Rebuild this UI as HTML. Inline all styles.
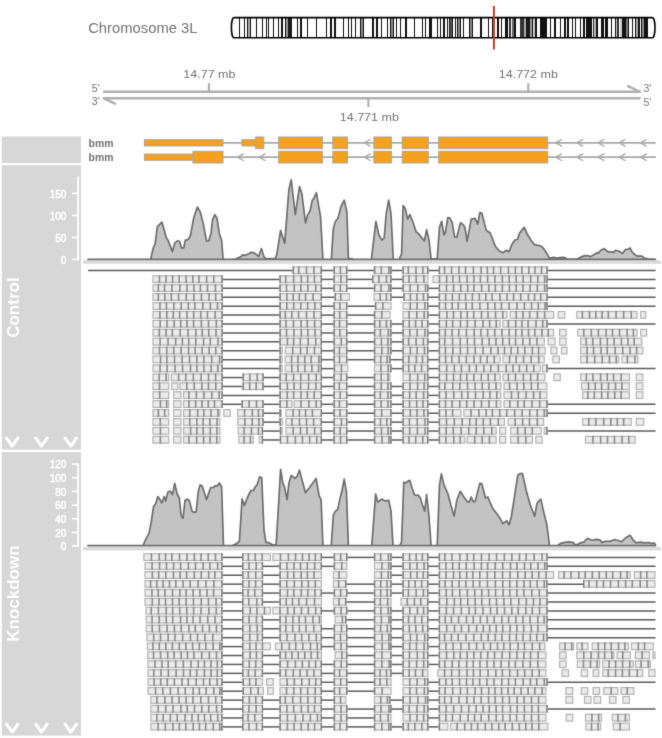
<!DOCTYPE html>
<html><head><meta charset="utf-8"><title>Gviz tracks</title>
<style>html,body{margin:0;padding:0;background:#fff;} svg{display:block;}</style></head>
<body><svg width="662" height="738" viewBox="0 0 662 738">
<defs><filter id="soft" filterUnits="userSpaceOnUse" x="0" y="0" width="662" height="738" color-interpolation-filters="sRGB"><feConvolveMatrix order="3" kernelMatrix="0.01134 0.08382 0.01134 0.08382 0.61935 0.08382 0.01134 0.08382 0.01134" edgeMode="duplicate"/></filter></defs>
<g filter="url(#soft)">
<rect width="662" height="738" fill="#fff"/>
<text x="88.2" y="33.2" font-family="Liberation Sans, Arial, sans-serif" font-size="14.8" fill="#747474">Chromosome 3L</text>
<rect x="231.4" y="17.6" width="423.6" height="20.2" rx="2.6" ry="10" fill="#fff"/>
<rect x="239" y="17.6" width="1" height="20.2" fill="#111"/>
<rect x="244" y="17.6" width="1" height="20.2" fill="#111"/>
<rect x="247" y="17.6" width="1" height="20.2" fill="#111"/>
<rect x="248" y="17.6" width="2" height="20.2" fill="#aaa"/>
<rect x="250" y="17.6" width="1" height="20.2" fill="#111"/>
<rect x="256" y="17.6" width="1" height="20.2" fill="#111"/>
<rect x="262" y="17.6" width="1" height="20.2" fill="#111"/>
<rect x="266" y="17.6" width="1" height="20.2" fill="#111"/>
<rect x="268" y="17.6" width="1" height="20.2" fill="#111"/>
<rect x="273" y="17.6" width="1" height="20.2" fill="#111"/>
<rect x="278" y="17.6" width="1" height="20.2" fill="#111"/>
<rect x="281" y="17.6" width="2" height="20.2" fill="#111"/>
<rect x="285" y="17.6" width="1" height="20.2" fill="#111"/>
<rect x="286" y="17.6" width="2" height="20.2" fill="#999"/>
<rect x="288" y="17.6" width="4" height="20.2" fill="#1a1a1a"/>
<rect x="297" y="17.6" width="1" height="20.2" fill="#111"/>
<rect x="300" y="17.6" width="2" height="20.2" fill="#111"/>
<rect x="307" y="17.6" width="1" height="20.2" fill="#111"/>
<rect x="316" y="17.6" width="1" height="20.2" fill="#111"/>
<rect x="326" y="17.6" width="1" height="20.2" fill="#111"/>
<rect x="330" y="17.6" width="2" height="20.2" fill="#111"/>
<rect x="334" y="17.6" width="2" height="20.2" fill="#111"/>
<rect x="343" y="17.6" width="1" height="20.2" fill="#111"/>
<rect x="348" y="17.6" width="1" height="20.2" fill="#111"/>
<rect x="351" y="17.6" width="1" height="20.2" fill="#111"/>
<rect x="355" y="17.6" width="1" height="20.2" fill="#111"/>
<rect x="360" y="17.6" width="1" height="20.2" fill="#111"/>
<rect x="361" y="17.6" width="2" height="20.2" fill="#888"/>
<rect x="363" y="17.6" width="1" height="20.2" fill="#111"/>
<rect x="372" y="17.6" width="2" height="20.2" fill="#111"/>
<rect x="376" y="17.6" width="2" height="20.2" fill="#111"/>
<rect x="381" y="17.6" width="1" height="20.2" fill="#111"/>
<rect x="387" y="17.6" width="1" height="20.2" fill="#111"/>
<rect x="390" y="17.6" width="1" height="20.2" fill="#111"/>
<rect x="391" y="17.6" width="2" height="20.2" fill="#888"/>
<rect x="393" y="17.6" width="1" height="20.2" fill="#111"/>
<rect x="396" y="17.6" width="1" height="20.2" fill="#111"/>
<rect x="400" y="17.6" width="1" height="20.2" fill="#111"/>
<rect x="405" y="17.6" width="2" height="20.2" fill="#111"/>
<rect x="414" y="17.6" width="1" height="20.2" fill="#111"/>
<rect x="422" y="17.6" width="1" height="20.2" fill="#111"/>
<rect x="425" y="17.6" width="1" height="20.2" fill="#111"/>
<rect x="429" y="17.6" width="3" height="20.2" fill="#111"/>
<rect x="437" y="17.6" width="1" height="20.2" fill="#111"/>
<rect x="440" y="17.6" width="1" height="20.2" fill="#111"/>
<rect x="443" y="17.6" width="2" height="20.2" fill="#111"/>
<rect x="447" y="17.6" width="1" height="20.2" fill="#111"/>
<rect x="449" y="17.6" width="1" height="20.2" fill="#111"/>
<rect x="450" y="17.6" width="2" height="20.2" fill="#555"/>
<rect x="452" y="17.6" width="1" height="20.2" fill="#111"/>
<rect x="455" y="17.6" width="1" height="20.2" fill="#111"/>
<rect x="457" y="17.6" width="1" height="20.2" fill="#111"/>
<rect x="458" y="17.6" width="2" height="20.2" fill="#888"/>
<rect x="460" y="17.6" width="1" height="20.2" fill="#111"/>
<rect x="463" y="17.6" width="1" height="20.2" fill="#111"/>
<rect x="469" y="17.6" width="1" height="20.2" fill="#111"/>
<rect x="470" y="17.6" width="2" height="20.2" fill="#888"/>
<rect x="472" y="17.6" width="1" height="20.2" fill="#111"/>
<rect x="480" y="17.6" width="2" height="20.2" fill="#111"/>
<rect x="488" y="17.6" width="1" height="20.2" fill="#111"/>
<rect x="492" y="17.6" width="1" height="20.2" fill="#111"/>
<rect x="497" y="17.6" width="2" height="20.2" fill="#111"/>
<rect x="501" y="17.6" width="1" height="20.2" fill="#111"/>
<rect x="505" y="17.6" width="3" height="20.2" fill="#111"/>
<rect x="509" y="17.6" width="2" height="20.2" fill="#333"/>
<rect x="512" y="17.6" width="3" height="20.2" fill="#666"/>
<rect x="514" y="17.6" width="2" height="20.2" fill="#111"/>
<rect x="520" y="17.6" width="4" height="20.2" fill="#333"/>
<rect x="524" y="17.6" width="2" height="20.2" fill="#aaa"/>
<rect x="526" y="17.6" width="4" height="20.2" fill="#1a1a1a"/>
<rect x="530" y="17.6" width="2" height="20.2" fill="#999"/>
<rect x="532" y="17.6" width="1" height="20.2" fill="#111"/>
<rect x="533" y="17.6" width="2" height="20.2" fill="#ccc"/>
<rect x="535" y="17.6" width="2" height="20.2" fill="#111"/>
<rect x="540" y="17.6" width="7" height="20.2" fill="#111"/>
<rect x="550" y="17.6" width="1" height="20.2" fill="#111"/>
<rect x="554" y="17.6" width="2" height="20.2" fill="#111"/>
<rect x="560" y="17.6" width="1" height="20.2" fill="#111"/>
<rect x="564" y="17.6" width="2" height="20.2" fill="#111"/>
<rect x="567" y="17.6" width="2" height="20.2" fill="#111"/>
<rect x="572" y="17.6" width="1" height="20.2" fill="#111"/>
<rect x="575" y="17.6" width="1" height="20.2" fill="#111"/>
<rect x="580" y="17.6" width="1" height="20.2" fill="#111"/>
<rect x="583" y="17.6" width="2" height="20.2" fill="#111"/>
<rect x="586" y="17.6" width="6" height="20.2" fill="#111"/>
<rect x="593" y="17.6" width="1" height="20.2" fill="#333"/>
<rect x="594" y="17.6" width="2" height="20.2" fill="#bbb"/>
<rect x="596" y="17.6" width="2" height="20.2" fill="#111"/>
<rect x="601" y="17.6" width="3" height="20.2" fill="#111"/>
<rect x="605" y="17.6" width="3" height="20.2" fill="#111"/>
<rect x="611" y="17.6" width="1" height="20.2" fill="#111"/>
<rect x="615" y="17.6" width="1" height="20.2" fill="#111"/>
<rect x="616" y="17.6" width="1" height="20.2" fill="#ccc"/>
<rect x="617" y="17.6" width="2" height="20.2" fill="#333"/>
<rect x="620" y="17.6" width="2" height="20.2" fill="#ccc"/>
<rect x="622" y="17.6" width="4" height="20.2" fill="#111"/>
<rect x="626" y="17.6" width="2" height="20.2" fill="#777"/>
<rect x="628" y="17.6" width="1" height="20.2" fill="#111"/>
<rect x="632" y="17.6" width="1" height="20.2" fill="#111"/>
<rect x="635" y="17.6" width="1" height="20.2" fill="#111"/>
<rect x="636" y="17.6" width="2" height="20.2" fill="#aaa"/>
<rect x="638" y="17.6" width="2" height="20.2" fill="#111"/>
<rect x="641" y="17.6" width="1" height="20.2" fill="#111"/>
<rect x="642" y="17.6" width="2" height="20.2" fill="#888"/>
<rect x="644" y="17.6" width="4" height="20.2" fill="#111"/>
<rect x="231.4" y="17.6" width="423.6" height="20.2" rx="2.6" ry="10" fill="none" stroke="#000" stroke-width="1.6"/>
<path d="M239.8 17.6 Q236.5 27.7 239.8 37.8" fill="none" stroke="#000" stroke-width="0"/>
<rect x="492.9" y="5.9" width="2" height="43.7" fill="#bb4236"/>
<line x1="103.1" y1="91.7" x2="640.6" y2="91.7" stroke="#b0b0b0" stroke-width="2.6"/>
<line x1="103.1" y1="98.3" x2="640.6" y2="98.3" stroke="#b0b0b0" stroke-width="2.6"/>
<line x1="104" y1="98.3" x2="115" y2="103.6" stroke="#b0b0b0" stroke-width="2.6" stroke-linecap="round"/>
<line x1="628" y1="86.2" x2="639.6" y2="91.7" stroke="#b0b0b0" stroke-width="2.6" stroke-linecap="round"/>
<line x1="208.9" y1="83.2" x2="208.9" y2="91" stroke="#b0b0b0" stroke-width="2.2"/>
<line x1="528.3" y1="83.2" x2="528.3" y2="91" stroke="#b0b0b0" stroke-width="2.2"/>
<line x1="368.4" y1="99" x2="368.4" y2="107" stroke="#b0b0b0" stroke-width="2.2"/>
<text transform="translate(209.4 77.9) scale(1.08 1)" font-size="11.6" text-anchor="middle" font-family="Liberation Sans, Arial, sans-serif" fill="#747474">14.77 mb</text>
<text transform="translate(528.3 77.9) scale(1.08 1)" font-size="11.6" text-anchor="middle" font-family="Liberation Sans, Arial, sans-serif" fill="#747474">14.772 mb</text>
<text transform="translate(369.3 121.2) scale(1.08 1)" font-size="11.6" text-anchor="middle" font-family="Liberation Sans, Arial, sans-serif" fill="#747474">14.771 mb</text>
<text x="91.8" y="91.5" font-size="10.5" font-family="Liberation Sans, Arial, sans-serif" fill="#747474">5'</text>
<text x="91.8" y="105.4" font-size="10.5" font-family="Liberation Sans, Arial, sans-serif" fill="#747474">3'</text>
<text x="643.5" y="91.5" font-size="10.5" font-family="Liberation Sans, Arial, sans-serif" fill="#747474">3'</text>
<text x="643.5" y="105.9" font-size="10.5" font-family="Liberation Sans, Arial, sans-serif" fill="#747474">5'</text>
<rect x="1.8" y="136.5" width="79.2" height="26.5" fill="#d7d7d7"/>
<rect x="1.8" y="165.2" width="79.2" height="284.5" fill="#d7d7d7"/>
<rect x="1.8" y="452" width="79.2" height="283.6" fill="#d7d7d7"/>
<text transform="translate(19.2 307.6) rotate(-90)" text-anchor="middle" font-size="17" font-weight="bold" font-family="Liberation Sans, Arial, sans-serif" fill="#fff">Control</text>
<text transform="translate(19.3 593.6) rotate(-90)" text-anchor="middle" font-size="17" font-weight="bold" font-family="Liberation Sans, Arial, sans-serif" fill="#fff">Knockdown</text>
<line x1="78.1" y1="176.4" x2="78.1" y2="260.2" stroke="#fff" stroke-width="1.8"/>
<line x1="72" y1="259.4" x2="78.5" y2="259.4" stroke="#fff" stroke-width="1.7"/>
<text x="66.4" y="263.5" font-size="10" text-anchor="end" stroke="#fff" stroke-width="0.5" font-family="Liberation Sans, Arial, sans-serif" fill="#fff">0</text>
<line x1="72" y1="237.4" x2="78.5" y2="237.4" stroke="#fff" stroke-width="1.7"/>
<text x="66.4" y="241.5" font-size="10" text-anchor="end" stroke="#fff" stroke-width="0.5" font-family="Liberation Sans, Arial, sans-serif" fill="#fff">50</text>
<line x1="72" y1="215.4" x2="78.5" y2="215.4" stroke="#fff" stroke-width="1.7"/>
<text x="66.4" y="219.5" font-size="10" text-anchor="end" stroke="#fff" stroke-width="0.5" font-family="Liberation Sans, Arial, sans-serif" fill="#fff">100</text>
<line x1="72" y1="193.4" x2="78.5" y2="193.4" stroke="#fff" stroke-width="1.7"/>
<text x="66.4" y="197.5" font-size="10" text-anchor="end" stroke="#fff" stroke-width="0.5" font-family="Liberation Sans, Arial, sans-serif" fill="#fff">150</text>
<line x1="78.1" y1="463.4" x2="78.1" y2="546.8" stroke="#fff" stroke-width="1.8"/>
<line x1="72" y1="546.1" x2="78.5" y2="546.1" stroke="#fff" stroke-width="1.7"/>
<text x="66.4" y="550.2" font-size="10" text-anchor="end" stroke="#fff" stroke-width="0.5" font-family="Liberation Sans, Arial, sans-serif" fill="#fff">0</text>
<line x1="72" y1="532.43" x2="78.5" y2="532.43" stroke="#fff" stroke-width="1.7"/>
<text x="66.4" y="536.53" font-size="10" text-anchor="end" stroke="#fff" stroke-width="0.5" font-family="Liberation Sans, Arial, sans-serif" fill="#fff">20</text>
<line x1="72" y1="518.76" x2="78.5" y2="518.76" stroke="#fff" stroke-width="1.7"/>
<text x="66.4" y="522.86" font-size="10" text-anchor="end" stroke="#fff" stroke-width="0.5" font-family="Liberation Sans, Arial, sans-serif" fill="#fff">40</text>
<line x1="72" y1="505.09" x2="78.5" y2="505.09" stroke="#fff" stroke-width="1.7"/>
<text x="66.4" y="509.19" font-size="10" text-anchor="end" stroke="#fff" stroke-width="0.5" font-family="Liberation Sans, Arial, sans-serif" fill="#fff">60</text>
<line x1="72" y1="491.42" x2="78.5" y2="491.42" stroke="#fff" stroke-width="1.7"/>
<text x="66.4" y="495.52" font-size="10" text-anchor="end" stroke="#fff" stroke-width="0.5" font-family="Liberation Sans, Arial, sans-serif" fill="#fff">80</text>
<line x1="72" y1="477.75" x2="78.5" y2="477.75" stroke="#fff" stroke-width="1.7"/>
<text x="66.4" y="481.85" font-size="10" text-anchor="end" stroke="#fff" stroke-width="0.5" font-family="Liberation Sans, Arial, sans-serif" fill="#fff">100</text>
<line x1="72" y1="464.08" x2="78.5" y2="464.08" stroke="#fff" stroke-width="1.7"/>
<text x="66.4" y="468.18" font-size="10" text-anchor="end" stroke="#fff" stroke-width="0.5" font-family="Liberation Sans, Arial, sans-serif" fill="#fff">120</text>
<polyline points="5.8,437.2 12.2,446.1 18.6,437.2" fill="none" stroke="#fff" stroke-width="3" stroke-linejoin="round"/>
<polyline points="35.1,437.2 41.5,446.1 47.9,437.2" fill="none" stroke="#fff" stroke-width="3" stroke-linejoin="round"/>
<polyline points="64.4,437.2 70.8,446.1 77.2,437.2" fill="none" stroke="#fff" stroke-width="3" stroke-linejoin="round"/>
<polyline points="5.8,723.2 12.2,732.1 18.6,723.2" fill="none" stroke="#fff" stroke-width="3" stroke-linejoin="round"/>
<polyline points="35.1,723.2 41.5,732.1 47.9,723.2" fill="none" stroke="#fff" stroke-width="3" stroke-linejoin="round"/>
<polyline points="64.4,723.2 70.8,732.1 77.2,723.2" fill="none" stroke="#fff" stroke-width="3" stroke-linejoin="round"/>
<rect x="83" y="260.3" width="578" height="3.5" fill="#dadada"/>
<rect x="83" y="546.8" width="578" height="3.6" fill="#dadada"/>
<text x="88.6" y="146.5" font-size="10.4" font-family="Liberation Sans, Arial, sans-serif" font-weight="bold" fill="#737373">bmm</text>
<text x="88.6" y="160.8" font-size="10.4" font-family="Liberation Sans, Arial, sans-serif" font-weight="bold" fill="#737373">bmm</text>
<line x1="144" y1="142.85" x2="655.7" y2="142.85" stroke="#a8a8a8" stroke-width="1.6"/>
<polyline points="370.6,139.25 364.3,142.85 370.6,146.45" fill="none" stroke="#a8a8a8" stroke-width="1.4"/>
<polyline points="562,139.25 555.7,142.85 562,146.45" fill="none" stroke="#a8a8a8" stroke-width="1.4"/>
<polyline points="583.2,139.25 576.9,142.85 583.2,146.45" fill="none" stroke="#a8a8a8" stroke-width="1.4"/>
<polyline points="604.4,139.25 598.1,142.85 604.4,146.45" fill="none" stroke="#a8a8a8" stroke-width="1.4"/>
<polyline points="625.5,139.25 619.2,142.85 625.5,146.45" fill="none" stroke="#a8a8a8" stroke-width="1.4"/>
<polyline points="646.7,139.25 640.4,142.85 646.7,146.45" fill="none" stroke="#a8a8a8" stroke-width="1.4"/>
<rect x="144.4" y="139.75" width="78.6" height="6.2" fill="#f6a11d" stroke="#a5a5a5" stroke-width="1"/>
<rect x="241.9" y="139.75" width="13.9" height="6.2" fill="#f6a11d" stroke="#a5a5a5" stroke-width="1"/>
<rect x="255.6" y="137" width="8.2" height="11.7" fill="#f6a11d" stroke="#a5a5a5" stroke-width="1"/>
<rect x="278.7" y="137" width="43.7" height="11.7" fill="#f6a11d" stroke="#a5a5a5" stroke-width="1"/>
<rect x="332.8" y="137" width="14.6" height="11.7" fill="#f6a11d" stroke="#a5a5a5" stroke-width="1"/>
<rect x="373.9" y="137" width="17.5" height="11.7" fill="#f6a11d" stroke="#a5a5a5" stroke-width="1"/>
<rect x="402.2" y="137" width="26.1" height="11.7" fill="#f6a11d" stroke="#a5a5a5" stroke-width="1"/>
<rect x="438.7" y="137" width="109" height="11.7" fill="#f6a11d" stroke="#a5a5a5" stroke-width="1"/>
<line x1="144" y1="157.15" x2="655.7" y2="157.15" stroke="#a8a8a8" stroke-width="1.6"/>
<polyline points="243.8,153.55 237.5,157.15 243.8,160.75" fill="none" stroke="#a8a8a8" stroke-width="1.4"/>
<polyline points="265.5,153.55 259.2,157.15 265.5,160.75" fill="none" stroke="#a8a8a8" stroke-width="1.4"/>
<polyline points="370.6,153.55 364.3,157.15 370.6,160.75" fill="none" stroke="#a8a8a8" stroke-width="1.4"/>
<polyline points="562,153.55 555.7,157.15 562,160.75" fill="none" stroke="#a8a8a8" stroke-width="1.4"/>
<polyline points="583.2,153.55 576.9,157.15 583.2,160.75" fill="none" stroke="#a8a8a8" stroke-width="1.4"/>
<polyline points="604.4,153.55 598.1,157.15 604.4,160.75" fill="none" stroke="#a8a8a8" stroke-width="1.4"/>
<polyline points="625.5,153.55 619.2,157.15 625.5,160.75" fill="none" stroke="#a8a8a8" stroke-width="1.4"/>
<polyline points="646.7,153.55 640.4,157.15 646.7,160.75" fill="none" stroke="#a8a8a8" stroke-width="1.4"/>
<rect x="144.4" y="154.05" width="48.6" height="6.2" fill="#f6a11d" stroke="#a5a5a5" stroke-width="1"/>
<rect x="193" y="151.3" width="30" height="11.7" fill="#f6a11d" stroke="#a5a5a5" stroke-width="1"/>
<rect x="278.7" y="151.3" width="43.7" height="11.7" fill="#f6a11d" stroke="#a5a5a5" stroke-width="1"/>
<rect x="332.8" y="151.3" width="14.6" height="11.7" fill="#f6a11d" stroke="#a5a5a5" stroke-width="1"/>
<rect x="373.9" y="151.3" width="17.5" height="11.7" fill="#f6a11d" stroke="#a5a5a5" stroke-width="1"/>
<rect x="402.2" y="151.3" width="26.1" height="11.7" fill="#f6a11d" stroke="#a5a5a5" stroke-width="1"/>
<rect x="438.7" y="151.3" width="109" height="11.7" fill="#f6a11d" stroke="#a5a5a5" stroke-width="1"/>
<polygon points="88,259.4 150.6,259.4 153.3,247.8 155.1,244 157.4,226.6 161.9,222.1 166.4,238 168,240.2 172.5,251.6 174.7,243.3 177,241 179.3,241 181.5,247.8 183.8,247.8 185.3,240.2 188.3,239.5 190.6,235 193.6,218.3 197.4,207 200.4,212.3 203.4,224.4 206.5,241 208.7,241 211,233.4 212.5,219.8 214.8,214.6 217,218.3 219.3,233.4 221.6,240.2 223.1,259.4 232,259.4 236,258.8 240.6,256.9 242.8,254.9 245.1,255.3 248.9,253.8 251.1,252.3 254.2,252.8 256.4,254.6 258.7,256.4 261.4,248.5 264,256.9 266.3,258.8 275.3,258.4 276.8,254.6 280.6,230.4 284.7,243.3 288.9,189.6 291.2,179.8 295.3,214.6 299.5,186.6 301.8,193.4 305.5,222.9 307.8,214.6 310.1,210.8 312.3,200.2 313.8,198.7 316.4,192.7 320.6,216.8 322.9,259.4 331.3,259.4 333.3,228.9 335.1,222.1 336.6,219.8 338.1,218 341.1,206.3 344.2,200.2 346.9,212.3 348.4,258.4 354.7,259.4 371.4,259.4 375.9,221.4 378.9,235 381.9,240.2 384.2,238 386.2,213.8 388.7,200.2 391,213.8 393.3,259.4 399.3,259.4 401.6,253.8 403.1,205.5 405.3,208.5 407.6,219.1 409.9,214.6 412.9,222.1 416.2,231.9 418.3,233.4 424.4,241 426.6,229.7 428.9,239.5 431.1,258.8 437.2,258.8 439.5,227.4 441.7,221.4 444,235 445.5,231.9 447.8,217.6 450,218 452.3,222.9 454.6,237.2 456.8,237.2 460.6,222.6 463.6,225.1 465.1,228.2 467.1,241.3 471.2,219.1 475,218.3 477.7,224.1 479.8,212.6 481.8,213 486.3,230.4 490.1,232.7 495.3,246.3 499.1,250.8 502.9,252.8 506,250.4 509.1,251.6 512.1,244 515.1,239.8 517.4,239.5 519.6,233.1 524.2,227.4 527.2,234.2 531,240.2 534.7,244.8 539.3,245.5 542.3,247 546.1,252.3 549.5,258.4 553.6,257.3 556.6,258.1 560.4,257.6 564.3,257.4 568,259.2 577.1,259.2 580.9,257.1 584.7,255.6 588.4,255.9 590.7,256.6 593.7,254.7 596.7,252.9 598.3,253.2 600.5,250.6 604.3,248.6 607.3,251.4 609.6,252.1 611.8,251.8 613.4,252.6 615.6,250.3 619.4,251.4 622.4,253.6 625.4,249.5 628.5,249.1 630,248 632.2,252.1 636,255.6 639,256.2 642.1,256.2 644.3,258.2 648.1,258.9 655.5,259.4 655.5,259.4 88,259.4" fill="#c3c3c3" stroke="#6e6e6e" stroke-width="1.7" stroke-linejoin="round"/>
<polygon points="88,545.6 143,545.6 146,538.8 149.1,533.2 151.3,521.5 153.6,506.4 155.9,503.3 157.8,496.5 159.6,498.8 161.9,503 164.2,496.5 165.7,501.1 167.9,492 170.2,491 172.5,494.6 174.7,483.4 177,493.5 179.3,498 181.1,515.4 183,518.4 185,500.3 187.6,499.1 189.5,501.1 192.1,511.2 194.1,512.4 196.2,511.6 198.2,492 200.1,484.9 202.2,486 206.5,499.6 210.7,487.5 213.3,487.5 215.5,485.7 217.3,486 219.3,483 221.6,486.7 223.5,545.6 232.3,545.6 236.8,543.4 239.4,541.1 242.1,498.8 244.4,505.6 246.6,499.6 248.9,494.3 251.1,490.5 253.4,490.5 254.9,487.5 257.2,484.5 259.5,476.9 261.7,477.7 264,530.5 266,542.3 268.5,542.6 273,544.9 276.1,544.9 278.3,509.4 280.6,469.4 282.9,483.7 284.4,486.7 287.1,499.6 288.9,483 291.2,475.4 295,478.4 297.2,476.1 299.5,470.1 301.8,479.2 305.5,492.8 310.1,486.7 316.1,478.4 319.1,495.8 321.1,499.6 322.9,545.6 331.3,545.6 333.3,515.4 335.1,511.6 337.8,509.1 339.6,500.3 341.9,491.3 344.2,479.2 346.4,491.3 348.4,545.6 371.8,545.6 375.6,494 377.7,502.1 380.1,500.3 382.2,499.1 384.7,501.1 388.7,500.3 391,510.9 393,545.6 399.8,545.6 401.6,541.9 403.8,482.2 405.8,483 407.6,481.4 409.9,480.4 412.1,488.2 414.4,494.6 416.7,495.5 418.2,495 420.3,498 422.4,504.8 424.7,511.2 426.6,494.6 428.9,515.4 431.1,545.6 437.2,545.6 439.5,485.2 441.4,473.9 444,485.2 447.8,493.5 450.8,504.8 454.1,516.2 456.8,500.3 460.3,491.3 463.6,496.5 467.4,501.8 469.2,501.8 471.2,497 473.4,501.8 475.3,501.1 479.8,483.4 481.8,483.7 485.5,498 487.8,497 492.8,508.6 497.6,514.7 500,518.4 503,523.7 506.8,520.7 509.1,524.8 511.3,516.9 514.4,497.3 517.8,474.9 519.6,473.9 522.4,473.4 526.4,491.3 530.2,504.8 534.7,516.2 537,503.3 540.8,499.1 543.8,512.4 546.8,524.5 549.5,545.6 557.4,545.6 560.4,543.4 565,542.3 568.7,541.9 573.3,542.6 575.3,545.1 577.9,544.4 580.1,542.9 583.9,542.1 587.4,538.3 590.7,539.8 593.7,540.2 596,539.4 599.8,539.8 602,542.6 605.1,541.4 610.3,541.4 614.9,539.5 618.6,540.8 621.7,541.7 625.4,538 630,535.3 633,539.8 636,542.9 640.5,542.1 644.3,542.9 648.9,542.6 651.1,543.6 653.4,542.9 654.9,543.6 655.5,545.6 655.5,545.6 88,545.6" fill="#c3c3c3" stroke="#6e6e6e" stroke-width="1.7" stroke-linejoin="round"/>
<line x1="88" y1="270.5" x2="292.6" y2="270.5" stroke="#5c5c5c" stroke-width="1.5"/>
<line x1="322" y1="270.5" x2="333.4" y2="270.5" stroke="#5c5c5c" stroke-width="1.5"/>
<line x1="347.4" y1="270.5" x2="373.9" y2="270.5" stroke="#5c5c5c" stroke-width="1.5"/>
<line x1="391.6" y1="270.5" x2="402.4" y2="270.5" stroke="#5c5c5c" stroke-width="1.5"/>
<line x1="428.5" y1="270.5" x2="438.7" y2="270.5" stroke="#5c5c5c" stroke-width="1.5"/>
<line x1="547.7" y1="270.5" x2="655.5" y2="270.5" stroke="#5c5c5c" stroke-width="1.5"/>
<rect x="293.2" y="266.9" width="28.2" height="6.7" fill="#ebebeb" stroke="#b3b3b3" stroke-width="1.2"/>
<rect x="297.97" y="266.3" width="1.6" height="7.9" fill="#8a8a8a"/>
<rect x="305.65" y="266.3" width="1.6" height="7.9" fill="#8a8a8a"/>
<rect x="313.17" y="266.3" width="1.6" height="7.9" fill="#8a8a8a"/>
<rect x="334" y="266.9" width="12.8" height="6.7" fill="#ebebeb" stroke="#b3b3b3" stroke-width="1.2"/>
<rect x="339.64" y="266.3" width="1.6" height="7.9" fill="#8a8a8a"/>
<rect x="374.5" y="266.9" width="16.5" height="6.7" fill="#ebebeb" stroke="#b3b3b3" stroke-width="1.2"/>
<rect x="380.51" y="266.3" width="1.6" height="7.9" fill="#8a8a8a"/>
<rect x="388.08" y="266.3" width="1.6" height="7.9" fill="#8a8a8a"/>
<rect x="403" y="266.9" width="24.9" height="6.7" fill="#ebebeb" stroke="#b3b3b3" stroke-width="1.2"/>
<rect x="407.52" y="266.3" width="1.6" height="7.9" fill="#8a8a8a"/>
<rect x="415.17" y="266.3" width="1.6" height="7.9" fill="#8a8a8a"/>
<rect x="422.1" y="266.3" width="1.6" height="7.9" fill="#8a8a8a"/>
<rect x="439.3" y="266.9" width="107.8" height="6.7" fill="#ebebeb" stroke="#b3b3b3" stroke-width="1.2"/>
<rect x="443.76" y="266.3" width="1.6" height="7.9" fill="#8a8a8a"/>
<rect x="450.71" y="266.3" width="1.6" height="7.9" fill="#8a8a8a"/>
<rect x="458.16" y="266.3" width="1.6" height="7.9" fill="#8a8a8a"/>
<rect x="464.72" y="266.3" width="1.6" height="7.9" fill="#8a8a8a"/>
<rect x="472.57" y="266.3" width="1.6" height="7.9" fill="#8a8a8a"/>
<rect x="480.34" y="266.3" width="1.6" height="7.9" fill="#8a8a8a"/>
<rect x="486.55" y="266.3" width="1.6" height="7.9" fill="#8a8a8a"/>
<rect x="492.74" y="266.3" width="1.6" height="7.9" fill="#8a8a8a"/>
<rect x="499.87" y="266.3" width="1.6" height="7.9" fill="#8a8a8a"/>
<rect x="507.71" y="266.3" width="1.6" height="7.9" fill="#8a8a8a"/>
<rect x="514.54" y="266.3" width="1.6" height="7.9" fill="#8a8a8a"/>
<rect x="521.08" y="266.3" width="1.6" height="7.9" fill="#8a8a8a"/>
<rect x="527.99" y="266.3" width="1.6" height="7.9" fill="#8a8a8a"/>
<rect x="534.2" y="266.3" width="1.6" height="7.9" fill="#8a8a8a"/>
<rect x="540.74" y="266.3" width="1.6" height="7.9" fill="#8a8a8a"/>
<rect x="292.6" y="266.3" width="1.4" height="7.9" fill="#7c7c7c"/>
<rect x="320.6" y="266.3" width="1.4" height="7.9" fill="#7c7c7c"/>
<rect x="333.4" y="266.3" width="1.4" height="7.9" fill="#7c7c7c"/>
<rect x="346" y="266.3" width="1.4" height="7.9" fill="#7c7c7c"/>
<rect x="373.9" y="266.3" width="1.4" height="7.9" fill="#7c7c7c"/>
<rect x="390.2" y="266.3" width="1.4" height="7.9" fill="#7c7c7c"/>
<rect x="402.4" y="266.3" width="1.4" height="7.9" fill="#7c7c7c"/>
<rect x="427.1" y="266.3" width="1.4" height="7.9" fill="#7c7c7c"/>
<rect x="438.7" y="266.3" width="1.4" height="7.9" fill="#7c7c7c"/>
<rect x="546.3" y="266.3" width="1.4" height="7.9" fill="#7c7c7c"/>
<line x1="222.8" y1="279.42" x2="279.4" y2="279.42" stroke="#5c5c5c" stroke-width="1.5"/>
<line x1="322" y1="279.42" x2="333.4" y2="279.42" stroke="#5c5c5c" stroke-width="1.5"/>
<line x1="347.4" y1="279.42" x2="372" y2="279.42" stroke="#5c5c5c" stroke-width="1.5"/>
<line x1="391.6" y1="279.42" x2="402.4" y2="279.42" stroke="#5c5c5c" stroke-width="1.5"/>
<line x1="547.7" y1="279.42" x2="655.5" y2="279.42" stroke="#5c5c5c" stroke-width="1.5"/>
<rect x="153" y="275.82" width="69.2" height="6.7" fill="#ebebeb" stroke="#b3b3b3" stroke-width="1.2"/>
<rect x="158.64" y="275.22" width="1.6" height="7.9" fill="#8a8a8a"/>
<rect x="165.21" y="275.22" width="1.6" height="7.9" fill="#8a8a8a"/>
<rect x="171.78" y="275.22" width="1.6" height="7.9" fill="#8a8a8a"/>
<rect x="178.32" y="275.22" width="1.6" height="7.9" fill="#8a8a8a"/>
<rect x="185.3" y="275.22" width="1.6" height="7.9" fill="#8a8a8a"/>
<rect x="191.97" y="275.22" width="1.6" height="7.9" fill="#8a8a8a"/>
<rect x="198.16" y="275.22" width="1.6" height="7.9" fill="#8a8a8a"/>
<rect x="205.81" y="275.22" width="1.6" height="7.9" fill="#8a8a8a"/>
<rect x="212.97" y="275.22" width="1.6" height="7.9" fill="#8a8a8a"/>
<rect x="280" y="275.82" width="41.4" height="6.7" fill="#ebebeb" stroke="#b3b3b3" stroke-width="1.2"/>
<rect x="284.9" y="275.22" width="1.6" height="7.9" fill="#8a8a8a"/>
<rect x="292.83" y="275.22" width="1.6" height="7.9" fill="#8a8a8a"/>
<rect x="300.53" y="275.22" width="1.6" height="7.9" fill="#8a8a8a"/>
<rect x="306.9" y="275.22" width="1.6" height="7.9" fill="#8a8a8a"/>
<rect x="313.65" y="275.22" width="1.6" height="7.9" fill="#8a8a8a"/>
<rect x="334" y="275.82" width="12.8" height="6.7" fill="#ebebeb" stroke="#b3b3b3" stroke-width="1.2"/>
<rect x="340.16" y="275.22" width="1.6" height="7.9" fill="#8a8a8a"/>
<rect x="372.6" y="275.82" width="18.4" height="6.7" fill="#ebebeb" stroke="#b3b3b3" stroke-width="1.2"/>
<rect x="378.06" y="275.22" width="1.6" height="7.9" fill="#8a8a8a"/>
<rect x="385.71" y="275.22" width="1.6" height="7.9" fill="#8a8a8a"/>
<rect x="403" y="275.82" width="24.9" height="6.7" fill="#ebebeb" stroke="#b3b3b3" stroke-width="1.2"/>
<rect x="408.18" y="275.22" width="1.6" height="7.9" fill="#8a8a8a"/>
<rect x="415.39" y="275.22" width="1.6" height="7.9" fill="#8a8a8a"/>
<rect x="423.12" y="275.22" width="1.6" height="7.9" fill="#8a8a8a"/>
<rect x="433" y="275.82" width="114.1" height="6.7" fill="#ebebeb" stroke="#b3b3b3" stroke-width="1.2"/>
<rect x="438.66" y="275.22" width="1.6" height="7.9" fill="#8a8a8a"/>
<rect x="445.87" y="275.22" width="1.6" height="7.9" fill="#8a8a8a"/>
<rect x="452.09" y="275.22" width="1.6" height="7.9" fill="#8a8a8a"/>
<rect x="458.67" y="275.22" width="1.6" height="7.9" fill="#8a8a8a"/>
<rect x="466.26" y="275.22" width="1.6" height="7.9" fill="#8a8a8a"/>
<rect x="473.15" y="275.22" width="1.6" height="7.9" fill="#8a8a8a"/>
<rect x="479.61" y="275.22" width="1.6" height="7.9" fill="#8a8a8a"/>
<rect x="486.75" y="275.22" width="1.6" height="7.9" fill="#8a8a8a"/>
<rect x="494.17" y="275.22" width="1.6" height="7.9" fill="#8a8a8a"/>
<rect x="501.53" y="275.22" width="1.6" height="7.9" fill="#8a8a8a"/>
<rect x="508.36" y="275.22" width="1.6" height="7.9" fill="#8a8a8a"/>
<rect x="515.3" y="275.22" width="1.6" height="7.9" fill="#8a8a8a"/>
<rect x="522.36" y="275.22" width="1.6" height="7.9" fill="#8a8a8a"/>
<rect x="529.91" y="275.22" width="1.6" height="7.9" fill="#8a8a8a"/>
<rect x="537" y="275.22" width="1.6" height="7.9" fill="#8a8a8a"/>
<rect x="543.86" y="275.22" width="1.6" height="7.9" fill="#8a8a8a"/>
<rect x="221.4" y="275.22" width="1.4" height="7.9" fill="#7c7c7c"/>
<rect x="279.4" y="275.22" width="1.4" height="7.9" fill="#7c7c7c"/>
<rect x="320.6" y="275.22" width="1.4" height="7.9" fill="#7c7c7c"/>
<rect x="333.4" y="275.22" width="1.4" height="7.9" fill="#7c7c7c"/>
<rect x="346" y="275.22" width="1.4" height="7.9" fill="#7c7c7c"/>
<rect x="372" y="275.22" width="1.4" height="7.9" fill="#7c7c7c"/>
<rect x="390.2" y="275.22" width="1.4" height="7.9" fill="#7c7c7c"/>
<rect x="402.4" y="275.22" width="1.4" height="7.9" fill="#7c7c7c"/>
<rect x="546.3" y="275.22" width="1.4" height="7.9" fill="#7c7c7c"/>
<line x1="222.8" y1="288.34" x2="279.4" y2="288.34" stroke="#5c5c5c" stroke-width="1.5"/>
<line x1="322" y1="288.34" x2="333.4" y2="288.34" stroke="#5c5c5c" stroke-width="1.5"/>
<line x1="347.4" y1="288.34" x2="373.9" y2="288.34" stroke="#5c5c5c" stroke-width="1.5"/>
<line x1="391.6" y1="288.34" x2="402.4" y2="288.34" stroke="#5c5c5c" stroke-width="1.5"/>
<line x1="428.5" y1="288.34" x2="438.7" y2="288.34" stroke="#5c5c5c" stroke-width="1.5"/>
<line x1="547.7" y1="288.34" x2="655.5" y2="288.34" stroke="#5c5c5c" stroke-width="1.5"/>
<rect x="153" y="284.74" width="69.2" height="6.7" fill="#ebebeb" stroke="#b3b3b3" stroke-width="1.2"/>
<rect x="157.52" y="284.14" width="1.6" height="7.9" fill="#8a8a8a"/>
<rect x="163.75" y="284.14" width="1.6" height="7.9" fill="#8a8a8a"/>
<rect x="171.17" y="284.14" width="1.6" height="7.9" fill="#8a8a8a"/>
<rect x="179.09" y="284.14" width="1.6" height="7.9" fill="#8a8a8a"/>
<rect x="186.3" y="284.14" width="1.6" height="7.9" fill="#8a8a8a"/>
<rect x="193.16" y="284.14" width="1.6" height="7.9" fill="#8a8a8a"/>
<rect x="199.62" y="284.14" width="1.6" height="7.9" fill="#8a8a8a"/>
<rect x="206.67" y="284.14" width="1.6" height="7.9" fill="#8a8a8a"/>
<rect x="214.59" y="284.14" width="1.6" height="7.9" fill="#8a8a8a"/>
<rect x="280" y="284.74" width="41.4" height="6.7" fill="#ebebeb" stroke="#b3b3b3" stroke-width="1.2"/>
<rect x="285.75" y="284.14" width="1.6" height="7.9" fill="#8a8a8a"/>
<rect x="293.44" y="284.14" width="1.6" height="7.9" fill="#8a8a8a"/>
<rect x="300.01" y="284.14" width="1.6" height="7.9" fill="#8a8a8a"/>
<rect x="307.09" y="284.14" width="1.6" height="7.9" fill="#8a8a8a"/>
<rect x="314.95" y="284.14" width="1.6" height="7.9" fill="#8a8a8a"/>
<rect x="334" y="284.74" width="12.8" height="6.7" fill="#ebebeb" stroke="#b3b3b3" stroke-width="1.2"/>
<rect x="339.55" y="284.14" width="1.6" height="7.9" fill="#8a8a8a"/>
<rect x="374.5" y="284.74" width="16.5" height="6.7" fill="#ebebeb" stroke="#b3b3b3" stroke-width="1.2"/>
<rect x="380.27" y="284.14" width="1.6" height="7.9" fill="#8a8a8a"/>
<rect x="388.14" y="284.14" width="1.6" height="7.9" fill="#8a8a8a"/>
<rect x="403" y="284.74" width="24.9" height="6.7" fill="#ebebeb" stroke="#b3b3b3" stroke-width="1.2"/>
<rect x="409.33" y="284.14" width="1.6" height="7.9" fill="#8a8a8a"/>
<rect x="416.96" y="284.14" width="1.6" height="7.9" fill="#8a8a8a"/>
<rect x="424.7" y="284.14" width="1.6" height="7.9" fill="#8a8a8a"/>
<rect x="439.3" y="284.74" width="107.8" height="6.7" fill="#ebebeb" stroke="#b3b3b3" stroke-width="1.2"/>
<rect x="445.69" y="284.14" width="1.6" height="7.9" fill="#8a8a8a"/>
<rect x="452.78" y="284.14" width="1.6" height="7.9" fill="#8a8a8a"/>
<rect x="459.94" y="284.14" width="1.6" height="7.9" fill="#8a8a8a"/>
<rect x="466.85" y="284.14" width="1.6" height="7.9" fill="#8a8a8a"/>
<rect x="473.1" y="284.14" width="1.6" height="7.9" fill="#8a8a8a"/>
<rect x="480.82" y="284.14" width="1.6" height="7.9" fill="#8a8a8a"/>
<rect x="488" y="284.14" width="1.6" height="7.9" fill="#8a8a8a"/>
<rect x="494.51" y="284.14" width="1.6" height="7.9" fill="#8a8a8a"/>
<rect x="501.56" y="284.14" width="1.6" height="7.9" fill="#8a8a8a"/>
<rect x="508.59" y="284.14" width="1.6" height="7.9" fill="#8a8a8a"/>
<rect x="515.38" y="284.14" width="1.6" height="7.9" fill="#8a8a8a"/>
<rect x="522.15" y="284.14" width="1.6" height="7.9" fill="#8a8a8a"/>
<rect x="529.27" y="284.14" width="1.6" height="7.9" fill="#8a8a8a"/>
<rect x="536.54" y="284.14" width="1.6" height="7.9" fill="#8a8a8a"/>
<rect x="543.8" y="284.14" width="1.6" height="7.9" fill="#8a8a8a"/>
<rect x="221.4" y="284.14" width="1.4" height="7.9" fill="#7c7c7c"/>
<rect x="279.4" y="284.14" width="1.4" height="7.9" fill="#7c7c7c"/>
<rect x="320.6" y="284.14" width="1.4" height="7.9" fill="#7c7c7c"/>
<rect x="333.4" y="284.14" width="1.4" height="7.9" fill="#7c7c7c"/>
<rect x="346" y="284.14" width="1.4" height="7.9" fill="#7c7c7c"/>
<rect x="373.9" y="284.14" width="1.4" height="7.9" fill="#7c7c7c"/>
<rect x="390.2" y="284.14" width="1.4" height="7.9" fill="#7c7c7c"/>
<rect x="402.4" y="284.14" width="1.4" height="7.9" fill="#7c7c7c"/>
<rect x="427.1" y="284.14" width="1.4" height="7.9" fill="#7c7c7c"/>
<rect x="438.7" y="284.14" width="1.4" height="7.9" fill="#7c7c7c"/>
<rect x="546.3" y="284.14" width="1.4" height="7.9" fill="#7c7c7c"/>
<line x1="222.8" y1="297.26" x2="279.4" y2="297.26" stroke="#5c5c5c" stroke-width="1.5"/>
<line x1="322" y1="297.26" x2="334.6" y2="297.26" stroke="#5c5c5c" stroke-width="1.5"/>
<line x1="391.6" y1="297.26" x2="403.3" y2="297.26" stroke="#5c5c5c" stroke-width="1.5"/>
<line x1="428.5" y1="297.26" x2="438.7" y2="297.26" stroke="#5c5c5c" stroke-width="1.5"/>
<line x1="547.7" y1="297.26" x2="655.5" y2="297.26" stroke="#5c5c5c" stroke-width="1.5"/>
<rect x="153" y="293.66" width="69.2" height="6.7" fill="#ebebeb" stroke="#b3b3b3" stroke-width="1.2"/>
<rect x="157.52" y="293.06" width="1.6" height="7.9" fill="#8a8a8a"/>
<rect x="164.08" y="293.06" width="1.6" height="7.9" fill="#8a8a8a"/>
<rect x="170.55" y="293.06" width="1.6" height="7.9" fill="#8a8a8a"/>
<rect x="177.75" y="293.06" width="1.6" height="7.9" fill="#8a8a8a"/>
<rect x="185.45" y="293.06" width="1.6" height="7.9" fill="#8a8a8a"/>
<rect x="193.04" y="293.06" width="1.6" height="7.9" fill="#8a8a8a"/>
<rect x="200.62" y="293.06" width="1.6" height="7.9" fill="#8a8a8a"/>
<rect x="208.24" y="293.06" width="1.6" height="7.9" fill="#8a8a8a"/>
<rect x="214.85" y="293.06" width="1.6" height="7.9" fill="#8a8a8a"/>
<rect x="280" y="293.66" width="41.4" height="6.7" fill="#ebebeb" stroke="#b3b3b3" stroke-width="1.2"/>
<rect x="286.07" y="293.06" width="1.6" height="7.9" fill="#8a8a8a"/>
<rect x="292.37" y="293.06" width="1.6" height="7.9" fill="#8a8a8a"/>
<rect x="298.55" y="293.06" width="1.6" height="7.9" fill="#8a8a8a"/>
<rect x="304.72" y="293.06" width="1.6" height="7.9" fill="#8a8a8a"/>
<rect x="312.23" y="293.06" width="1.6" height="7.9" fill="#8a8a8a"/>
<rect x="335.2" y="293.66" width="14.2" height="6.7" fill="#ebebeb" stroke="#b3b3b3" stroke-width="1.2"/>
<rect x="339.91" y="293.06" width="1.6" height="7.9" fill="#8a8a8a"/>
<rect x="374.1" y="293.66" width="16.9" height="6.7" fill="#ebebeb" stroke="#b3b3b3" stroke-width="1.2"/>
<rect x="379.38" y="293.06" width="1.6" height="7.9" fill="#8a8a8a"/>
<rect x="385.65" y="293.06" width="1.6" height="7.9" fill="#8a8a8a"/>
<rect x="403.9" y="293.66" width="24" height="6.7" fill="#ebebeb" stroke="#b3b3b3" stroke-width="1.2"/>
<rect x="409.62" y="293.06" width="1.6" height="7.9" fill="#8a8a8a"/>
<rect x="416.07" y="293.06" width="1.6" height="7.9" fill="#8a8a8a"/>
<rect x="422.71" y="293.06" width="1.6" height="7.9" fill="#8a8a8a"/>
<rect x="439.3" y="293.66" width="107.8" height="6.7" fill="#ebebeb" stroke="#b3b3b3" stroke-width="1.2"/>
<rect x="444.84" y="293.06" width="1.6" height="7.9" fill="#8a8a8a"/>
<rect x="451.57" y="293.06" width="1.6" height="7.9" fill="#8a8a8a"/>
<rect x="458.57" y="293.06" width="1.6" height="7.9" fill="#8a8a8a"/>
<rect x="464.77" y="293.06" width="1.6" height="7.9" fill="#8a8a8a"/>
<rect x="471.61" y="293.06" width="1.6" height="7.9" fill="#8a8a8a"/>
<rect x="478.52" y="293.06" width="1.6" height="7.9" fill="#8a8a8a"/>
<rect x="485.01" y="293.06" width="1.6" height="7.9" fill="#8a8a8a"/>
<rect x="491.35" y="293.06" width="1.6" height="7.9" fill="#8a8a8a"/>
<rect x="499.12" y="293.06" width="1.6" height="7.9" fill="#8a8a8a"/>
<rect x="506.19" y="293.06" width="1.6" height="7.9" fill="#8a8a8a"/>
<rect x="512.72" y="293.06" width="1.6" height="7.9" fill="#8a8a8a"/>
<rect x="519.96" y="293.06" width="1.6" height="7.9" fill="#8a8a8a"/>
<rect x="527.58" y="293.06" width="1.6" height="7.9" fill="#8a8a8a"/>
<rect x="533.77" y="293.06" width="1.6" height="7.9" fill="#8a8a8a"/>
<rect x="539.95" y="293.06" width="1.6" height="7.9" fill="#8a8a8a"/>
<rect x="221.4" y="293.06" width="1.4" height="7.9" fill="#7c7c7c"/>
<rect x="279.4" y="293.06" width="1.4" height="7.9" fill="#7c7c7c"/>
<rect x="320.6" y="293.06" width="1.4" height="7.9" fill="#7c7c7c"/>
<rect x="334.6" y="293.06" width="1.4" height="7.9" fill="#7c7c7c"/>
<rect x="390.2" y="293.06" width="1.4" height="7.9" fill="#7c7c7c"/>
<rect x="403.3" y="293.06" width="1.4" height="7.9" fill="#7c7c7c"/>
<rect x="427.1" y="293.06" width="1.4" height="7.9" fill="#7c7c7c"/>
<rect x="438.7" y="293.06" width="1.4" height="7.9" fill="#7c7c7c"/>
<rect x="546.3" y="293.06" width="1.4" height="7.9" fill="#7c7c7c"/>
<line x1="222.8" y1="306.18" x2="279.4" y2="306.18" stroke="#5c5c5c" stroke-width="1.5"/>
<line x1="322" y1="306.18" x2="333.4" y2="306.18" stroke="#5c5c5c" stroke-width="1.5"/>
<line x1="347.4" y1="306.18" x2="374.9" y2="306.18" stroke="#5c5c5c" stroke-width="1.5"/>
<line x1="428.5" y1="306.18" x2="438.7" y2="306.18" stroke="#5c5c5c" stroke-width="1.5"/>
<line x1="547.7" y1="306.18" x2="655.5" y2="306.18" stroke="#5c5c5c" stroke-width="1.5"/>
<rect x="153" y="302.58" width="69.2" height="6.7" fill="#ebebeb" stroke="#b3b3b3" stroke-width="1.2"/>
<rect x="159.18" y="301.98" width="1.6" height="7.9" fill="#8a8a8a"/>
<rect x="165.61" y="301.98" width="1.6" height="7.9" fill="#8a8a8a"/>
<rect x="173.03" y="301.98" width="1.6" height="7.9" fill="#8a8a8a"/>
<rect x="180.4" y="301.98" width="1.6" height="7.9" fill="#8a8a8a"/>
<rect x="187.53" y="301.98" width="1.6" height="7.9" fill="#8a8a8a"/>
<rect x="194.08" y="301.98" width="1.6" height="7.9" fill="#8a8a8a"/>
<rect x="201.99" y="301.98" width="1.6" height="7.9" fill="#8a8a8a"/>
<rect x="209.57" y="301.98" width="1.6" height="7.9" fill="#8a8a8a"/>
<rect x="216.65" y="301.98" width="1.6" height="7.9" fill="#8a8a8a"/>
<rect x="280" y="302.58" width="41.4" height="6.7" fill="#ebebeb" stroke="#b3b3b3" stroke-width="1.2"/>
<rect x="286.01" y="301.98" width="1.6" height="7.9" fill="#8a8a8a"/>
<rect x="292.87" y="301.98" width="1.6" height="7.9" fill="#8a8a8a"/>
<rect x="300.05" y="301.98" width="1.6" height="7.9" fill="#8a8a8a"/>
<rect x="306.78" y="301.98" width="1.6" height="7.9" fill="#8a8a8a"/>
<rect x="314.07" y="301.98" width="1.6" height="7.9" fill="#8a8a8a"/>
<rect x="334" y="302.58" width="12.8" height="6.7" fill="#ebebeb" stroke="#b3b3b3" stroke-width="1.2"/>
<rect x="339.17" y="301.98" width="1.6" height="7.9" fill="#8a8a8a"/>
<rect x="375.5" y="302.58" width="15.5" height="6.7" fill="#ebebeb" stroke="#b3b3b3" stroke-width="1.2"/>
<rect x="382.05" y="301.98" width="1.6" height="7.9" fill="#8a8a8a"/>
<rect x="403" y="302.58" width="24.9" height="6.7" fill="#ebebeb" stroke="#b3b3b3" stroke-width="1.2"/>
<rect x="409.51" y="301.98" width="1.6" height="7.9" fill="#8a8a8a"/>
<rect x="416.22" y="301.98" width="1.6" height="7.9" fill="#8a8a8a"/>
<rect x="424.06" y="301.98" width="1.6" height="7.9" fill="#8a8a8a"/>
<rect x="439.3" y="302.58" width="107.8" height="6.7" fill="#ebebeb" stroke="#b3b3b3" stroke-width="1.2"/>
<rect x="444.75" y="301.98" width="1.6" height="7.9" fill="#8a8a8a"/>
<rect x="451.35" y="301.98" width="1.6" height="7.9" fill="#8a8a8a"/>
<rect x="457.52" y="301.98" width="1.6" height="7.9" fill="#8a8a8a"/>
<rect x="465.25" y="301.98" width="1.6" height="7.9" fill="#8a8a8a"/>
<rect x="471.47" y="301.98" width="1.6" height="7.9" fill="#8a8a8a"/>
<rect x="479.09" y="301.98" width="1.6" height="7.9" fill="#8a8a8a"/>
<rect x="486.98" y="301.98" width="1.6" height="7.9" fill="#8a8a8a"/>
<rect x="494.15" y="301.98" width="1.6" height="7.9" fill="#8a8a8a"/>
<rect x="500.61" y="301.98" width="1.6" height="7.9" fill="#8a8a8a"/>
<rect x="508.32" y="301.98" width="1.6" height="7.9" fill="#8a8a8a"/>
<rect x="516.23" y="301.98" width="1.6" height="7.9" fill="#8a8a8a"/>
<rect x="523.64" y="301.98" width="1.6" height="7.9" fill="#8a8a8a"/>
<rect x="530.71" y="301.98" width="1.6" height="7.9" fill="#8a8a8a"/>
<rect x="537.54" y="301.98" width="1.6" height="7.9" fill="#8a8a8a"/>
<rect x="544.31" y="301.98" width="1.6" height="7.9" fill="#8a8a8a"/>
<rect x="221.4" y="301.98" width="1.4" height="7.9" fill="#7c7c7c"/>
<rect x="279.4" y="301.98" width="1.4" height="7.9" fill="#7c7c7c"/>
<rect x="320.6" y="301.98" width="1.4" height="7.9" fill="#7c7c7c"/>
<rect x="333.4" y="301.98" width="1.4" height="7.9" fill="#7c7c7c"/>
<rect x="346" y="301.98" width="1.4" height="7.9" fill="#7c7c7c"/>
<rect x="374.9" y="301.98" width="1.4" height="7.9" fill="#7c7c7c"/>
<rect x="427.1" y="301.98" width="1.4" height="7.9" fill="#7c7c7c"/>
<rect x="438.7" y="301.98" width="1.4" height="7.9" fill="#7c7c7c"/>
<rect x="546.3" y="301.98" width="1.4" height="7.9" fill="#7c7c7c"/>
<line x1="222.8" y1="315.1" x2="279.4" y2="315.1" stroke="#5c5c5c" stroke-width="1.5"/>
<line x1="322" y1="315.1" x2="333.4" y2="315.1" stroke="#5c5c5c" stroke-width="1.5"/>
<line x1="347.4" y1="315.1" x2="373.9" y2="315.1" stroke="#5c5c5c" stroke-width="1.5"/>
<line x1="428.5" y1="315.1" x2="438.7" y2="315.1" stroke="#5c5c5c" stroke-width="1.5"/>
<rect x="153" y="311.5" width="69.2" height="6.7" fill="#ebebeb" stroke="#b3b3b3" stroke-width="1.2"/>
<rect x="159.07" y="310.9" width="1.6" height="7.9" fill="#8a8a8a"/>
<rect x="166" y="310.9" width="1.6" height="7.9" fill="#8a8a8a"/>
<rect x="172.5" y="310.9" width="1.6" height="7.9" fill="#8a8a8a"/>
<rect x="178.83" y="310.9" width="1.6" height="7.9" fill="#8a8a8a"/>
<rect x="186.18" y="310.9" width="1.6" height="7.9" fill="#8a8a8a"/>
<rect x="192.87" y="310.9" width="1.6" height="7.9" fill="#8a8a8a"/>
<rect x="199.92" y="310.9" width="1.6" height="7.9" fill="#8a8a8a"/>
<rect x="206.65" y="310.9" width="1.6" height="7.9" fill="#8a8a8a"/>
<rect x="214.37" y="310.9" width="1.6" height="7.9" fill="#8a8a8a"/>
<rect x="280" y="311.5" width="41.4" height="6.7" fill="#ebebeb" stroke="#b3b3b3" stroke-width="1.2"/>
<rect x="284.49" y="310.9" width="1.6" height="7.9" fill="#8a8a8a"/>
<rect x="291" y="310.9" width="1.6" height="7.9" fill="#8a8a8a"/>
<rect x="297.74" y="310.9" width="1.6" height="7.9" fill="#8a8a8a"/>
<rect x="305.67" y="310.9" width="1.6" height="7.9" fill="#8a8a8a"/>
<rect x="313.23" y="310.9" width="1.6" height="7.9" fill="#8a8a8a"/>
<rect x="334" y="311.5" width="12.8" height="6.7" fill="#ebebeb" stroke="#b3b3b3" stroke-width="1.2"/>
<rect x="338.96" y="310.9" width="1.6" height="7.9" fill="#8a8a8a"/>
<rect x="374.5" y="311.5" width="15.5" height="6.7" fill="#ebebeb" stroke="#b3b3b3" stroke-width="1.2"/>
<rect x="380.96" y="310.9" width="1.6" height="7.9" fill="#8a8a8a"/>
<rect x="403" y="311.5" width="24.9" height="6.7" fill="#ebebeb" stroke="#b3b3b3" stroke-width="1.2"/>
<rect x="408.28" y="310.9" width="1.6" height="7.9" fill="#8a8a8a"/>
<rect x="416.01" y="310.9" width="1.6" height="7.9" fill="#8a8a8a"/>
<rect x="423.4" y="310.9" width="1.6" height="7.9" fill="#8a8a8a"/>
<rect x="439.3" y="311.5" width="67.7" height="6.7" fill="#ebebeb" stroke="#b3b3b3" stroke-width="1.2"/>
<rect x="446.12" y="310.9" width="1.6" height="7.9" fill="#8a8a8a"/>
<rect x="452.69" y="310.9" width="1.6" height="7.9" fill="#8a8a8a"/>
<rect x="460.14" y="310.9" width="1.6" height="7.9" fill="#8a8a8a"/>
<rect x="466.45" y="310.9" width="1.6" height="7.9" fill="#8a8a8a"/>
<rect x="472.9" y="310.9" width="1.6" height="7.9" fill="#8a8a8a"/>
<rect x="480.69" y="310.9" width="1.6" height="7.9" fill="#8a8a8a"/>
<rect x="487.22" y="310.9" width="1.6" height="7.9" fill="#8a8a8a"/>
<rect x="494.74" y="310.9" width="1.6" height="7.9" fill="#8a8a8a"/>
<rect x="501.97" y="310.9" width="1.6" height="7.9" fill="#8a8a8a"/>
<rect x="510.1" y="311.5" width="43.5" height="6.7" fill="#ebebeb" stroke="#b3b3b3" stroke-width="1.2"/>
<rect x="515.43" y="310.9" width="1.6" height="7.9" fill="#8a8a8a"/>
<rect x="522.2" y="310.9" width="1.6" height="7.9" fill="#8a8a8a"/>
<rect x="528.87" y="310.9" width="1.6" height="7.9" fill="#8a8a8a"/>
<rect x="536.58" y="310.9" width="1.6" height="7.9" fill="#8a8a8a"/>
<rect x="543.82" y="310.9" width="1.6" height="7.9" fill="#8a8a8a"/>
<rect x="558.2" y="311.5" width="6.5" height="6.7" fill="#ebebeb" stroke="#b3b3b3" stroke-width="1.2"/>
<rect x="576.8" y="311.5" width="60.2" height="6.7" fill="#ebebeb" stroke="#b3b3b3" stroke-width="1.2"/>
<rect x="581.57" y="310.9" width="1.6" height="7.9" fill="#8a8a8a"/>
<rect x="588.72" y="310.9" width="1.6" height="7.9" fill="#8a8a8a"/>
<rect x="595.05" y="310.9" width="1.6" height="7.9" fill="#8a8a8a"/>
<rect x="601.28" y="310.9" width="1.6" height="7.9" fill="#8a8a8a"/>
<rect x="607.56" y="310.9" width="1.6" height="7.9" fill="#8a8a8a"/>
<rect x="615.27" y="310.9" width="1.6" height="7.9" fill="#8a8a8a"/>
<rect x="622.83" y="310.9" width="1.6" height="7.9" fill="#8a8a8a"/>
<rect x="630.48" y="310.9" width="1.6" height="7.9" fill="#8a8a8a"/>
<rect x="640.7" y="311.5" width="5" height="6.7" fill="#ebebeb" stroke="#b3b3b3" stroke-width="1.2"/>
<rect x="221.4" y="310.9" width="1.4" height="7.9" fill="#7c7c7c"/>
<rect x="279.4" y="310.9" width="1.4" height="7.9" fill="#7c7c7c"/>
<rect x="320.6" y="310.9" width="1.4" height="7.9" fill="#7c7c7c"/>
<rect x="333.4" y="310.9" width="1.4" height="7.9" fill="#7c7c7c"/>
<rect x="346" y="310.9" width="1.4" height="7.9" fill="#7c7c7c"/>
<rect x="373.9" y="310.9" width="1.4" height="7.9" fill="#7c7c7c"/>
<rect x="427.1" y="310.9" width="1.4" height="7.9" fill="#7c7c7c"/>
<rect x="438.7" y="310.9" width="1.4" height="7.9" fill="#7c7c7c"/>
<line x1="222.8" y1="324.02" x2="279.4" y2="324.02" stroke="#5c5c5c" stroke-width="1.5"/>
<line x1="322" y1="324.02" x2="333.4" y2="324.02" stroke="#5c5c5c" stroke-width="1.5"/>
<line x1="347.4" y1="324.02" x2="373.9" y2="324.02" stroke="#5c5c5c" stroke-width="1.5"/>
<line x1="391.6" y1="324.02" x2="402.4" y2="324.02" stroke="#5c5c5c" stroke-width="1.5"/>
<line x1="428.5" y1="324.02" x2="438.7" y2="324.02" stroke="#5c5c5c" stroke-width="1.5"/>
<line x1="547.7" y1="324.02" x2="655.5" y2="324.02" stroke="#5c5c5c" stroke-width="1.5"/>
<rect x="153" y="320.42" width="69.2" height="6.7" fill="#ebebeb" stroke="#b3b3b3" stroke-width="1.2"/>
<rect x="159.33" y="319.82" width="1.6" height="7.9" fill="#8a8a8a"/>
<rect x="166.16" y="319.82" width="1.6" height="7.9" fill="#8a8a8a"/>
<rect x="173.33" y="319.82" width="1.6" height="7.9" fill="#8a8a8a"/>
<rect x="179.89" y="319.82" width="1.6" height="7.9" fill="#8a8a8a"/>
<rect x="186.18" y="319.82" width="1.6" height="7.9" fill="#8a8a8a"/>
<rect x="192.81" y="319.82" width="1.6" height="7.9" fill="#8a8a8a"/>
<rect x="200.57" y="319.82" width="1.6" height="7.9" fill="#8a8a8a"/>
<rect x="207.73" y="319.82" width="1.6" height="7.9" fill="#8a8a8a"/>
<rect x="215.55" y="319.82" width="1.6" height="7.9" fill="#8a8a8a"/>
<rect x="280" y="320.42" width="41.4" height="6.7" fill="#ebebeb" stroke="#b3b3b3" stroke-width="1.2"/>
<rect x="285.12" y="319.82" width="1.6" height="7.9" fill="#8a8a8a"/>
<rect x="292.68" y="319.82" width="1.6" height="7.9" fill="#8a8a8a"/>
<rect x="300.32" y="319.82" width="1.6" height="7.9" fill="#8a8a8a"/>
<rect x="306.49" y="319.82" width="1.6" height="7.9" fill="#8a8a8a"/>
<rect x="313.85" y="319.82" width="1.6" height="7.9" fill="#8a8a8a"/>
<rect x="334" y="320.42" width="12.8" height="6.7" fill="#ebebeb" stroke="#b3b3b3" stroke-width="1.2"/>
<rect x="338.73" y="319.82" width="1.6" height="7.9" fill="#8a8a8a"/>
<rect x="374.5" y="320.42" width="16.5" height="6.7" fill="#ebebeb" stroke="#b3b3b3" stroke-width="1.2"/>
<rect x="379.05" y="319.82" width="1.6" height="7.9" fill="#8a8a8a"/>
<rect x="385.63" y="319.82" width="1.6" height="7.9" fill="#8a8a8a"/>
<rect x="403" y="320.42" width="24.9" height="6.7" fill="#ebebeb" stroke="#b3b3b3" stroke-width="1.2"/>
<rect x="408.46" y="319.82" width="1.6" height="7.9" fill="#8a8a8a"/>
<rect x="414.82" y="319.82" width="1.6" height="7.9" fill="#8a8a8a"/>
<rect x="421.27" y="319.82" width="1.6" height="7.9" fill="#8a8a8a"/>
<rect x="439.3" y="320.42" width="60.8" height="6.7" fill="#ebebeb" stroke="#b3b3b3" stroke-width="1.2"/>
<rect x="445.54" y="319.82" width="1.6" height="7.9" fill="#8a8a8a"/>
<rect x="451.87" y="319.82" width="1.6" height="7.9" fill="#8a8a8a"/>
<rect x="459.66" y="319.82" width="1.6" height="7.9" fill="#8a8a8a"/>
<rect x="466.49" y="319.82" width="1.6" height="7.9" fill="#8a8a8a"/>
<rect x="474.39" y="319.82" width="1.6" height="7.9" fill="#8a8a8a"/>
<rect x="482.17" y="319.82" width="1.6" height="7.9" fill="#8a8a8a"/>
<rect x="488.85" y="319.82" width="1.6" height="7.9" fill="#8a8a8a"/>
<rect x="495.46" y="319.82" width="1.6" height="7.9" fill="#8a8a8a"/>
<rect x="502.9" y="320.42" width="44.2" height="6.7" fill="#ebebeb" stroke="#b3b3b3" stroke-width="1.2"/>
<rect x="507.59" y="319.82" width="1.6" height="7.9" fill="#8a8a8a"/>
<rect x="514.91" y="319.82" width="1.6" height="7.9" fill="#8a8a8a"/>
<rect x="521.14" y="319.82" width="1.6" height="7.9" fill="#8a8a8a"/>
<rect x="527.3" y="319.82" width="1.6" height="7.9" fill="#8a8a8a"/>
<rect x="535.22" y="319.82" width="1.6" height="7.9" fill="#8a8a8a"/>
<rect x="541.9" y="319.82" width="1.6" height="7.9" fill="#8a8a8a"/>
<rect x="221.4" y="319.82" width="1.4" height="7.9" fill="#7c7c7c"/>
<rect x="279.4" y="319.82" width="1.4" height="7.9" fill="#7c7c7c"/>
<rect x="320.6" y="319.82" width="1.4" height="7.9" fill="#7c7c7c"/>
<rect x="333.4" y="319.82" width="1.4" height="7.9" fill="#7c7c7c"/>
<rect x="346" y="319.82" width="1.4" height="7.9" fill="#7c7c7c"/>
<rect x="373.9" y="319.82" width="1.4" height="7.9" fill="#7c7c7c"/>
<rect x="390.2" y="319.82" width="1.4" height="7.9" fill="#7c7c7c"/>
<rect x="402.4" y="319.82" width="1.4" height="7.9" fill="#7c7c7c"/>
<rect x="427.1" y="319.82" width="1.4" height="7.9" fill="#7c7c7c"/>
<rect x="438.7" y="319.82" width="1.4" height="7.9" fill="#7c7c7c"/>
<rect x="546.3" y="319.82" width="1.4" height="7.9" fill="#7c7c7c"/>
<line x1="222.8" y1="332.94" x2="279.4" y2="332.94" stroke="#5c5c5c" stroke-width="1.5"/>
<line x1="322" y1="332.94" x2="333.4" y2="332.94" stroke="#5c5c5c" stroke-width="1.5"/>
<line x1="347.4" y1="332.94" x2="373.9" y2="332.94" stroke="#5c5c5c" stroke-width="1.5"/>
<line x1="391.6" y1="332.94" x2="402.4" y2="332.94" stroke="#5c5c5c" stroke-width="1.5"/>
<line x1="428.5" y1="332.94" x2="438.7" y2="332.94" stroke="#5c5c5c" stroke-width="1.5"/>
<rect x="153" y="329.34" width="69.2" height="6.7" fill="#ebebeb" stroke="#b3b3b3" stroke-width="1.2"/>
<rect x="158.53" y="328.74" width="1.6" height="7.9" fill="#8a8a8a"/>
<rect x="165.24" y="328.74" width="1.6" height="7.9" fill="#8a8a8a"/>
<rect x="171.51" y="328.74" width="1.6" height="7.9" fill="#8a8a8a"/>
<rect x="179.3" y="328.74" width="1.6" height="7.9" fill="#8a8a8a"/>
<rect x="187.2" y="328.74" width="1.6" height="7.9" fill="#8a8a8a"/>
<rect x="195.09" y="328.74" width="1.6" height="7.9" fill="#8a8a8a"/>
<rect x="201.44" y="328.74" width="1.6" height="7.9" fill="#8a8a8a"/>
<rect x="207.98" y="328.74" width="1.6" height="7.9" fill="#8a8a8a"/>
<rect x="215.24" y="328.74" width="1.6" height="7.9" fill="#8a8a8a"/>
<rect x="280" y="329.34" width="41.4" height="6.7" fill="#ebebeb" stroke="#b3b3b3" stroke-width="1.2"/>
<rect x="285.75" y="328.74" width="1.6" height="7.9" fill="#8a8a8a"/>
<rect x="293.14" y="328.74" width="1.6" height="7.9" fill="#8a8a8a"/>
<rect x="300.48" y="328.74" width="1.6" height="7.9" fill="#8a8a8a"/>
<rect x="307.1" y="328.74" width="1.6" height="7.9" fill="#8a8a8a"/>
<rect x="314.22" y="328.74" width="1.6" height="7.9" fill="#8a8a8a"/>
<rect x="334" y="329.34" width="12.8" height="6.7" fill="#ebebeb" stroke="#b3b3b3" stroke-width="1.2"/>
<rect x="339.04" y="328.74" width="1.6" height="7.9" fill="#8a8a8a"/>
<rect x="374.5" y="329.34" width="16.5" height="6.7" fill="#ebebeb" stroke="#b3b3b3" stroke-width="1.2"/>
<rect x="379.62" y="328.74" width="1.6" height="7.9" fill="#8a8a8a"/>
<rect x="387.54" y="328.74" width="1.6" height="7.9" fill="#8a8a8a"/>
<rect x="403" y="329.34" width="24.9" height="6.7" fill="#ebebeb" stroke="#b3b3b3" stroke-width="1.2"/>
<rect x="409.01" y="328.74" width="1.6" height="7.9" fill="#8a8a8a"/>
<rect x="416.32" y="328.74" width="1.6" height="7.9" fill="#8a8a8a"/>
<rect x="424.17" y="328.74" width="1.6" height="7.9" fill="#8a8a8a"/>
<rect x="439.3" y="329.34" width="114.3" height="6.7" fill="#ebebeb" stroke="#b3b3b3" stroke-width="1.2"/>
<rect x="444.49" y="328.74" width="1.6" height="7.9" fill="#8a8a8a"/>
<rect x="451.23" y="328.74" width="1.6" height="7.9" fill="#8a8a8a"/>
<rect x="457.95" y="328.74" width="1.6" height="7.9" fill="#8a8a8a"/>
<rect x="465.62" y="328.74" width="1.6" height="7.9" fill="#8a8a8a"/>
<rect x="473.38" y="328.74" width="1.6" height="7.9" fill="#8a8a8a"/>
<rect x="480.07" y="328.74" width="1.6" height="7.9" fill="#8a8a8a"/>
<rect x="486.83" y="328.74" width="1.6" height="7.9" fill="#8a8a8a"/>
<rect x="493.96" y="328.74" width="1.6" height="7.9" fill="#8a8a8a"/>
<rect x="501.15" y="328.74" width="1.6" height="7.9" fill="#8a8a8a"/>
<rect x="508.37" y="328.74" width="1.6" height="7.9" fill="#8a8a8a"/>
<rect x="514.96" y="328.74" width="1.6" height="7.9" fill="#8a8a8a"/>
<rect x="521.15" y="328.74" width="1.6" height="7.9" fill="#8a8a8a"/>
<rect x="527.74" y="328.74" width="1.6" height="7.9" fill="#8a8a8a"/>
<rect x="534.02" y="328.74" width="1.6" height="7.9" fill="#8a8a8a"/>
<rect x="541.16" y="328.74" width="1.6" height="7.9" fill="#8a8a8a"/>
<rect x="547.44" y="328.74" width="1.6" height="7.9" fill="#8a8a8a"/>
<rect x="559.6" y="329.34" width="6.5" height="6.7" fill="#ebebeb" stroke="#b3b3b3" stroke-width="1.2"/>
<rect x="577.8" y="329.34" width="59.2" height="6.7" fill="#ebebeb" stroke="#b3b3b3" stroke-width="1.2"/>
<rect x="582.95" y="328.74" width="1.6" height="7.9" fill="#8a8a8a"/>
<rect x="590.52" y="328.74" width="1.6" height="7.9" fill="#8a8a8a"/>
<rect x="597.56" y="328.74" width="1.6" height="7.9" fill="#8a8a8a"/>
<rect x="605.26" y="328.74" width="1.6" height="7.9" fill="#8a8a8a"/>
<rect x="611.69" y="328.74" width="1.6" height="7.9" fill="#8a8a8a"/>
<rect x="618.74" y="328.74" width="1.6" height="7.9" fill="#8a8a8a"/>
<rect x="626.33" y="328.74" width="1.6" height="7.9" fill="#8a8a8a"/>
<rect x="632.61" y="328.74" width="1.6" height="7.9" fill="#8a8a8a"/>
<rect x="640.7" y="329.34" width="5.9" height="6.7" fill="#ebebeb" stroke="#b3b3b3" stroke-width="1.2"/>
<rect x="221.4" y="328.74" width="1.4" height="7.9" fill="#7c7c7c"/>
<rect x="279.4" y="328.74" width="1.4" height="7.9" fill="#7c7c7c"/>
<rect x="320.6" y="328.74" width="1.4" height="7.9" fill="#7c7c7c"/>
<rect x="333.4" y="328.74" width="1.4" height="7.9" fill="#7c7c7c"/>
<rect x="346" y="328.74" width="1.4" height="7.9" fill="#7c7c7c"/>
<rect x="373.9" y="328.74" width="1.4" height="7.9" fill="#7c7c7c"/>
<rect x="390.2" y="328.74" width="1.4" height="7.9" fill="#7c7c7c"/>
<rect x="402.4" y="328.74" width="1.4" height="7.9" fill="#7c7c7c"/>
<rect x="427.1" y="328.74" width="1.4" height="7.9" fill="#7c7c7c"/>
<rect x="438.7" y="328.74" width="1.4" height="7.9" fill="#7c7c7c"/>
<line x1="222.8" y1="341.86" x2="279.4" y2="341.86" stroke="#5c5c5c" stroke-width="1.5"/>
<line x1="322" y1="341.86" x2="333.4" y2="341.86" stroke="#5c5c5c" stroke-width="1.5"/>
<line x1="347.4" y1="341.86" x2="373.9" y2="341.86" stroke="#5c5c5c" stroke-width="1.5"/>
<line x1="391.6" y1="341.86" x2="402.4" y2="341.86" stroke="#5c5c5c" stroke-width="1.5"/>
<line x1="428.5" y1="341.86" x2="438.7" y2="341.86" stroke="#5c5c5c" stroke-width="1.5"/>
<rect x="153" y="338.26" width="69.2" height="6.7" fill="#ebebeb" stroke="#b3b3b3" stroke-width="1.2"/>
<rect x="159.31" y="337.66" width="1.6" height="7.9" fill="#8a8a8a"/>
<rect x="167.24" y="337.66" width="1.6" height="7.9" fill="#8a8a8a"/>
<rect x="174.86" y="337.66" width="1.6" height="7.9" fill="#8a8a8a"/>
<rect x="181.59" y="337.66" width="1.6" height="7.9" fill="#8a8a8a"/>
<rect x="187.93" y="337.66" width="1.6" height="7.9" fill="#8a8a8a"/>
<rect x="195.01" y="337.66" width="1.6" height="7.9" fill="#8a8a8a"/>
<rect x="202.81" y="337.66" width="1.6" height="7.9" fill="#8a8a8a"/>
<rect x="209.49" y="337.66" width="1.6" height="7.9" fill="#8a8a8a"/>
<rect x="217.25" y="337.66" width="1.6" height="7.9" fill="#8a8a8a"/>
<rect x="280" y="338.26" width="41.4" height="6.7" fill="#ebebeb" stroke="#b3b3b3" stroke-width="1.2"/>
<rect x="286.64" y="337.66" width="1.6" height="7.9" fill="#8a8a8a"/>
<rect x="292.84" y="337.66" width="1.6" height="7.9" fill="#8a8a8a"/>
<rect x="299.56" y="337.66" width="1.6" height="7.9" fill="#8a8a8a"/>
<rect x="307.34" y="337.66" width="1.6" height="7.9" fill="#8a8a8a"/>
<rect x="314.93" y="337.66" width="1.6" height="7.9" fill="#8a8a8a"/>
<rect x="334" y="338.26" width="12.8" height="6.7" fill="#ebebeb" stroke="#b3b3b3" stroke-width="1.2"/>
<rect x="340.47" y="337.66" width="1.6" height="7.9" fill="#8a8a8a"/>
<rect x="374.5" y="338.26" width="16.5" height="6.7" fill="#ebebeb" stroke="#b3b3b3" stroke-width="1.2"/>
<rect x="380.61" y="337.66" width="1.6" height="7.9" fill="#8a8a8a"/>
<rect x="387.08" y="337.66" width="1.6" height="7.9" fill="#8a8a8a"/>
<rect x="403" y="338.26" width="24.9" height="6.7" fill="#ebebeb" stroke="#b3b3b3" stroke-width="1.2"/>
<rect x="407.83" y="337.66" width="1.6" height="7.9" fill="#8a8a8a"/>
<rect x="415.27" y="337.66" width="1.6" height="7.9" fill="#8a8a8a"/>
<rect x="422.62" y="337.66" width="1.6" height="7.9" fill="#8a8a8a"/>
<rect x="439.3" y="338.26" width="104.9" height="6.7" fill="#ebebeb" stroke="#b3b3b3" stroke-width="1.2"/>
<rect x="443.9" y="337.66" width="1.6" height="7.9" fill="#8a8a8a"/>
<rect x="451.79" y="337.66" width="1.6" height="7.9" fill="#8a8a8a"/>
<rect x="459.39" y="337.66" width="1.6" height="7.9" fill="#8a8a8a"/>
<rect x="466.53" y="337.66" width="1.6" height="7.9" fill="#8a8a8a"/>
<rect x="473.66" y="337.66" width="1.6" height="7.9" fill="#8a8a8a"/>
<rect x="481.34" y="337.66" width="1.6" height="7.9" fill="#8a8a8a"/>
<rect x="488.3" y="337.66" width="1.6" height="7.9" fill="#8a8a8a"/>
<rect x="495.17" y="337.66" width="1.6" height="7.9" fill="#8a8a8a"/>
<rect x="501.93" y="337.66" width="1.6" height="7.9" fill="#8a8a8a"/>
<rect x="508.54" y="337.66" width="1.6" height="7.9" fill="#8a8a8a"/>
<rect x="514.74" y="337.66" width="1.6" height="7.9" fill="#8a8a8a"/>
<rect x="522.05" y="337.66" width="1.6" height="7.9" fill="#8a8a8a"/>
<rect x="528.95" y="337.66" width="1.6" height="7.9" fill="#8a8a8a"/>
<rect x="536.13" y="337.66" width="1.6" height="7.9" fill="#8a8a8a"/>
<rect x="548.1" y="338.26" width="7" height="6.7" fill="#ebebeb" stroke="#b3b3b3" stroke-width="1.2"/>
<rect x="559.6" y="338.26" width="6.5" height="6.7" fill="#ebebeb" stroke="#b3b3b3" stroke-width="1.2"/>
<rect x="580.6" y="338.26" width="61.2" height="6.7" fill="#ebebeb" stroke="#b3b3b3" stroke-width="1.2"/>
<rect x="585.35" y="337.66" width="1.6" height="7.9" fill="#8a8a8a"/>
<rect x="591.97" y="337.66" width="1.6" height="7.9" fill="#8a8a8a"/>
<rect x="599.61" y="337.66" width="1.6" height="7.9" fill="#8a8a8a"/>
<rect x="606.47" y="337.66" width="1.6" height="7.9" fill="#8a8a8a"/>
<rect x="613.35" y="337.66" width="1.6" height="7.9" fill="#8a8a8a"/>
<rect x="620.6" y="337.66" width="1.6" height="7.9" fill="#8a8a8a"/>
<rect x="627.17" y="337.66" width="1.6" height="7.9" fill="#8a8a8a"/>
<rect x="633.33" y="337.66" width="1.6" height="7.9" fill="#8a8a8a"/>
<rect x="221.4" y="337.66" width="1.4" height="7.9" fill="#7c7c7c"/>
<rect x="279.4" y="337.66" width="1.4" height="7.9" fill="#7c7c7c"/>
<rect x="320.6" y="337.66" width="1.4" height="7.9" fill="#7c7c7c"/>
<rect x="333.4" y="337.66" width="1.4" height="7.9" fill="#7c7c7c"/>
<rect x="346" y="337.66" width="1.4" height="7.9" fill="#7c7c7c"/>
<rect x="373.9" y="337.66" width="1.4" height="7.9" fill="#7c7c7c"/>
<rect x="390.2" y="337.66" width="1.4" height="7.9" fill="#7c7c7c"/>
<rect x="402.4" y="337.66" width="1.4" height="7.9" fill="#7c7c7c"/>
<rect x="427.1" y="337.66" width="1.4" height="7.9" fill="#7c7c7c"/>
<rect x="438.7" y="337.66" width="1.4" height="7.9" fill="#7c7c7c"/>
<line x1="222.8" y1="350.78" x2="279.4" y2="350.78" stroke="#5c5c5c" stroke-width="1.5"/>
<line x1="322" y1="350.78" x2="333.4" y2="350.78" stroke="#5c5c5c" stroke-width="1.5"/>
<line x1="347.4" y1="350.78" x2="373.9" y2="350.78" stroke="#5c5c5c" stroke-width="1.5"/>
<line x1="391.6" y1="350.78" x2="402.4" y2="350.78" stroke="#5c5c5c" stroke-width="1.5"/>
<line x1="428.5" y1="350.78" x2="438.7" y2="350.78" stroke="#5c5c5c" stroke-width="1.5"/>
<rect x="153" y="347.18" width="69.2" height="6.7" fill="#ebebeb" stroke="#b3b3b3" stroke-width="1.2"/>
<rect x="158.65" y="346.58" width="1.6" height="7.9" fill="#8a8a8a"/>
<rect x="165.97" y="346.58" width="1.6" height="7.9" fill="#8a8a8a"/>
<rect x="172.91" y="346.58" width="1.6" height="7.9" fill="#8a8a8a"/>
<rect x="180.29" y="346.58" width="1.6" height="7.9" fill="#8a8a8a"/>
<rect x="187.76" y="346.58" width="1.6" height="7.9" fill="#8a8a8a"/>
<rect x="194.34" y="346.58" width="1.6" height="7.9" fill="#8a8a8a"/>
<rect x="201.38" y="346.58" width="1.6" height="7.9" fill="#8a8a8a"/>
<rect x="208.39" y="346.58" width="1.6" height="7.9" fill="#8a8a8a"/>
<rect x="214.95" y="346.58" width="1.6" height="7.9" fill="#8a8a8a"/>
<rect x="280" y="347.18" width="2.2" height="6.7" fill="#ebebeb" stroke="#b3b3b3" stroke-width="1.2"/>
<rect x="285.3" y="347.18" width="36.1" height="6.7" fill="#ebebeb" stroke="#b3b3b3" stroke-width="1.2"/>
<rect x="291.93" y="346.58" width="1.6" height="7.9" fill="#8a8a8a"/>
<rect x="299.73" y="346.58" width="1.6" height="7.9" fill="#8a8a8a"/>
<rect x="306.37" y="346.58" width="1.6" height="7.9" fill="#8a8a8a"/>
<rect x="313.69" y="346.58" width="1.6" height="7.9" fill="#8a8a8a"/>
<rect x="334" y="347.18" width="12.8" height="6.7" fill="#ebebeb" stroke="#b3b3b3" stroke-width="1.2"/>
<rect x="338.62" y="346.58" width="1.6" height="7.9" fill="#8a8a8a"/>
<rect x="374.5" y="347.18" width="16.5" height="6.7" fill="#ebebeb" stroke="#b3b3b3" stroke-width="1.2"/>
<rect x="381.06" y="346.58" width="1.6" height="7.9" fill="#8a8a8a"/>
<rect x="387.49" y="346.58" width="1.6" height="7.9" fill="#8a8a8a"/>
<rect x="403" y="347.18" width="24.9" height="6.7" fill="#ebebeb" stroke="#b3b3b3" stroke-width="1.2"/>
<rect x="409.57" y="346.58" width="1.6" height="7.9" fill="#8a8a8a"/>
<rect x="416.28" y="346.58" width="1.6" height="7.9" fill="#8a8a8a"/>
<rect x="423.68" y="346.58" width="1.6" height="7.9" fill="#8a8a8a"/>
<rect x="439.3" y="347.18" width="105.9" height="6.7" fill="#ebebeb" stroke="#b3b3b3" stroke-width="1.2"/>
<rect x="444.64" y="346.58" width="1.6" height="7.9" fill="#8a8a8a"/>
<rect x="452.05" y="346.58" width="1.6" height="7.9" fill="#8a8a8a"/>
<rect x="459.53" y="346.58" width="1.6" height="7.9" fill="#8a8a8a"/>
<rect x="466.75" y="346.58" width="1.6" height="7.9" fill="#8a8a8a"/>
<rect x="474.44" y="346.58" width="1.6" height="7.9" fill="#8a8a8a"/>
<rect x="482.21" y="346.58" width="1.6" height="7.9" fill="#8a8a8a"/>
<rect x="490.08" y="346.58" width="1.6" height="7.9" fill="#8a8a8a"/>
<rect x="497.26" y="346.58" width="1.6" height="7.9" fill="#8a8a8a"/>
<rect x="503.73" y="346.58" width="1.6" height="7.9" fill="#8a8a8a"/>
<rect x="510.33" y="346.58" width="1.6" height="7.9" fill="#8a8a8a"/>
<rect x="516.87" y="346.58" width="1.6" height="7.9" fill="#8a8a8a"/>
<rect x="524.05" y="346.58" width="1.6" height="7.9" fill="#8a8a8a"/>
<rect x="531.56" y="346.58" width="1.6" height="7.9" fill="#8a8a8a"/>
<rect x="537.8" y="346.58" width="1.6" height="7.9" fill="#8a8a8a"/>
<rect x="550.9" y="347.18" width="6.1" height="6.7" fill="#ebebeb" stroke="#b3b3b3" stroke-width="1.2"/>
<rect x="561.5" y="347.18" width="5.5" height="6.7" fill="#ebebeb" stroke="#b3b3b3" stroke-width="1.2"/>
<rect x="580.6" y="347.18" width="62.2" height="6.7" fill="#ebebeb" stroke="#b3b3b3" stroke-width="1.2"/>
<rect x="586.29" y="346.58" width="1.6" height="7.9" fill="#8a8a8a"/>
<rect x="592.73" y="346.58" width="1.6" height="7.9" fill="#8a8a8a"/>
<rect x="600.2" y="346.58" width="1.6" height="7.9" fill="#8a8a8a"/>
<rect x="606.42" y="346.58" width="1.6" height="7.9" fill="#8a8a8a"/>
<rect x="614.34" y="346.58" width="1.6" height="7.9" fill="#8a8a8a"/>
<rect x="621.94" y="346.58" width="1.6" height="7.9" fill="#8a8a8a"/>
<rect x="629.22" y="346.58" width="1.6" height="7.9" fill="#8a8a8a"/>
<rect x="635.85" y="346.58" width="1.6" height="7.9" fill="#8a8a8a"/>
<rect x="221.4" y="346.58" width="1.4" height="7.9" fill="#7c7c7c"/>
<rect x="279.4" y="346.58" width="1.4" height="7.9" fill="#7c7c7c"/>
<rect x="320.6" y="346.58" width="1.4" height="7.9" fill="#7c7c7c"/>
<rect x="333.4" y="346.58" width="1.4" height="7.9" fill="#7c7c7c"/>
<rect x="346" y="346.58" width="1.4" height="7.9" fill="#7c7c7c"/>
<rect x="373.9" y="346.58" width="1.4" height="7.9" fill="#7c7c7c"/>
<rect x="390.2" y="346.58" width="1.4" height="7.9" fill="#7c7c7c"/>
<rect x="402.4" y="346.58" width="1.4" height="7.9" fill="#7c7c7c"/>
<rect x="427.1" y="346.58" width="1.4" height="7.9" fill="#7c7c7c"/>
<rect x="438.7" y="346.58" width="1.4" height="7.9" fill="#7c7c7c"/>
<line x1="222.8" y1="359.7" x2="279.4" y2="359.7" stroke="#5c5c5c" stroke-width="1.5"/>
<line x1="322" y1="359.7" x2="333.4" y2="359.7" stroke="#5c5c5c" stroke-width="1.5"/>
<line x1="347.4" y1="359.7" x2="373.9" y2="359.7" stroke="#5c5c5c" stroke-width="1.5"/>
<line x1="390.6" y1="359.7" x2="402.4" y2="359.7" stroke="#5c5c5c" stroke-width="1.5"/>
<line x1="428.5" y1="359.7" x2="438.7" y2="359.7" stroke="#5c5c5c" stroke-width="1.5"/>
<rect x="153" y="356.1" width="69.2" height="6.7" fill="#ebebeb" stroke="#b3b3b3" stroke-width="1.2"/>
<rect x="159.75" y="355.5" width="1.6" height="7.9" fill="#8a8a8a"/>
<rect x="166.15" y="355.5" width="1.6" height="7.9" fill="#8a8a8a"/>
<rect x="173.7" y="355.5" width="1.6" height="7.9" fill="#8a8a8a"/>
<rect x="181.36" y="355.5" width="1.6" height="7.9" fill="#8a8a8a"/>
<rect x="188.7" y="355.5" width="1.6" height="7.9" fill="#8a8a8a"/>
<rect x="196.11" y="355.5" width="1.6" height="7.9" fill="#8a8a8a"/>
<rect x="203.06" y="355.5" width="1.6" height="7.9" fill="#8a8a8a"/>
<rect x="210.88" y="355.5" width="1.6" height="7.9" fill="#8a8a8a"/>
<rect x="218.78" y="355.5" width="1.6" height="7.9" fill="#8a8a8a"/>
<rect x="280" y="356.1" width="2.2" height="6.7" fill="#ebebeb" stroke="#b3b3b3" stroke-width="1.2"/>
<rect x="285.3" y="356.1" width="36.1" height="6.7" fill="#ebebeb" stroke="#b3b3b3" stroke-width="1.2"/>
<rect x="290.79" y="355.5" width="1.6" height="7.9" fill="#8a8a8a"/>
<rect x="297.24" y="355.5" width="1.6" height="7.9" fill="#8a8a8a"/>
<rect x="303.97" y="355.5" width="1.6" height="7.9" fill="#8a8a8a"/>
<rect x="310.35" y="355.5" width="1.6" height="7.9" fill="#8a8a8a"/>
<rect x="318.13" y="355.5" width="1.6" height="7.9" fill="#8a8a8a"/>
<rect x="334" y="356.1" width="12.8" height="6.7" fill="#ebebeb" stroke="#b3b3b3" stroke-width="1.2"/>
<rect x="338.74" y="355.5" width="1.6" height="7.9" fill="#8a8a8a"/>
<rect x="374.5" y="356.1" width="15.5" height="6.7" fill="#ebebeb" stroke="#b3b3b3" stroke-width="1.2"/>
<rect x="379.93" y="355.5" width="1.6" height="7.9" fill="#8a8a8a"/>
<rect x="386.29" y="355.5" width="1.6" height="7.9" fill="#8a8a8a"/>
<rect x="403" y="356.1" width="24.9" height="6.7" fill="#ebebeb" stroke="#b3b3b3" stroke-width="1.2"/>
<rect x="408.05" y="355.5" width="1.6" height="7.9" fill="#8a8a8a"/>
<rect x="415.54" y="355.5" width="1.6" height="7.9" fill="#8a8a8a"/>
<rect x="421.7" y="355.5" width="1.6" height="7.9" fill="#8a8a8a"/>
<rect x="439.3" y="356.1" width="60.8" height="6.7" fill="#ebebeb" stroke="#b3b3b3" stroke-width="1.2"/>
<rect x="444.8" y="355.5" width="1.6" height="7.9" fill="#8a8a8a"/>
<rect x="450.99" y="355.5" width="1.6" height="7.9" fill="#8a8a8a"/>
<rect x="458.27" y="355.5" width="1.6" height="7.9" fill="#8a8a8a"/>
<rect x="465.51" y="355.5" width="1.6" height="7.9" fill="#8a8a8a"/>
<rect x="473.16" y="355.5" width="1.6" height="7.9" fill="#8a8a8a"/>
<rect x="479.69" y="355.5" width="1.6" height="7.9" fill="#8a8a8a"/>
<rect x="486.35" y="355.5" width="1.6" height="7.9" fill="#8a8a8a"/>
<rect x="493.47" y="355.5" width="1.6" height="7.9" fill="#8a8a8a"/>
<rect x="502.9" y="356.1" width="41.3" height="6.7" fill="#ebebeb" stroke="#b3b3b3" stroke-width="1.2"/>
<rect x="508.76" y="355.5" width="1.6" height="7.9" fill="#8a8a8a"/>
<rect x="515.36" y="355.5" width="1.6" height="7.9" fill="#8a8a8a"/>
<rect x="522.74" y="355.5" width="1.6" height="7.9" fill="#8a8a8a"/>
<rect x="530.31" y="355.5" width="1.6" height="7.9" fill="#8a8a8a"/>
<rect x="537.92" y="355.5" width="1.6" height="7.9" fill="#8a8a8a"/>
<rect x="552.9" y="356.1" width="6.5" height="6.7" fill="#ebebeb" stroke="#b3b3b3" stroke-width="1.2"/>
<rect x="580.6" y="356.1" width="38.2" height="6.7" fill="#ebebeb" stroke="#b3b3b3" stroke-width="1.2"/>
<rect x="586.23" y="355.5" width="1.6" height="7.9" fill="#8a8a8a"/>
<rect x="593.92" y="355.5" width="1.6" height="7.9" fill="#8a8a8a"/>
<rect x="601.45" y="355.5" width="1.6" height="7.9" fill="#8a8a8a"/>
<rect x="608.63" y="355.5" width="1.6" height="7.9" fill="#8a8a8a"/>
<rect x="615.47" y="355.5" width="1.6" height="7.9" fill="#8a8a8a"/>
<rect x="621.9" y="356.1" width="16.1" height="6.7" fill="#ebebeb" stroke="#b3b3b3" stroke-width="1.2"/>
<rect x="626.61" y="355.5" width="1.6" height="7.9" fill="#8a8a8a"/>
<rect x="634.21" y="355.5" width="1.6" height="7.9" fill="#8a8a8a"/>
<rect x="221.4" y="355.5" width="1.4" height="7.9" fill="#7c7c7c"/>
<rect x="279.4" y="355.5" width="1.4" height="7.9" fill="#7c7c7c"/>
<rect x="320.6" y="355.5" width="1.4" height="7.9" fill="#7c7c7c"/>
<rect x="333.4" y="355.5" width="1.4" height="7.9" fill="#7c7c7c"/>
<rect x="346" y="355.5" width="1.4" height="7.9" fill="#7c7c7c"/>
<rect x="373.9" y="355.5" width="1.4" height="7.9" fill="#7c7c7c"/>
<rect x="389.2" y="355.5" width="1.4" height="7.9" fill="#7c7c7c"/>
<rect x="402.4" y="355.5" width="1.4" height="7.9" fill="#7c7c7c"/>
<rect x="427.1" y="355.5" width="1.4" height="7.9" fill="#7c7c7c"/>
<rect x="438.7" y="355.5" width="1.4" height="7.9" fill="#7c7c7c"/>
<line x1="222.8" y1="368.62" x2="279.4" y2="368.62" stroke="#5c5c5c" stroke-width="1.5"/>
<line x1="322" y1="368.62" x2="333.7" y2="368.62" stroke="#5c5c5c" stroke-width="1.5"/>
<line x1="391.6" y1="368.62" x2="402.4" y2="368.62" stroke="#5c5c5c" stroke-width="1.5"/>
<line x1="428.5" y1="368.62" x2="438.7" y2="368.62" stroke="#5c5c5c" stroke-width="1.5"/>
<line x1="547.7" y1="368.62" x2="655.5" y2="368.62" stroke="#5c5c5c" stroke-width="1.5"/>
<rect x="153" y="365.02" width="69.2" height="6.7" fill="#ebebeb" stroke="#b3b3b3" stroke-width="1.2"/>
<rect x="159.24" y="364.42" width="1.6" height="7.9" fill="#8a8a8a"/>
<rect x="166.37" y="364.42" width="1.6" height="7.9" fill="#8a8a8a"/>
<rect x="174.26" y="364.42" width="1.6" height="7.9" fill="#8a8a8a"/>
<rect x="181.78" y="364.42" width="1.6" height="7.9" fill="#8a8a8a"/>
<rect x="189.68" y="364.42" width="1.6" height="7.9" fill="#8a8a8a"/>
<rect x="196.08" y="364.42" width="1.6" height="7.9" fill="#8a8a8a"/>
<rect x="203.13" y="364.42" width="1.6" height="7.9" fill="#8a8a8a"/>
<rect x="210.31" y="364.42" width="1.6" height="7.9" fill="#8a8a8a"/>
<rect x="217.02" y="364.42" width="1.6" height="7.9" fill="#8a8a8a"/>
<rect x="280" y="365.02" width="2.2" height="6.7" fill="#ebebeb" stroke="#b3b3b3" stroke-width="1.2"/>
<rect x="285.3" y="365.02" width="36.1" height="6.7" fill="#ebebeb" stroke="#b3b3b3" stroke-width="1.2"/>
<rect x="291.02" y="364.42" width="1.6" height="7.9" fill="#8a8a8a"/>
<rect x="297.17" y="364.42" width="1.6" height="7.9" fill="#8a8a8a"/>
<rect x="304.12" y="364.42" width="1.6" height="7.9" fill="#8a8a8a"/>
<rect x="311.08" y="364.42" width="1.6" height="7.9" fill="#8a8a8a"/>
<rect x="317.77" y="364.42" width="1.6" height="7.9" fill="#8a8a8a"/>
<rect x="334.3" y="365.02" width="13.5" height="6.7" fill="#ebebeb" stroke="#b3b3b3" stroke-width="1.2"/>
<rect x="340.63" y="364.42" width="1.6" height="7.9" fill="#8a8a8a"/>
<rect x="374.5" y="365.02" width="16.5" height="6.7" fill="#ebebeb" stroke="#b3b3b3" stroke-width="1.2"/>
<rect x="380.13" y="364.42" width="1.6" height="7.9" fill="#8a8a8a"/>
<rect x="387.45" y="364.42" width="1.6" height="7.9" fill="#8a8a8a"/>
<rect x="403" y="365.02" width="24.9" height="6.7" fill="#ebebeb" stroke="#b3b3b3" stroke-width="1.2"/>
<rect x="407.94" y="364.42" width="1.6" height="7.9" fill="#8a8a8a"/>
<rect x="414.1" y="364.42" width="1.6" height="7.9" fill="#8a8a8a"/>
<rect x="420.75" y="364.42" width="1.6" height="7.9" fill="#8a8a8a"/>
<rect x="439.3" y="365.02" width="101" height="6.7" fill="#ebebeb" stroke="#b3b3b3" stroke-width="1.2"/>
<rect x="445.87" y="364.42" width="1.6" height="7.9" fill="#8a8a8a"/>
<rect x="453.51" y="364.42" width="1.6" height="7.9" fill="#8a8a8a"/>
<rect x="460.58" y="364.42" width="1.6" height="7.9" fill="#8a8a8a"/>
<rect x="468.51" y="364.42" width="1.6" height="7.9" fill="#8a8a8a"/>
<rect x="475.49" y="364.42" width="1.6" height="7.9" fill="#8a8a8a"/>
<rect x="483.14" y="364.42" width="1.6" height="7.9" fill="#8a8a8a"/>
<rect x="490.02" y="364.42" width="1.6" height="7.9" fill="#8a8a8a"/>
<rect x="497.51" y="364.42" width="1.6" height="7.9" fill="#8a8a8a"/>
<rect x="505.44" y="364.42" width="1.6" height="7.9" fill="#8a8a8a"/>
<rect x="512.14" y="364.42" width="1.6" height="7.9" fill="#8a8a8a"/>
<rect x="518.6" y="364.42" width="1.6" height="7.9" fill="#8a8a8a"/>
<rect x="525.86" y="364.42" width="1.6" height="7.9" fill="#8a8a8a"/>
<rect x="532.97" y="364.42" width="1.6" height="7.9" fill="#8a8a8a"/>
<rect x="542.5" y="365.02" width="4.6" height="6.7" fill="#ebebeb" stroke="#b3b3b3" stroke-width="1.2"/>
<rect x="221.4" y="364.42" width="1.4" height="7.9" fill="#7c7c7c"/>
<rect x="279.4" y="364.42" width="1.4" height="7.9" fill="#7c7c7c"/>
<rect x="320.6" y="364.42" width="1.4" height="7.9" fill="#7c7c7c"/>
<rect x="333.7" y="364.42" width="1.4" height="7.9" fill="#7c7c7c"/>
<rect x="390.2" y="364.42" width="1.4" height="7.9" fill="#7c7c7c"/>
<rect x="402.4" y="364.42" width="1.4" height="7.9" fill="#7c7c7c"/>
<rect x="427.1" y="364.42" width="1.4" height="7.9" fill="#7c7c7c"/>
<rect x="438.7" y="364.42" width="1.4" height="7.9" fill="#7c7c7c"/>
<rect x="546.3" y="364.42" width="1.4" height="7.9" fill="#7c7c7c"/>
<line x1="222.8" y1="377.54" x2="242.5" y2="377.54" stroke="#5c5c5c" stroke-width="1.5"/>
<line x1="263.7" y1="377.54" x2="279.4" y2="377.54" stroke="#5c5c5c" stroke-width="1.5"/>
<line x1="322" y1="377.54" x2="333.4" y2="377.54" stroke="#5c5c5c" stroke-width="1.5"/>
<line x1="347.4" y1="377.54" x2="373.9" y2="377.54" stroke="#5c5c5c" stroke-width="1.5"/>
<line x1="428.5" y1="377.54" x2="438.7" y2="377.54" stroke="#5c5c5c" stroke-width="1.5"/>
<rect x="153" y="373.94" width="15.7" height="6.7" fill="#ebebeb" stroke="#b3b3b3" stroke-width="1.2"/>
<rect x="158.38" y="373.34" width="1.6" height="7.9" fill="#8a8a8a"/>
<rect x="165.3" y="373.34" width="1.6" height="7.9" fill="#8a8a8a"/>
<rect x="171.3" y="373.94" width="50.9" height="6.7" fill="#ebebeb" stroke="#b3b3b3" stroke-width="1.2"/>
<rect x="177.82" y="373.34" width="1.6" height="7.9" fill="#8a8a8a"/>
<rect x="185.02" y="373.34" width="1.6" height="7.9" fill="#8a8a8a"/>
<rect x="192.49" y="373.34" width="1.6" height="7.9" fill="#8a8a8a"/>
<rect x="200.26" y="373.34" width="1.6" height="7.9" fill="#8a8a8a"/>
<rect x="207.75" y="373.34" width="1.6" height="7.9" fill="#8a8a8a"/>
<rect x="214.79" y="373.34" width="1.6" height="7.9" fill="#8a8a8a"/>
<rect x="243.1" y="373.94" width="20" height="6.7" fill="#ebebeb" stroke="#b3b3b3" stroke-width="1.2"/>
<rect x="249.09" y="373.34" width="1.6" height="7.9" fill="#8a8a8a"/>
<rect x="256.4" y="373.34" width="1.6" height="7.9" fill="#8a8a8a"/>
<rect x="280" y="373.94" width="41.4" height="6.7" fill="#ebebeb" stroke="#b3b3b3" stroke-width="1.2"/>
<rect x="285.43" y="373.34" width="1.6" height="7.9" fill="#8a8a8a"/>
<rect x="292.71" y="373.34" width="1.6" height="7.9" fill="#8a8a8a"/>
<rect x="300" y="373.34" width="1.6" height="7.9" fill="#8a8a8a"/>
<rect x="307.84" y="373.34" width="1.6" height="7.9" fill="#8a8a8a"/>
<rect x="315.4" y="373.34" width="1.6" height="7.9" fill="#8a8a8a"/>
<rect x="334" y="373.94" width="12.8" height="6.7" fill="#ebebeb" stroke="#b3b3b3" stroke-width="1.2"/>
<rect x="340.29" y="373.34" width="1.6" height="7.9" fill="#8a8a8a"/>
<rect x="374.5" y="373.94" width="15.5" height="6.7" fill="#ebebeb" stroke="#b3b3b3" stroke-width="1.2"/>
<rect x="380.4" y="373.34" width="1.6" height="7.9" fill="#8a8a8a"/>
<rect x="387.18" y="373.34" width="1.6" height="7.9" fill="#8a8a8a"/>
<rect x="403" y="373.94" width="24.9" height="6.7" fill="#ebebeb" stroke="#b3b3b3" stroke-width="1.2"/>
<rect x="409.15" y="373.34" width="1.6" height="7.9" fill="#8a8a8a"/>
<rect x="416.87" y="373.34" width="1.6" height="7.9" fill="#8a8a8a"/>
<rect x="424" y="373.34" width="1.6" height="7.9" fill="#8a8a8a"/>
<rect x="439.3" y="373.94" width="60.8" height="6.7" fill="#ebebeb" stroke="#b3b3b3" stroke-width="1.2"/>
<rect x="445.75" y="373.34" width="1.6" height="7.9" fill="#8a8a8a"/>
<rect x="452.77" y="373.34" width="1.6" height="7.9" fill="#8a8a8a"/>
<rect x="459.76" y="373.34" width="1.6" height="7.9" fill="#8a8a8a"/>
<rect x="465.99" y="373.34" width="1.6" height="7.9" fill="#8a8a8a"/>
<rect x="473.06" y="373.34" width="1.6" height="7.9" fill="#8a8a8a"/>
<rect x="480.55" y="373.34" width="1.6" height="7.9" fill="#8a8a8a"/>
<rect x="487.46" y="373.34" width="1.6" height="7.9" fill="#8a8a8a"/>
<rect x="494.25" y="373.34" width="1.6" height="7.9" fill="#8a8a8a"/>
<rect x="503.1" y="373.94" width="41.8" height="6.7" fill="#ebebeb" stroke="#b3b3b3" stroke-width="1.2"/>
<rect x="507.6" y="373.34" width="1.6" height="7.9" fill="#8a8a8a"/>
<rect x="514.66" y="373.34" width="1.6" height="7.9" fill="#8a8a8a"/>
<rect x="522.51" y="373.34" width="1.6" height="7.9" fill="#8a8a8a"/>
<rect x="529.91" y="373.34" width="1.6" height="7.9" fill="#8a8a8a"/>
<rect x="536.78" y="373.34" width="1.6" height="7.9" fill="#8a8a8a"/>
<rect x="553.8" y="373.94" width="6.5" height="6.7" fill="#ebebeb" stroke="#b3b3b3" stroke-width="1.2"/>
<rect x="580.6" y="373.94" width="48.8" height="6.7" fill="#ebebeb" stroke="#b3b3b3" stroke-width="1.2"/>
<rect x="585.55" y="373.34" width="1.6" height="7.9" fill="#8a8a8a"/>
<rect x="592.08" y="373.34" width="1.6" height="7.9" fill="#8a8a8a"/>
<rect x="599.82" y="373.34" width="1.6" height="7.9" fill="#8a8a8a"/>
<rect x="606.45" y="373.34" width="1.6" height="7.9" fill="#8a8a8a"/>
<rect x="612.74" y="373.34" width="1.6" height="7.9" fill="#8a8a8a"/>
<rect x="620.38" y="373.34" width="1.6" height="7.9" fill="#8a8a8a"/>
<rect x="636.3" y="373.94" width="6.5" height="6.7" fill="#ebebeb" stroke="#b3b3b3" stroke-width="1.2"/>
<rect x="221.4" y="373.34" width="1.4" height="7.9" fill="#7c7c7c"/>
<rect x="242.5" y="373.34" width="1.4" height="7.9" fill="#7c7c7c"/>
<rect x="262.3" y="373.34" width="1.4" height="7.9" fill="#7c7c7c"/>
<rect x="279.4" y="373.34" width="1.4" height="7.9" fill="#7c7c7c"/>
<rect x="320.6" y="373.34" width="1.4" height="7.9" fill="#7c7c7c"/>
<rect x="333.4" y="373.34" width="1.4" height="7.9" fill="#7c7c7c"/>
<rect x="346" y="373.34" width="1.4" height="7.9" fill="#7c7c7c"/>
<rect x="373.9" y="373.34" width="1.4" height="7.9" fill="#7c7c7c"/>
<rect x="427.1" y="373.34" width="1.4" height="7.9" fill="#7c7c7c"/>
<rect x="438.7" y="373.34" width="1.4" height="7.9" fill="#7c7c7c"/>
<line x1="222.8" y1="386.46" x2="242.5" y2="386.46" stroke="#5c5c5c" stroke-width="1.5"/>
<line x1="263.7" y1="386.46" x2="279.4" y2="386.46" stroke="#5c5c5c" stroke-width="1.5"/>
<line x1="322" y1="386.46" x2="333.4" y2="386.46" stroke="#5c5c5c" stroke-width="1.5"/>
<line x1="347.4" y1="386.46" x2="373.9" y2="386.46" stroke="#5c5c5c" stroke-width="1.5"/>
<line x1="391.6" y1="386.46" x2="402.4" y2="386.46" stroke="#5c5c5c" stroke-width="1.5"/>
<line x1="428.5" y1="386.46" x2="438.7" y2="386.46" stroke="#5c5c5c" stroke-width="1.5"/>
<rect x="153" y="382.86" width="15.7" height="6.7" fill="#ebebeb" stroke="#b3b3b3" stroke-width="1.2"/>
<rect x="158.68" y="382.26" width="1.6" height="7.9" fill="#8a8a8a"/>
<rect x="171.6" y="382.86" width="6.3" height="6.7" fill="#ebebeb" stroke="#b3b3b3" stroke-width="1.2"/>
<rect x="180" y="382.86" width="42.2" height="6.7" fill="#ebebeb" stroke="#b3b3b3" stroke-width="1.2"/>
<rect x="186.02" y="382.26" width="1.6" height="7.9" fill="#8a8a8a"/>
<rect x="193.45" y="382.26" width="1.6" height="7.9" fill="#8a8a8a"/>
<rect x="201.07" y="382.26" width="1.6" height="7.9" fill="#8a8a8a"/>
<rect x="207.7" y="382.26" width="1.6" height="7.9" fill="#8a8a8a"/>
<rect x="214.95" y="382.26" width="1.6" height="7.9" fill="#8a8a8a"/>
<rect x="243.1" y="382.86" width="20" height="6.7" fill="#ebebeb" stroke="#b3b3b3" stroke-width="1.2"/>
<rect x="248.9" y="382.26" width="1.6" height="7.9" fill="#8a8a8a"/>
<rect x="255.36" y="382.26" width="1.6" height="7.9" fill="#8a8a8a"/>
<rect x="280" y="382.86" width="41.4" height="6.7" fill="#ebebeb" stroke="#b3b3b3" stroke-width="1.2"/>
<rect x="286.53" y="382.26" width="1.6" height="7.9" fill="#8a8a8a"/>
<rect x="293.27" y="382.26" width="1.6" height="7.9" fill="#8a8a8a"/>
<rect x="299.82" y="382.26" width="1.6" height="7.9" fill="#8a8a8a"/>
<rect x="307.71" y="382.26" width="1.6" height="7.9" fill="#8a8a8a"/>
<rect x="315.13" y="382.26" width="1.6" height="7.9" fill="#8a8a8a"/>
<rect x="334" y="382.86" width="12.8" height="6.7" fill="#ebebeb" stroke="#b3b3b3" stroke-width="1.2"/>
<rect x="338.52" y="382.26" width="1.6" height="7.9" fill="#8a8a8a"/>
<rect x="374.5" y="382.86" width="16.5" height="6.7" fill="#ebebeb" stroke="#b3b3b3" stroke-width="1.2"/>
<rect x="380.44" y="382.26" width="1.6" height="7.9" fill="#8a8a8a"/>
<rect x="387.16" y="382.26" width="1.6" height="7.9" fill="#8a8a8a"/>
<rect x="403" y="382.86" width="24.9" height="6.7" fill="#ebebeb" stroke="#b3b3b3" stroke-width="1.2"/>
<rect x="409.28" y="382.26" width="1.6" height="7.9" fill="#8a8a8a"/>
<rect x="416.84" y="382.26" width="1.6" height="7.9" fill="#8a8a8a"/>
<rect x="423.33" y="382.26" width="1.6" height="7.9" fill="#8a8a8a"/>
<rect x="439.3" y="382.86" width="61.6" height="6.7" fill="#ebebeb" stroke="#b3b3b3" stroke-width="1.2"/>
<rect x="444.15" y="382.26" width="1.6" height="7.9" fill="#8a8a8a"/>
<rect x="452.05" y="382.26" width="1.6" height="7.9" fill="#8a8a8a"/>
<rect x="459" y="382.26" width="1.6" height="7.9" fill="#8a8a8a"/>
<rect x="466.79" y="382.26" width="1.6" height="7.9" fill="#8a8a8a"/>
<rect x="474.25" y="382.26" width="1.6" height="7.9" fill="#8a8a8a"/>
<rect x="481.49" y="382.26" width="1.6" height="7.9" fill="#8a8a8a"/>
<rect x="488.11" y="382.26" width="1.6" height="7.9" fill="#8a8a8a"/>
<rect x="495.21" y="382.26" width="1.6" height="7.9" fill="#8a8a8a"/>
<rect x="504" y="382.86" width="42.9" height="6.7" fill="#ebebeb" stroke="#b3b3b3" stroke-width="1.2"/>
<rect x="508.78" y="382.26" width="1.6" height="7.9" fill="#8a8a8a"/>
<rect x="516.22" y="382.26" width="1.6" height="7.9" fill="#8a8a8a"/>
<rect x="523.02" y="382.26" width="1.6" height="7.9" fill="#8a8a8a"/>
<rect x="530.52" y="382.26" width="1.6" height="7.9" fill="#8a8a8a"/>
<rect x="537.11" y="382.26" width="1.6" height="7.9" fill="#8a8a8a"/>
<rect x="581.6" y="382.86" width="47.8" height="6.7" fill="#ebebeb" stroke="#b3b3b3" stroke-width="1.2"/>
<rect x="587.77" y="382.26" width="1.6" height="7.9" fill="#8a8a8a"/>
<rect x="594.47" y="382.26" width="1.6" height="7.9" fill="#8a8a8a"/>
<rect x="600.82" y="382.26" width="1.6" height="7.9" fill="#8a8a8a"/>
<rect x="607.68" y="382.26" width="1.6" height="7.9" fill="#8a8a8a"/>
<rect x="614.72" y="382.26" width="1.6" height="7.9" fill="#8a8a8a"/>
<rect x="621.05" y="382.26" width="1.6" height="7.9" fill="#8a8a8a"/>
<rect x="636.3" y="382.86" width="6.5" height="6.7" fill="#ebebeb" stroke="#b3b3b3" stroke-width="1.2"/>
<rect x="221.4" y="382.26" width="1.4" height="7.9" fill="#7c7c7c"/>
<rect x="242.5" y="382.26" width="1.4" height="7.9" fill="#7c7c7c"/>
<rect x="262.3" y="382.26" width="1.4" height="7.9" fill="#7c7c7c"/>
<rect x="279.4" y="382.26" width="1.4" height="7.9" fill="#7c7c7c"/>
<rect x="320.6" y="382.26" width="1.4" height="7.9" fill="#7c7c7c"/>
<rect x="333.4" y="382.26" width="1.4" height="7.9" fill="#7c7c7c"/>
<rect x="346" y="382.26" width="1.4" height="7.9" fill="#7c7c7c"/>
<rect x="373.9" y="382.26" width="1.4" height="7.9" fill="#7c7c7c"/>
<rect x="390.2" y="382.26" width="1.4" height="7.9" fill="#7c7c7c"/>
<rect x="402.4" y="382.26" width="1.4" height="7.9" fill="#7c7c7c"/>
<rect x="427.1" y="382.26" width="1.4" height="7.9" fill="#7c7c7c"/>
<rect x="438.7" y="382.26" width="1.4" height="7.9" fill="#7c7c7c"/>
<line x1="222.8" y1="395.38" x2="279.4" y2="395.38" stroke="#5c5c5c" stroke-width="1.5"/>
<line x1="322" y1="395.38" x2="333.4" y2="395.38" stroke="#5c5c5c" stroke-width="1.5"/>
<line x1="347.4" y1="395.38" x2="373.9" y2="395.38" stroke="#5c5c5c" stroke-width="1.5"/>
<line x1="391.6" y1="395.38" x2="402.4" y2="395.38" stroke="#5c5c5c" stroke-width="1.5"/>
<line x1="428.5" y1="395.38" x2="438.7" y2="395.38" stroke="#5c5c5c" stroke-width="1.5"/>
<rect x="153" y="391.78" width="15.7" height="6.7" fill="#ebebeb" stroke="#b3b3b3" stroke-width="1.2"/>
<rect x="158.88" y="391.18" width="1.6" height="7.9" fill="#8a8a8a"/>
<rect x="173.6" y="391.78" width="7.4" height="6.7" fill="#ebebeb" stroke="#b3b3b3" stroke-width="1.2"/>
<rect x="183.6" y="391.78" width="38.6" height="6.7" fill="#ebebeb" stroke="#b3b3b3" stroke-width="1.2"/>
<rect x="188.13" y="391.18" width="1.6" height="7.9" fill="#8a8a8a"/>
<rect x="195.55" y="391.18" width="1.6" height="7.9" fill="#8a8a8a"/>
<rect x="203.17" y="391.18" width="1.6" height="7.9" fill="#8a8a8a"/>
<rect x="211.05" y="391.18" width="1.6" height="7.9" fill="#8a8a8a"/>
<rect x="218.31" y="391.18" width="1.6" height="7.9" fill="#8a8a8a"/>
<rect x="280" y="391.78" width="41.4" height="6.7" fill="#ebebeb" stroke="#b3b3b3" stroke-width="1.2"/>
<rect x="286.46" y="391.18" width="1.6" height="7.9" fill="#8a8a8a"/>
<rect x="292.82" y="391.18" width="1.6" height="7.9" fill="#8a8a8a"/>
<rect x="300.22" y="391.18" width="1.6" height="7.9" fill="#8a8a8a"/>
<rect x="306.54" y="391.18" width="1.6" height="7.9" fill="#8a8a8a"/>
<rect x="313.41" y="391.18" width="1.6" height="7.9" fill="#8a8a8a"/>
<rect x="334" y="391.78" width="12.8" height="6.7" fill="#ebebeb" stroke="#b3b3b3" stroke-width="1.2"/>
<rect x="339.36" y="391.18" width="1.6" height="7.9" fill="#8a8a8a"/>
<rect x="374.5" y="391.78" width="16.5" height="6.7" fill="#ebebeb" stroke="#b3b3b3" stroke-width="1.2"/>
<rect x="379.51" y="391.18" width="1.6" height="7.9" fill="#8a8a8a"/>
<rect x="387.13" y="391.18" width="1.6" height="7.9" fill="#8a8a8a"/>
<rect x="403" y="391.78" width="24.9" height="6.7" fill="#ebebeb" stroke="#b3b3b3" stroke-width="1.2"/>
<rect x="408.84" y="391.18" width="1.6" height="7.9" fill="#8a8a8a"/>
<rect x="415.37" y="391.18" width="1.6" height="7.9" fill="#8a8a8a"/>
<rect x="422.81" y="391.18" width="1.6" height="7.9" fill="#8a8a8a"/>
<rect x="439.3" y="391.78" width="61.6" height="6.7" fill="#ebebeb" stroke="#b3b3b3" stroke-width="1.2"/>
<rect x="445.17" y="391.18" width="1.6" height="7.9" fill="#8a8a8a"/>
<rect x="452.96" y="391.18" width="1.6" height="7.9" fill="#8a8a8a"/>
<rect x="460.9" y="391.18" width="1.6" height="7.9" fill="#8a8a8a"/>
<rect x="467.13" y="391.18" width="1.6" height="7.9" fill="#8a8a8a"/>
<rect x="474.72" y="391.18" width="1.6" height="7.9" fill="#8a8a8a"/>
<rect x="482.41" y="391.18" width="1.6" height="7.9" fill="#8a8a8a"/>
<rect x="489.14" y="391.18" width="1.6" height="7.9" fill="#8a8a8a"/>
<rect x="495.98" y="391.18" width="1.6" height="7.9" fill="#8a8a8a"/>
<rect x="504" y="391.78" width="42.9" height="6.7" fill="#ebebeb" stroke="#b3b3b3" stroke-width="1.2"/>
<rect x="510.66" y="391.18" width="1.6" height="7.9" fill="#8a8a8a"/>
<rect x="517.53" y="391.18" width="1.6" height="7.9" fill="#8a8a8a"/>
<rect x="525.26" y="391.18" width="1.6" height="7.9" fill="#8a8a8a"/>
<rect x="532.77" y="391.18" width="1.6" height="7.9" fill="#8a8a8a"/>
<rect x="539.2" y="391.18" width="1.6" height="7.9" fill="#8a8a8a"/>
<rect x="582.6" y="391.78" width="46.8" height="6.7" fill="#ebebeb" stroke="#b3b3b3" stroke-width="1.2"/>
<rect x="587.09" y="391.18" width="1.6" height="7.9" fill="#8a8a8a"/>
<rect x="593.5" y="391.18" width="1.6" height="7.9" fill="#8a8a8a"/>
<rect x="600.84" y="391.18" width="1.6" height="7.9" fill="#8a8a8a"/>
<rect x="607.1" y="391.18" width="1.6" height="7.9" fill="#8a8a8a"/>
<rect x="613.93" y="391.18" width="1.6" height="7.9" fill="#8a8a8a"/>
<rect x="620.31" y="391.18" width="1.6" height="7.9" fill="#8a8a8a"/>
<rect x="636.3" y="391.78" width="6.5" height="6.7" fill="#ebebeb" stroke="#b3b3b3" stroke-width="1.2"/>
<rect x="221.4" y="391.18" width="1.4" height="7.9" fill="#7c7c7c"/>
<rect x="279.4" y="391.18" width="1.4" height="7.9" fill="#7c7c7c"/>
<rect x="320.6" y="391.18" width="1.4" height="7.9" fill="#7c7c7c"/>
<rect x="333.4" y="391.18" width="1.4" height="7.9" fill="#7c7c7c"/>
<rect x="346" y="391.18" width="1.4" height="7.9" fill="#7c7c7c"/>
<rect x="373.9" y="391.18" width="1.4" height="7.9" fill="#7c7c7c"/>
<rect x="390.2" y="391.18" width="1.4" height="7.9" fill="#7c7c7c"/>
<rect x="402.4" y="391.18" width="1.4" height="7.9" fill="#7c7c7c"/>
<rect x="427.1" y="391.18" width="1.4" height="7.9" fill="#7c7c7c"/>
<rect x="438.7" y="391.18" width="1.4" height="7.9" fill="#7c7c7c"/>
<line x1="222.8" y1="404.3" x2="241.5" y2="404.3" stroke="#5c5c5c" stroke-width="1.5"/>
<line x1="263.7" y1="404.3" x2="279.4" y2="404.3" stroke="#5c5c5c" stroke-width="1.5"/>
<line x1="322" y1="404.3" x2="333.4" y2="404.3" stroke="#5c5c5c" stroke-width="1.5"/>
<line x1="347.4" y1="404.3" x2="373.9" y2="404.3" stroke="#5c5c5c" stroke-width="1.5"/>
<line x1="391.6" y1="404.3" x2="402.4" y2="404.3" stroke="#5c5c5c" stroke-width="1.5"/>
<line x1="428.5" y1="404.3" x2="438.7" y2="404.3" stroke="#5c5c5c" stroke-width="1.5"/>
<line x1="547.7" y1="404.3" x2="655.5" y2="404.3" stroke="#5c5c5c" stroke-width="1.5"/>
<rect x="153" y="400.7" width="15.7" height="6.7" fill="#ebebeb" stroke="#b3b3b3" stroke-width="1.2"/>
<rect x="159.62" y="400.1" width="1.6" height="7.9" fill="#8a8a8a"/>
<rect x="165.84" y="400.1" width="1.6" height="7.9" fill="#8a8a8a"/>
<rect x="173.6" y="400.7" width="7.4" height="6.7" fill="#ebebeb" stroke="#b3b3b3" stroke-width="1.2"/>
<rect x="183.6" y="400.7" width="38.6" height="6.7" fill="#ebebeb" stroke="#b3b3b3" stroke-width="1.2"/>
<rect x="188.15" y="400.1" width="1.6" height="7.9" fill="#8a8a8a"/>
<rect x="194.8" y="400.1" width="1.6" height="7.9" fill="#8a8a8a"/>
<rect x="201.16" y="400.1" width="1.6" height="7.9" fill="#8a8a8a"/>
<rect x="207.47" y="400.1" width="1.6" height="7.9" fill="#8a8a8a"/>
<rect x="213.67" y="400.1" width="1.6" height="7.9" fill="#8a8a8a"/>
<rect x="242.1" y="400.7" width="21" height="6.7" fill="#ebebeb" stroke="#b3b3b3" stroke-width="1.2"/>
<rect x="248.34" y="400.1" width="1.6" height="7.9" fill="#8a8a8a"/>
<rect x="255.72" y="400.1" width="1.6" height="7.9" fill="#8a8a8a"/>
<rect x="280" y="400.7" width="12" height="6.7" fill="#ebebeb" stroke="#b3b3b3" stroke-width="1.2"/>
<rect x="286.04" y="400.1" width="1.6" height="7.9" fill="#8a8a8a"/>
<rect x="294.2" y="400.7" width="27.2" height="6.7" fill="#ebebeb" stroke="#b3b3b3" stroke-width="1.2"/>
<rect x="300.16" y="400.1" width="1.6" height="7.9" fill="#8a8a8a"/>
<rect x="308.06" y="400.1" width="1.6" height="7.9" fill="#8a8a8a"/>
<rect x="315.36" y="400.1" width="1.6" height="7.9" fill="#8a8a8a"/>
<rect x="334" y="400.7" width="12.8" height="6.7" fill="#ebebeb" stroke="#b3b3b3" stroke-width="1.2"/>
<rect x="338.59" y="400.1" width="1.6" height="7.9" fill="#8a8a8a"/>
<rect x="374.5" y="400.7" width="16.5" height="6.7" fill="#ebebeb" stroke="#b3b3b3" stroke-width="1.2"/>
<rect x="380.37" y="400.1" width="1.6" height="7.9" fill="#8a8a8a"/>
<rect x="387.15" y="400.1" width="1.6" height="7.9" fill="#8a8a8a"/>
<rect x="403" y="400.7" width="24.9" height="6.7" fill="#ebebeb" stroke="#b3b3b3" stroke-width="1.2"/>
<rect x="408.79" y="400.1" width="1.6" height="7.9" fill="#8a8a8a"/>
<rect x="415.88" y="400.1" width="1.6" height="7.9" fill="#8a8a8a"/>
<rect x="422.14" y="400.1" width="1.6" height="7.9" fill="#8a8a8a"/>
<rect x="439.3" y="400.7" width="61.6" height="6.7" fill="#ebebeb" stroke="#b3b3b3" stroke-width="1.2"/>
<rect x="444.74" y="400.1" width="1.6" height="7.9" fill="#8a8a8a"/>
<rect x="451.25" y="400.1" width="1.6" height="7.9" fill="#8a8a8a"/>
<rect x="458.98" y="400.1" width="1.6" height="7.9" fill="#8a8a8a"/>
<rect x="465.9" y="400.1" width="1.6" height="7.9" fill="#8a8a8a"/>
<rect x="473.24" y="400.1" width="1.6" height="7.9" fill="#8a8a8a"/>
<rect x="480.67" y="400.1" width="1.6" height="7.9" fill="#8a8a8a"/>
<rect x="488.16" y="400.1" width="1.6" height="7.9" fill="#8a8a8a"/>
<rect x="495.61" y="400.1" width="1.6" height="7.9" fill="#8a8a8a"/>
<rect x="504" y="400.7" width="43.1" height="6.7" fill="#ebebeb" stroke="#b3b3b3" stroke-width="1.2"/>
<rect x="509.05" y="400.1" width="1.6" height="7.9" fill="#8a8a8a"/>
<rect x="516.96" y="400.1" width="1.6" height="7.9" fill="#8a8a8a"/>
<rect x="523.38" y="400.1" width="1.6" height="7.9" fill="#8a8a8a"/>
<rect x="531.19" y="400.1" width="1.6" height="7.9" fill="#8a8a8a"/>
<rect x="538.87" y="400.1" width="1.6" height="7.9" fill="#8a8a8a"/>
<rect x="221.4" y="400.1" width="1.4" height="7.9" fill="#7c7c7c"/>
<rect x="241.5" y="400.1" width="1.4" height="7.9" fill="#7c7c7c"/>
<rect x="262.3" y="400.1" width="1.4" height="7.9" fill="#7c7c7c"/>
<rect x="279.4" y="400.1" width="1.4" height="7.9" fill="#7c7c7c"/>
<rect x="320.6" y="400.1" width="1.4" height="7.9" fill="#7c7c7c"/>
<rect x="333.4" y="400.1" width="1.4" height="7.9" fill="#7c7c7c"/>
<rect x="346" y="400.1" width="1.4" height="7.9" fill="#7c7c7c"/>
<rect x="373.9" y="400.1" width="1.4" height="7.9" fill="#7c7c7c"/>
<rect x="390.2" y="400.1" width="1.4" height="7.9" fill="#7c7c7c"/>
<rect x="402.4" y="400.1" width="1.4" height="7.9" fill="#7c7c7c"/>
<rect x="427.1" y="400.1" width="1.4" height="7.9" fill="#7c7c7c"/>
<rect x="438.7" y="400.1" width="1.4" height="7.9" fill="#7c7c7c"/>
<rect x="546.3" y="400.1" width="1.4" height="7.9" fill="#7c7c7c"/>
<line x1="263.7" y1="413.22" x2="279.4" y2="413.22" stroke="#5c5c5c" stroke-width="1.5"/>
<line x1="322" y1="413.22" x2="333.4" y2="413.22" stroke="#5c5c5c" stroke-width="1.5"/>
<line x1="347.4" y1="413.22" x2="373.9" y2="413.22" stroke="#5c5c5c" stroke-width="1.5"/>
<line x1="391.6" y1="413.22" x2="402.4" y2="413.22" stroke="#5c5c5c" stroke-width="1.5"/>
<line x1="428.5" y1="413.22" x2="438.7" y2="413.22" stroke="#5c5c5c" stroke-width="1.5"/>
<line x1="547.7" y1="413.22" x2="655.5" y2="413.22" stroke="#5c5c5c" stroke-width="1.5"/>
<rect x="153" y="409.62" width="15.7" height="6.7" fill="#ebebeb" stroke="#b3b3b3" stroke-width="1.2"/>
<rect x="157.58" y="409.02" width="1.6" height="7.9" fill="#8a8a8a"/>
<rect x="163.89" y="409.02" width="1.6" height="7.9" fill="#8a8a8a"/>
<rect x="173.6" y="409.62" width="7.4" height="6.7" fill="#ebebeb" stroke="#b3b3b3" stroke-width="1.2"/>
<rect x="183.6" y="409.62" width="36.3" height="6.7" fill="#ebebeb" stroke="#b3b3b3" stroke-width="1.2"/>
<rect x="188.94" y="409.02" width="1.6" height="7.9" fill="#8a8a8a"/>
<rect x="196.86" y="409.02" width="1.6" height="7.9" fill="#8a8a8a"/>
<rect x="203.08" y="409.02" width="1.6" height="7.9" fill="#8a8a8a"/>
<rect x="210.19" y="409.02" width="1.6" height="7.9" fill="#8a8a8a"/>
<rect x="217.14" y="409.02" width="1.6" height="7.9" fill="#8a8a8a"/>
<rect x="223.8" y="409.62" width="6.4" height="6.7" fill="#ebebeb" stroke="#b3b3b3" stroke-width="1.2"/>
<rect x="237.6" y="409.62" width="25.5" height="6.7" fill="#ebebeb" stroke="#b3b3b3" stroke-width="1.2"/>
<rect x="243.75" y="409.02" width="1.6" height="7.9" fill="#8a8a8a"/>
<rect x="251.49" y="409.02" width="1.6" height="7.9" fill="#8a8a8a"/>
<rect x="257.68" y="409.02" width="1.6" height="7.9" fill="#8a8a8a"/>
<rect x="280" y="409.62" width="1.2" height="6.7" fill="#ebebeb" stroke="#b3b3b3" stroke-width="1.2"/>
<rect x="285.9" y="409.62" width="35.5" height="6.7" fill="#ebebeb" stroke="#b3b3b3" stroke-width="1.2"/>
<rect x="292.27" y="409.02" width="1.6" height="7.9" fill="#8a8a8a"/>
<rect x="298.58" y="409.02" width="1.6" height="7.9" fill="#8a8a8a"/>
<rect x="304.79" y="409.02" width="1.6" height="7.9" fill="#8a8a8a"/>
<rect x="311.63" y="409.02" width="1.6" height="7.9" fill="#8a8a8a"/>
<rect x="334" y="409.62" width="12.8" height="6.7" fill="#ebebeb" stroke="#b3b3b3" stroke-width="1.2"/>
<rect x="339.2" y="409.02" width="1.6" height="7.9" fill="#8a8a8a"/>
<rect x="374.5" y="409.62" width="16.5" height="6.7" fill="#ebebeb" stroke="#b3b3b3" stroke-width="1.2"/>
<rect x="380.86" y="409.02" width="1.6" height="7.9" fill="#8a8a8a"/>
<rect x="403" y="409.62" width="24.9" height="6.7" fill="#ebebeb" stroke="#b3b3b3" stroke-width="1.2"/>
<rect x="409.5" y="409.02" width="1.6" height="7.9" fill="#8a8a8a"/>
<rect x="416.2" y="409.02" width="1.6" height="7.9" fill="#8a8a8a"/>
<rect x="423.12" y="409.02" width="1.6" height="7.9" fill="#8a8a8a"/>
<rect x="439.3" y="409.62" width="21.7" height="6.7" fill="#ebebeb" stroke="#b3b3b3" stroke-width="1.2"/>
<rect x="445.09" y="409.02" width="1.6" height="7.9" fill="#8a8a8a"/>
<rect x="451.83" y="409.02" width="1.6" height="7.9" fill="#8a8a8a"/>
<rect x="463.9" y="409.62" width="83.2" height="6.7" fill="#ebebeb" stroke="#b3b3b3" stroke-width="1.2"/>
<rect x="470.23" y="409.02" width="1.6" height="7.9" fill="#8a8a8a"/>
<rect x="478.1" y="409.02" width="1.6" height="7.9" fill="#8a8a8a"/>
<rect x="485.3" y="409.02" width="1.6" height="7.9" fill="#8a8a8a"/>
<rect x="491.64" y="409.02" width="1.6" height="7.9" fill="#8a8a8a"/>
<rect x="498.97" y="409.02" width="1.6" height="7.9" fill="#8a8a8a"/>
<rect x="505.92" y="409.02" width="1.6" height="7.9" fill="#8a8a8a"/>
<rect x="513.85" y="409.02" width="1.6" height="7.9" fill="#8a8a8a"/>
<rect x="521.3" y="409.02" width="1.6" height="7.9" fill="#8a8a8a"/>
<rect x="528.95" y="409.02" width="1.6" height="7.9" fill="#8a8a8a"/>
<rect x="536.36" y="409.02" width="1.6" height="7.9" fill="#8a8a8a"/>
<rect x="543.48" y="409.02" width="1.6" height="7.9" fill="#8a8a8a"/>
<rect x="262.3" y="409.02" width="1.4" height="7.9" fill="#7c7c7c"/>
<rect x="279.4" y="409.02" width="1.4" height="7.9" fill="#7c7c7c"/>
<rect x="320.6" y="409.02" width="1.4" height="7.9" fill="#7c7c7c"/>
<rect x="333.4" y="409.02" width="1.4" height="7.9" fill="#7c7c7c"/>
<rect x="346" y="409.02" width="1.4" height="7.9" fill="#7c7c7c"/>
<rect x="373.9" y="409.02" width="1.4" height="7.9" fill="#7c7c7c"/>
<rect x="390.2" y="409.02" width="1.4" height="7.9" fill="#7c7c7c"/>
<rect x="402.4" y="409.02" width="1.4" height="7.9" fill="#7c7c7c"/>
<rect x="427.1" y="409.02" width="1.4" height="7.9" fill="#7c7c7c"/>
<rect x="438.7" y="409.02" width="1.4" height="7.9" fill="#7c7c7c"/>
<rect x="546.3" y="409.02" width="1.4" height="7.9" fill="#7c7c7c"/>
<line x1="263.7" y1="422.14" x2="279.4" y2="422.14" stroke="#5c5c5c" stroke-width="1.5"/>
<line x1="322" y1="422.14" x2="333.4" y2="422.14" stroke="#5c5c5c" stroke-width="1.5"/>
<line x1="347.4" y1="422.14" x2="373.9" y2="422.14" stroke="#5c5c5c" stroke-width="1.5"/>
<line x1="391.6" y1="422.14" x2="402.4" y2="422.14" stroke="#5c5c5c" stroke-width="1.5"/>
<line x1="428.5" y1="422.14" x2="438.7" y2="422.14" stroke="#5c5c5c" stroke-width="1.5"/>
<rect x="153" y="418.54" width="15.7" height="6.7" fill="#ebebeb" stroke="#b3b3b3" stroke-width="1.2"/>
<rect x="159.45" y="417.94" width="1.6" height="7.9" fill="#8a8a8a"/>
<rect x="173.6" y="418.54" width="7.4" height="6.7" fill="#ebebeb" stroke="#b3b3b3" stroke-width="1.2"/>
<rect x="183.6" y="418.54" width="36.3" height="6.7" fill="#ebebeb" stroke="#b3b3b3" stroke-width="1.2"/>
<rect x="188.94" y="417.94" width="1.6" height="7.9" fill="#8a8a8a"/>
<rect x="196.03" y="417.94" width="1.6" height="7.9" fill="#8a8a8a"/>
<rect x="202.35" y="417.94" width="1.6" height="7.9" fill="#8a8a8a"/>
<rect x="209.12" y="417.94" width="1.6" height="7.9" fill="#8a8a8a"/>
<rect x="216.31" y="417.94" width="1.6" height="7.9" fill="#8a8a8a"/>
<rect x="237.7" y="418.54" width="25.4" height="6.7" fill="#ebebeb" stroke="#b3b3b3" stroke-width="1.2"/>
<rect x="244.11" y="417.94" width="1.6" height="7.9" fill="#8a8a8a"/>
<rect x="251.43" y="417.94" width="1.6" height="7.9" fill="#8a8a8a"/>
<rect x="258.14" y="417.94" width="1.6" height="7.9" fill="#8a8a8a"/>
<rect x="280" y="418.54" width="2.2" height="6.7" fill="#ebebeb" stroke="#b3b3b3" stroke-width="1.2"/>
<rect x="285.9" y="418.54" width="35.5" height="6.7" fill="#ebebeb" stroke="#b3b3b3" stroke-width="1.2"/>
<rect x="291.13" y="417.94" width="1.6" height="7.9" fill="#8a8a8a"/>
<rect x="298.63" y="417.94" width="1.6" height="7.9" fill="#8a8a8a"/>
<rect x="305.68" y="417.94" width="1.6" height="7.9" fill="#8a8a8a"/>
<rect x="312.78" y="417.94" width="1.6" height="7.9" fill="#8a8a8a"/>
<rect x="334" y="418.54" width="12.8" height="6.7" fill="#ebebeb" stroke="#b3b3b3" stroke-width="1.2"/>
<rect x="340.64" y="417.94" width="1.6" height="7.9" fill="#8a8a8a"/>
<rect x="374.5" y="418.54" width="16.5" height="6.7" fill="#ebebeb" stroke="#b3b3b3" stroke-width="1.2"/>
<rect x="379.74" y="417.94" width="1.6" height="7.9" fill="#8a8a8a"/>
<rect x="386.01" y="417.94" width="1.6" height="7.9" fill="#8a8a8a"/>
<rect x="403" y="418.54" width="24.9" height="6.7" fill="#ebebeb" stroke="#b3b3b3" stroke-width="1.2"/>
<rect x="408.6" y="417.94" width="1.6" height="7.9" fill="#8a8a8a"/>
<rect x="416.39" y="417.94" width="1.6" height="7.9" fill="#8a8a8a"/>
<rect x="424.21" y="417.94" width="1.6" height="7.9" fill="#8a8a8a"/>
<rect x="439.3" y="418.54" width="65.2" height="6.7" fill="#ebebeb" stroke="#b3b3b3" stroke-width="1.2"/>
<rect x="445.71" y="417.94" width="1.6" height="7.9" fill="#8a8a8a"/>
<rect x="453.52" y="417.94" width="1.6" height="7.9" fill="#8a8a8a"/>
<rect x="461.33" y="417.94" width="1.6" height="7.9" fill="#8a8a8a"/>
<rect x="468.93" y="417.94" width="1.6" height="7.9" fill="#8a8a8a"/>
<rect x="475.32" y="417.94" width="1.6" height="7.9" fill="#8a8a8a"/>
<rect x="482.41" y="417.94" width="1.6" height="7.9" fill="#8a8a8a"/>
<rect x="489.6" y="417.94" width="1.6" height="7.9" fill="#8a8a8a"/>
<rect x="497.53" y="417.94" width="1.6" height="7.9" fill="#8a8a8a"/>
<rect x="508.2" y="418.54" width="35.4" height="6.7" fill="#ebebeb" stroke="#b3b3b3" stroke-width="1.2"/>
<rect x="514.34" y="417.94" width="1.6" height="7.9" fill="#8a8a8a"/>
<rect x="521.83" y="417.94" width="1.6" height="7.9" fill="#8a8a8a"/>
<rect x="528.63" y="417.94" width="1.6" height="7.9" fill="#8a8a8a"/>
<rect x="536.48" y="417.94" width="1.6" height="7.9" fill="#8a8a8a"/>
<rect x="582.6" y="418.54" width="48.7" height="6.7" fill="#ebebeb" stroke="#b3b3b3" stroke-width="1.2"/>
<rect x="588.02" y="417.94" width="1.6" height="7.9" fill="#8a8a8a"/>
<rect x="595" y="417.94" width="1.6" height="7.9" fill="#8a8a8a"/>
<rect x="602.92" y="417.94" width="1.6" height="7.9" fill="#8a8a8a"/>
<rect x="610.02" y="417.94" width="1.6" height="7.9" fill="#8a8a8a"/>
<rect x="616.48" y="417.94" width="1.6" height="7.9" fill="#8a8a8a"/>
<rect x="622.89" y="417.94" width="1.6" height="7.9" fill="#8a8a8a"/>
<rect x="636.3" y="418.54" width="7.4" height="6.7" fill="#ebebeb" stroke="#b3b3b3" stroke-width="1.2"/>
<rect x="262.3" y="417.94" width="1.4" height="7.9" fill="#7c7c7c"/>
<rect x="279.4" y="417.94" width="1.4" height="7.9" fill="#7c7c7c"/>
<rect x="320.6" y="417.94" width="1.4" height="7.9" fill="#7c7c7c"/>
<rect x="333.4" y="417.94" width="1.4" height="7.9" fill="#7c7c7c"/>
<rect x="346" y="417.94" width="1.4" height="7.9" fill="#7c7c7c"/>
<rect x="373.9" y="417.94" width="1.4" height="7.9" fill="#7c7c7c"/>
<rect x="390.2" y="417.94" width="1.4" height="7.9" fill="#7c7c7c"/>
<rect x="402.4" y="417.94" width="1.4" height="7.9" fill="#7c7c7c"/>
<rect x="427.1" y="417.94" width="1.4" height="7.9" fill="#7c7c7c"/>
<rect x="438.7" y="417.94" width="1.4" height="7.9" fill="#7c7c7c"/>
<line x1="263.1" y1="431.06" x2="279.8" y2="431.06" stroke="#5c5c5c" stroke-width="1.5"/>
<line x1="322" y1="431.06" x2="333.4" y2="431.06" stroke="#5c5c5c" stroke-width="1.5"/>
<line x1="347.4" y1="431.06" x2="373.9" y2="431.06" stroke="#5c5c5c" stroke-width="1.5"/>
<line x1="391.6" y1="431.06" x2="402.4" y2="431.06" stroke="#5c5c5c" stroke-width="1.5"/>
<line x1="428.5" y1="431.06" x2="438.7" y2="431.06" stroke="#5c5c5c" stroke-width="1.5"/>
<line x1="547.5" y1="431.06" x2="655.5" y2="431.06" stroke="#5c5c5c" stroke-width="1.5"/>
<rect x="153" y="427.46" width="15.7" height="6.7" fill="#ebebeb" stroke="#b3b3b3" stroke-width="1.2"/>
<rect x="159.63" y="426.86" width="1.6" height="7.9" fill="#8a8a8a"/>
<rect x="173.6" y="427.46" width="7.4" height="6.7" fill="#ebebeb" stroke="#b3b3b3" stroke-width="1.2"/>
<rect x="183.6" y="427.46" width="36.3" height="6.7" fill="#ebebeb" stroke="#b3b3b3" stroke-width="1.2"/>
<rect x="189.8" y="426.86" width="1.6" height="7.9" fill="#8a8a8a"/>
<rect x="196.04" y="426.86" width="1.6" height="7.9" fill="#8a8a8a"/>
<rect x="202.37" y="426.86" width="1.6" height="7.9" fill="#8a8a8a"/>
<rect x="209.5" y="426.86" width="1.6" height="7.9" fill="#8a8a8a"/>
<rect x="216.13" y="426.86" width="1.6" height="7.9" fill="#8a8a8a"/>
<rect x="238.2" y="427.46" width="24.3" height="6.7" fill="#ebebeb" stroke="#b3b3b3" stroke-width="1.2"/>
<rect x="243.28" y="426.86" width="1.6" height="7.9" fill="#8a8a8a"/>
<rect x="250.57" y="426.86" width="1.6" height="7.9" fill="#8a8a8a"/>
<rect x="257.66" y="426.86" width="1.6" height="7.9" fill="#8a8a8a"/>
<rect x="280.4" y="427.46" width="1.8" height="6.7" fill="#ebebeb" stroke="#b3b3b3" stroke-width="1.2"/>
<rect x="285.9" y="427.46" width="35.5" height="6.7" fill="#ebebeb" stroke="#b3b3b3" stroke-width="1.2"/>
<rect x="292.39" y="426.86" width="1.6" height="7.9" fill="#8a8a8a"/>
<rect x="299.7" y="426.86" width="1.6" height="7.9" fill="#8a8a8a"/>
<rect x="306.16" y="426.86" width="1.6" height="7.9" fill="#8a8a8a"/>
<rect x="313.86" y="426.86" width="1.6" height="7.9" fill="#8a8a8a"/>
<rect x="334" y="427.46" width="12.8" height="6.7" fill="#ebebeb" stroke="#b3b3b3" stroke-width="1.2"/>
<rect x="339.33" y="426.86" width="1.6" height="7.9" fill="#8a8a8a"/>
<rect x="374.5" y="427.46" width="16.5" height="6.7" fill="#ebebeb" stroke="#b3b3b3" stroke-width="1.2"/>
<rect x="380.65" y="426.86" width="1.6" height="7.9" fill="#8a8a8a"/>
<rect x="387.32" y="426.86" width="1.6" height="7.9" fill="#8a8a8a"/>
<rect x="403" y="427.46" width="24.9" height="6.7" fill="#ebebeb" stroke="#b3b3b3" stroke-width="1.2"/>
<rect x="408.89" y="426.86" width="1.6" height="7.9" fill="#8a8a8a"/>
<rect x="416.59" y="426.86" width="1.6" height="7.9" fill="#8a8a8a"/>
<rect x="424.35" y="426.86" width="1.6" height="7.9" fill="#8a8a8a"/>
<rect x="439.3" y="427.46" width="56.8" height="6.7" fill="#ebebeb" stroke="#b3b3b3" stroke-width="1.2"/>
<rect x="445.37" y="426.86" width="1.6" height="7.9" fill="#8a8a8a"/>
<rect x="452.5" y="426.86" width="1.6" height="7.9" fill="#8a8a8a"/>
<rect x="460.35" y="426.86" width="1.6" height="7.9" fill="#8a8a8a"/>
<rect x="467.94" y="426.86" width="1.6" height="7.9" fill="#8a8a8a"/>
<rect x="475.4" y="426.86" width="1.6" height="7.9" fill="#8a8a8a"/>
<rect x="483.01" y="426.86" width="1.6" height="7.9" fill="#8a8a8a"/>
<rect x="490.96" y="426.86" width="1.6" height="7.9" fill="#8a8a8a"/>
<rect x="499.6" y="427.46" width="6.1" height="6.7" fill="#ebebeb" stroke="#b3b3b3" stroke-width="1.2"/>
<rect x="510.6" y="427.46" width="30.5" height="6.7" fill="#ebebeb" stroke="#b3b3b3" stroke-width="1.2"/>
<rect x="516.84" y="426.86" width="1.6" height="7.9" fill="#8a8a8a"/>
<rect x="524.38" y="426.86" width="1.6" height="7.9" fill="#8a8a8a"/>
<rect x="531.45" y="426.86" width="1.6" height="7.9" fill="#8a8a8a"/>
<rect x="544.2" y="427.46" width="2.7" height="6.7" fill="#ebebeb" stroke="#b3b3b3" stroke-width="1.2"/>
<rect x="261.7" y="426.86" width="1.4" height="7.9" fill="#7c7c7c"/>
<rect x="279.8" y="426.86" width="1.4" height="7.9" fill="#7c7c7c"/>
<rect x="320.6" y="426.86" width="1.4" height="7.9" fill="#7c7c7c"/>
<rect x="333.4" y="426.86" width="1.4" height="7.9" fill="#7c7c7c"/>
<rect x="346" y="426.86" width="1.4" height="7.9" fill="#7c7c7c"/>
<rect x="373.9" y="426.86" width="1.4" height="7.9" fill="#7c7c7c"/>
<rect x="390.2" y="426.86" width="1.4" height="7.9" fill="#7c7c7c"/>
<rect x="402.4" y="426.86" width="1.4" height="7.9" fill="#7c7c7c"/>
<rect x="427.1" y="426.86" width="1.4" height="7.9" fill="#7c7c7c"/>
<rect x="438.7" y="426.86" width="1.4" height="7.9" fill="#7c7c7c"/>
<rect x="546.1" y="426.86" width="1.4" height="7.9" fill="#7c7c7c"/>
<line x1="263.1" y1="439.98" x2="279.8" y2="439.98" stroke="#5c5c5c" stroke-width="1.5"/>
<line x1="322" y1="439.98" x2="333.4" y2="439.98" stroke="#5c5c5c" stroke-width="1.5"/>
<line x1="347.4" y1="439.98" x2="373.9" y2="439.98" stroke="#5c5c5c" stroke-width="1.5"/>
<line x1="391.6" y1="439.98" x2="402.4" y2="439.98" stroke="#5c5c5c" stroke-width="1.5"/>
<line x1="428.5" y1="439.98" x2="438.7" y2="439.98" stroke="#5c5c5c" stroke-width="1.5"/>
<rect x="153" y="436.38" width="15.7" height="6.7" fill="#ebebeb" stroke="#b3b3b3" stroke-width="1.2"/>
<rect x="159.57" y="435.78" width="1.6" height="7.9" fill="#8a8a8a"/>
<rect x="173.6" y="436.38" width="7.4" height="6.7" fill="#ebebeb" stroke="#b3b3b3" stroke-width="1.2"/>
<rect x="183.6" y="436.38" width="36.3" height="6.7" fill="#ebebeb" stroke="#b3b3b3" stroke-width="1.2"/>
<rect x="188.15" y="435.78" width="1.6" height="7.9" fill="#8a8a8a"/>
<rect x="195.83" y="435.78" width="1.6" height="7.9" fill="#8a8a8a"/>
<rect x="202.8" y="435.78" width="1.6" height="7.9" fill="#8a8a8a"/>
<rect x="209.3" y="435.78" width="1.6" height="7.9" fill="#8a8a8a"/>
<rect x="215.98" y="435.78" width="1.6" height="7.9" fill="#8a8a8a"/>
<rect x="238.8" y="436.38" width="14.5" height="6.7" fill="#ebebeb" stroke="#b3b3b3" stroke-width="1.2"/>
<rect x="243.26" y="435.78" width="1.6" height="7.9" fill="#8a8a8a"/>
<rect x="249.63" y="435.78" width="1.6" height="7.9" fill="#8a8a8a"/>
<rect x="259.2" y="436.38" width="3.3" height="6.7" fill="#ebebeb" stroke="#b3b3b3" stroke-width="1.2"/>
<rect x="280.4" y="436.38" width="41" height="6.7" fill="#ebebeb" stroke="#b3b3b3" stroke-width="1.2"/>
<rect x="286.64" y="435.78" width="1.6" height="7.9" fill="#8a8a8a"/>
<rect x="294.54" y="435.78" width="1.6" height="7.9" fill="#8a8a8a"/>
<rect x="301.67" y="435.78" width="1.6" height="7.9" fill="#8a8a8a"/>
<rect x="308.85" y="435.78" width="1.6" height="7.9" fill="#8a8a8a"/>
<rect x="315.99" y="435.78" width="1.6" height="7.9" fill="#8a8a8a"/>
<rect x="334" y="436.38" width="12.8" height="6.7" fill="#ebebeb" stroke="#b3b3b3" stroke-width="1.2"/>
<rect x="339.75" y="435.78" width="1.6" height="7.9" fill="#8a8a8a"/>
<rect x="374.5" y="436.38" width="16.5" height="6.7" fill="#ebebeb" stroke="#b3b3b3" stroke-width="1.2"/>
<rect x="381.24" y="435.78" width="1.6" height="7.9" fill="#8a8a8a"/>
<rect x="388.12" y="435.78" width="1.6" height="7.9" fill="#8a8a8a"/>
<rect x="403" y="436.38" width="24.9" height="6.7" fill="#ebebeb" stroke="#b3b3b3" stroke-width="1.2"/>
<rect x="408.19" y="435.78" width="1.6" height="7.9" fill="#8a8a8a"/>
<rect x="414.88" y="435.78" width="1.6" height="7.9" fill="#8a8a8a"/>
<rect x="421.94" y="435.78" width="1.6" height="7.9" fill="#8a8a8a"/>
<rect x="439.3" y="436.38" width="25.4" height="6.7" fill="#ebebeb" stroke="#b3b3b3" stroke-width="1.2"/>
<rect x="445.07" y="435.78" width="1.6" height="7.9" fill="#8a8a8a"/>
<rect x="452.98" y="435.78" width="1.6" height="7.9" fill="#8a8a8a"/>
<rect x="459.42" y="435.78" width="1.6" height="7.9" fill="#8a8a8a"/>
<rect x="467.1" y="436.38" width="29" height="6.7" fill="#ebebeb" stroke="#b3b3b3" stroke-width="1.2"/>
<rect x="473.94" y="435.78" width="1.6" height="7.9" fill="#8a8a8a"/>
<rect x="481.41" y="435.78" width="1.6" height="7.9" fill="#8a8a8a"/>
<rect x="488.58" y="435.78" width="1.6" height="7.9" fill="#8a8a8a"/>
<rect x="499.6" y="436.38" width="6.1" height="6.7" fill="#ebebeb" stroke="#b3b3b3" stroke-width="1.2"/>
<rect x="510.6" y="436.38" width="21.8" height="6.7" fill="#ebebeb" stroke="#b3b3b3" stroke-width="1.2"/>
<rect x="517.3" y="435.78" width="1.6" height="7.9" fill="#8a8a8a"/>
<rect x="525.06" y="435.78" width="1.6" height="7.9" fill="#8a8a8a"/>
<rect x="535.9" y="436.38" width="6.2" height="6.7" fill="#ebebeb" stroke="#b3b3b3" stroke-width="1.2"/>
<rect x="585.5" y="436.38" width="49.6" height="6.7" fill="#ebebeb" stroke="#b3b3b3" stroke-width="1.2"/>
<rect x="592.17" y="435.78" width="1.6" height="7.9" fill="#8a8a8a"/>
<rect x="599.84" y="435.78" width="1.6" height="7.9" fill="#8a8a8a"/>
<rect x="606.68" y="435.78" width="1.6" height="7.9" fill="#8a8a8a"/>
<rect x="613.67" y="435.78" width="1.6" height="7.9" fill="#8a8a8a"/>
<rect x="621.25" y="435.78" width="1.6" height="7.9" fill="#8a8a8a"/>
<rect x="628.07" y="435.78" width="1.6" height="7.9" fill="#8a8a8a"/>
<rect x="261.7" y="435.78" width="1.4" height="7.9" fill="#7c7c7c"/>
<rect x="279.8" y="435.78" width="1.4" height="7.9" fill="#7c7c7c"/>
<rect x="320.6" y="435.78" width="1.4" height="7.9" fill="#7c7c7c"/>
<rect x="333.4" y="435.78" width="1.4" height="7.9" fill="#7c7c7c"/>
<rect x="346" y="435.78" width="1.4" height="7.9" fill="#7c7c7c"/>
<rect x="373.9" y="435.78" width="1.4" height="7.9" fill="#7c7c7c"/>
<rect x="390.2" y="435.78" width="1.4" height="7.9" fill="#7c7c7c"/>
<rect x="402.4" y="435.78" width="1.4" height="7.9" fill="#7c7c7c"/>
<rect x="427.1" y="435.78" width="1.4" height="7.9" fill="#7c7c7c"/>
<rect x="438.7" y="435.78" width="1.4" height="7.9" fill="#7c7c7c"/>
<line x1="222.6" y1="557.4" x2="242.1" y2="557.4" stroke="#5c5c5c" stroke-width="1.5"/>
<line x1="322" y1="557.4" x2="333.7" y2="557.4" stroke="#5c5c5c" stroke-width="1.5"/>
<line x1="347.4" y1="557.4" x2="373.9" y2="557.4" stroke="#5c5c5c" stroke-width="1.5"/>
<line x1="391.6" y1="557.4" x2="402.4" y2="557.4" stroke="#5c5c5c" stroke-width="1.5"/>
<line x1="428.5" y1="557.4" x2="438.7" y2="557.4" stroke="#5c5c5c" stroke-width="1.5"/>
<line x1="547.7" y1="557.4" x2="655.5" y2="557.4" stroke="#5c5c5c" stroke-width="1.5"/>
<rect x="143.9" y="553.8" width="78.1" height="6.7" fill="#ebebeb" stroke="#b3b3b3" stroke-width="1.2"/>
<rect x="150.64" y="553.2" width="1.6" height="7.9" fill="#8a8a8a"/>
<rect x="158.5" y="553.2" width="1.6" height="7.9" fill="#8a8a8a"/>
<rect x="164.75" y="553.2" width="1.6" height="7.9" fill="#8a8a8a"/>
<rect x="171.06" y="553.2" width="1.6" height="7.9" fill="#8a8a8a"/>
<rect x="178.71" y="553.2" width="1.6" height="7.9" fill="#8a8a8a"/>
<rect x="186.18" y="553.2" width="1.6" height="7.9" fill="#8a8a8a"/>
<rect x="193.54" y="553.2" width="1.6" height="7.9" fill="#8a8a8a"/>
<rect x="200.24" y="553.2" width="1.6" height="7.9" fill="#8a8a8a"/>
<rect x="207.48" y="553.2" width="1.6" height="7.9" fill="#8a8a8a"/>
<rect x="214.73" y="553.2" width="1.6" height="7.9" fill="#8a8a8a"/>
<rect x="242.7" y="553.8" width="27.7" height="6.7" fill="#ebebeb" stroke="#b3b3b3" stroke-width="1.2"/>
<rect x="247.53" y="553.2" width="1.6" height="7.9" fill="#8a8a8a"/>
<rect x="254.46" y="553.2" width="1.6" height="7.9" fill="#8a8a8a"/>
<rect x="261.31" y="553.2" width="1.6" height="7.9" fill="#8a8a8a"/>
<rect x="272.9" y="553.8" width="48.5" height="6.7" fill="#ebebeb" stroke="#b3b3b3" stroke-width="1.2"/>
<rect x="279.74" y="553.2" width="1.6" height="7.9" fill="#8a8a8a"/>
<rect x="287.6" y="553.2" width="1.6" height="7.9" fill="#8a8a8a"/>
<rect x="294.73" y="553.2" width="1.6" height="7.9" fill="#8a8a8a"/>
<rect x="301.68" y="553.2" width="1.6" height="7.9" fill="#8a8a8a"/>
<rect x="308.31" y="553.2" width="1.6" height="7.9" fill="#8a8a8a"/>
<rect x="314.52" y="553.2" width="1.6" height="7.9" fill="#8a8a8a"/>
<rect x="334.3" y="553.8" width="12.5" height="6.7" fill="#ebebeb" stroke="#b3b3b3" stroke-width="1.2"/>
<rect x="339.87" y="553.2" width="1.6" height="7.9" fill="#8a8a8a"/>
<rect x="374.5" y="553.8" width="16.5" height="6.7" fill="#ebebeb" stroke="#b3b3b3" stroke-width="1.2"/>
<rect x="379.86" y="553.2" width="1.6" height="7.9" fill="#8a8a8a"/>
<rect x="387.62" y="553.2" width="1.6" height="7.9" fill="#8a8a8a"/>
<rect x="403" y="553.8" width="24.9" height="6.7" fill="#ebebeb" stroke="#b3b3b3" stroke-width="1.2"/>
<rect x="408.8" y="553.2" width="1.6" height="7.9" fill="#8a8a8a"/>
<rect x="415.37" y="553.2" width="1.6" height="7.9" fill="#8a8a8a"/>
<rect x="421.56" y="553.2" width="1.6" height="7.9" fill="#8a8a8a"/>
<rect x="439.3" y="553.8" width="107.8" height="6.7" fill="#ebebeb" stroke="#b3b3b3" stroke-width="1.2"/>
<rect x="444.08" y="553.2" width="1.6" height="7.9" fill="#8a8a8a"/>
<rect x="451.15" y="553.2" width="1.6" height="7.9" fill="#8a8a8a"/>
<rect x="459.09" y="553.2" width="1.6" height="7.9" fill="#8a8a8a"/>
<rect x="466.46" y="553.2" width="1.6" height="7.9" fill="#8a8a8a"/>
<rect x="472.94" y="553.2" width="1.6" height="7.9" fill="#8a8a8a"/>
<rect x="480.69" y="553.2" width="1.6" height="7.9" fill="#8a8a8a"/>
<rect x="488.28" y="553.2" width="1.6" height="7.9" fill="#8a8a8a"/>
<rect x="495.75" y="553.2" width="1.6" height="7.9" fill="#8a8a8a"/>
<rect x="503.53" y="553.2" width="1.6" height="7.9" fill="#8a8a8a"/>
<rect x="511.06" y="553.2" width="1.6" height="7.9" fill="#8a8a8a"/>
<rect x="518.63" y="553.2" width="1.6" height="7.9" fill="#8a8a8a"/>
<rect x="525.41" y="553.2" width="1.6" height="7.9" fill="#8a8a8a"/>
<rect x="533.33" y="553.2" width="1.6" height="7.9" fill="#8a8a8a"/>
<rect x="541.21" y="553.2" width="1.6" height="7.9" fill="#8a8a8a"/>
<rect x="221.2" y="553.2" width="1.4" height="7.9" fill="#7c7c7c"/>
<rect x="242.1" y="553.2" width="1.4" height="7.9" fill="#7c7c7c"/>
<rect x="320.6" y="553.2" width="1.4" height="7.9" fill="#7c7c7c"/>
<rect x="333.7" y="553.2" width="1.4" height="7.9" fill="#7c7c7c"/>
<rect x="346" y="553.2" width="1.4" height="7.9" fill="#7c7c7c"/>
<rect x="373.9" y="553.2" width="1.4" height="7.9" fill="#7c7c7c"/>
<rect x="390.2" y="553.2" width="1.4" height="7.9" fill="#7c7c7c"/>
<rect x="402.4" y="553.2" width="1.4" height="7.9" fill="#7c7c7c"/>
<rect x="427.1" y="553.2" width="1.4" height="7.9" fill="#7c7c7c"/>
<rect x="438.7" y="553.2" width="1.4" height="7.9" fill="#7c7c7c"/>
<rect x="546.3" y="553.2" width="1.4" height="7.9" fill="#7c7c7c"/>
<line x1="222.6" y1="566.32" x2="242.1" y2="566.32" stroke="#5c5c5c" stroke-width="1.5"/>
<line x1="263.1" y1="566.32" x2="279.4" y2="566.32" stroke="#5c5c5c" stroke-width="1.5"/>
<line x1="322" y1="566.32" x2="333.7" y2="566.32" stroke="#5c5c5c" stroke-width="1.5"/>
<line x1="391.6" y1="566.32" x2="402.4" y2="566.32" stroke="#5c5c5c" stroke-width="1.5"/>
<line x1="428.5" y1="566.32" x2="438.7" y2="566.32" stroke="#5c5c5c" stroke-width="1.5"/>
<line x1="547.7" y1="566.32" x2="655.5" y2="566.32" stroke="#5c5c5c" stroke-width="1.5"/>
<rect x="145" y="562.72" width="77" height="6.7" fill="#ebebeb" stroke="#b3b3b3" stroke-width="1.2"/>
<rect x="151.26" y="562.12" width="1.6" height="7.9" fill="#8a8a8a"/>
<rect x="158.7" y="562.12" width="1.6" height="7.9" fill="#8a8a8a"/>
<rect x="165.68" y="562.12" width="1.6" height="7.9" fill="#8a8a8a"/>
<rect x="172.78" y="562.12" width="1.6" height="7.9" fill="#8a8a8a"/>
<rect x="179.81" y="562.12" width="1.6" height="7.9" fill="#8a8a8a"/>
<rect x="187.63" y="562.12" width="1.6" height="7.9" fill="#8a8a8a"/>
<rect x="194.68" y="562.12" width="1.6" height="7.9" fill="#8a8a8a"/>
<rect x="202.33" y="562.12" width="1.6" height="7.9" fill="#8a8a8a"/>
<rect x="209.11" y="562.12" width="1.6" height="7.9" fill="#8a8a8a"/>
<rect x="216.85" y="562.12" width="1.6" height="7.9" fill="#8a8a8a"/>
<rect x="242.7" y="562.72" width="19.8" height="6.7" fill="#ebebeb" stroke="#b3b3b3" stroke-width="1.2"/>
<rect x="248.26" y="562.12" width="1.6" height="7.9" fill="#8a8a8a"/>
<rect x="255.43" y="562.12" width="1.6" height="7.9" fill="#8a8a8a"/>
<rect x="280" y="562.72" width="41.4" height="6.7" fill="#ebebeb" stroke="#b3b3b3" stroke-width="1.2"/>
<rect x="286.19" y="562.12" width="1.6" height="7.9" fill="#8a8a8a"/>
<rect x="293.21" y="562.12" width="1.6" height="7.9" fill="#8a8a8a"/>
<rect x="299.76" y="562.12" width="1.6" height="7.9" fill="#8a8a8a"/>
<rect x="306.5" y="562.12" width="1.6" height="7.9" fill="#8a8a8a"/>
<rect x="313.91" y="562.12" width="1.6" height="7.9" fill="#8a8a8a"/>
<rect x="334.3" y="562.72" width="12.5" height="6.7" fill="#ebebeb" stroke="#b3b3b3" stroke-width="1.2"/>
<rect x="340.93" y="562.12" width="1.6" height="7.9" fill="#8a8a8a"/>
<rect x="374.5" y="562.72" width="16.5" height="6.7" fill="#ebebeb" stroke="#b3b3b3" stroke-width="1.2"/>
<rect x="381.14" y="562.12" width="1.6" height="7.9" fill="#8a8a8a"/>
<rect x="387.84" y="562.12" width="1.6" height="7.9" fill="#8a8a8a"/>
<rect x="403" y="562.72" width="24.9" height="6.7" fill="#ebebeb" stroke="#b3b3b3" stroke-width="1.2"/>
<rect x="409.14" y="562.12" width="1.6" height="7.9" fill="#8a8a8a"/>
<rect x="416.2" y="562.12" width="1.6" height="7.9" fill="#8a8a8a"/>
<rect x="423.28" y="562.12" width="1.6" height="7.9" fill="#8a8a8a"/>
<rect x="439.3" y="562.72" width="107.8" height="6.7" fill="#ebebeb" stroke="#b3b3b3" stroke-width="1.2"/>
<rect x="445.16" y="562.12" width="1.6" height="7.9" fill="#8a8a8a"/>
<rect x="451.87" y="562.12" width="1.6" height="7.9" fill="#8a8a8a"/>
<rect x="458.4" y="562.12" width="1.6" height="7.9" fill="#8a8a8a"/>
<rect x="465.47" y="562.12" width="1.6" height="7.9" fill="#8a8a8a"/>
<rect x="473.3" y="562.12" width="1.6" height="7.9" fill="#8a8a8a"/>
<rect x="480.57" y="562.12" width="1.6" height="7.9" fill="#8a8a8a"/>
<rect x="486.86" y="562.12" width="1.6" height="7.9" fill="#8a8a8a"/>
<rect x="494.48" y="562.12" width="1.6" height="7.9" fill="#8a8a8a"/>
<rect x="501.94" y="562.12" width="1.6" height="7.9" fill="#8a8a8a"/>
<rect x="509.72" y="562.12" width="1.6" height="7.9" fill="#8a8a8a"/>
<rect x="516.22" y="562.12" width="1.6" height="7.9" fill="#8a8a8a"/>
<rect x="523.71" y="562.12" width="1.6" height="7.9" fill="#8a8a8a"/>
<rect x="529.97" y="562.12" width="1.6" height="7.9" fill="#8a8a8a"/>
<rect x="537.29" y="562.12" width="1.6" height="7.9" fill="#8a8a8a"/>
<rect x="543.93" y="562.12" width="1.6" height="7.9" fill="#8a8a8a"/>
<rect x="221.2" y="562.12" width="1.4" height="7.9" fill="#7c7c7c"/>
<rect x="242.1" y="562.12" width="1.4" height="7.9" fill="#7c7c7c"/>
<rect x="261.7" y="562.12" width="1.4" height="7.9" fill="#7c7c7c"/>
<rect x="279.4" y="562.12" width="1.4" height="7.9" fill="#7c7c7c"/>
<rect x="320.6" y="562.12" width="1.4" height="7.9" fill="#7c7c7c"/>
<rect x="333.7" y="562.12" width="1.4" height="7.9" fill="#7c7c7c"/>
<rect x="390.2" y="562.12" width="1.4" height="7.9" fill="#7c7c7c"/>
<rect x="402.4" y="562.12" width="1.4" height="7.9" fill="#7c7c7c"/>
<rect x="427.1" y="562.12" width="1.4" height="7.9" fill="#7c7c7c"/>
<rect x="438.7" y="562.12" width="1.4" height="7.9" fill="#7c7c7c"/>
<rect x="546.3" y="562.12" width="1.4" height="7.9" fill="#7c7c7c"/>
<line x1="222.6" y1="575.24" x2="242.1" y2="575.24" stroke="#5c5c5c" stroke-width="1.5"/>
<line x1="263.1" y1="575.24" x2="279.4" y2="575.24" stroke="#5c5c5c" stroke-width="1.5"/>
<line x1="391.6" y1="575.24" x2="402.4" y2="575.24" stroke="#5c5c5c" stroke-width="1.5"/>
<line x1="428.5" y1="575.24" x2="438.7" y2="575.24" stroke="#5c5c5c" stroke-width="1.5"/>
<rect x="145" y="571.64" width="77" height="6.7" fill="#ebebeb" stroke="#b3b3b3" stroke-width="1.2"/>
<rect x="151.55" y="571.04" width="1.6" height="7.9" fill="#8a8a8a"/>
<rect x="157.89" y="571.04" width="1.6" height="7.9" fill="#8a8a8a"/>
<rect x="164.98" y="571.04" width="1.6" height="7.9" fill="#8a8a8a"/>
<rect x="172.67" y="571.04" width="1.6" height="7.9" fill="#8a8a8a"/>
<rect x="179.26" y="571.04" width="1.6" height="7.9" fill="#8a8a8a"/>
<rect x="185.79" y="571.04" width="1.6" height="7.9" fill="#8a8a8a"/>
<rect x="193.52" y="571.04" width="1.6" height="7.9" fill="#8a8a8a"/>
<rect x="200.44" y="571.04" width="1.6" height="7.9" fill="#8a8a8a"/>
<rect x="207.88" y="571.04" width="1.6" height="7.9" fill="#8a8a8a"/>
<rect x="214.08" y="571.04" width="1.6" height="7.9" fill="#8a8a8a"/>
<rect x="242.7" y="571.64" width="19.8" height="6.7" fill="#ebebeb" stroke="#b3b3b3" stroke-width="1.2"/>
<rect x="247.56" y="571.04" width="1.6" height="7.9" fill="#8a8a8a"/>
<rect x="254.92" y="571.04" width="1.6" height="7.9" fill="#8a8a8a"/>
<rect x="280" y="571.64" width="41.4" height="6.7" fill="#ebebeb" stroke="#b3b3b3" stroke-width="1.2"/>
<rect x="286.74" y="571.04" width="1.6" height="7.9" fill="#8a8a8a"/>
<rect x="292.94" y="571.04" width="1.6" height="7.9" fill="#8a8a8a"/>
<rect x="300.4" y="571.04" width="1.6" height="7.9" fill="#8a8a8a"/>
<rect x="306.59" y="571.04" width="1.6" height="7.9" fill="#8a8a8a"/>
<rect x="313.2" y="571.04" width="1.6" height="7.9" fill="#8a8a8a"/>
<rect x="333.4" y="571.64" width="13.4" height="6.7" fill="#ebebeb" stroke="#b3b3b3" stroke-width="1.2"/>
<rect x="338.23" y="571.04" width="1.6" height="7.9" fill="#8a8a8a"/>
<rect x="374.5" y="571.64" width="16.5" height="6.7" fill="#ebebeb" stroke="#b3b3b3" stroke-width="1.2"/>
<rect x="380.61" y="571.04" width="1.6" height="7.9" fill="#8a8a8a"/>
<rect x="387.45" y="571.04" width="1.6" height="7.9" fill="#8a8a8a"/>
<rect x="403" y="571.64" width="24.9" height="6.7" fill="#ebebeb" stroke="#b3b3b3" stroke-width="1.2"/>
<rect x="409.83" y="571.04" width="1.6" height="7.9" fill="#8a8a8a"/>
<rect x="416.25" y="571.04" width="1.6" height="7.9" fill="#8a8a8a"/>
<rect x="422.46" y="571.04" width="1.6" height="7.9" fill="#8a8a8a"/>
<rect x="439.3" y="571.64" width="114.3" height="6.7" fill="#ebebeb" stroke="#b3b3b3" stroke-width="1.2"/>
<rect x="445.23" y="571.04" width="1.6" height="7.9" fill="#8a8a8a"/>
<rect x="452.71" y="571.04" width="1.6" height="7.9" fill="#8a8a8a"/>
<rect x="459.07" y="571.04" width="1.6" height="7.9" fill="#8a8a8a"/>
<rect x="465.82" y="571.04" width="1.6" height="7.9" fill="#8a8a8a"/>
<rect x="472.03" y="571.04" width="1.6" height="7.9" fill="#8a8a8a"/>
<rect x="478.99" y="571.04" width="1.6" height="7.9" fill="#8a8a8a"/>
<rect x="486.52" y="571.04" width="1.6" height="7.9" fill="#8a8a8a"/>
<rect x="494" y="571.04" width="1.6" height="7.9" fill="#8a8a8a"/>
<rect x="501.77" y="571.04" width="1.6" height="7.9" fill="#8a8a8a"/>
<rect x="509.28" y="571.04" width="1.6" height="7.9" fill="#8a8a8a"/>
<rect x="516.98" y="571.04" width="1.6" height="7.9" fill="#8a8a8a"/>
<rect x="524.4" y="571.04" width="1.6" height="7.9" fill="#8a8a8a"/>
<rect x="531.4" y="571.04" width="1.6" height="7.9" fill="#8a8a8a"/>
<rect x="537.96" y="571.04" width="1.6" height="7.9" fill="#8a8a8a"/>
<rect x="545.3" y="571.04" width="1.6" height="7.9" fill="#8a8a8a"/>
<rect x="558.6" y="571.64" width="71.7" height="6.7" fill="#ebebeb" stroke="#b3b3b3" stroke-width="1.2"/>
<rect x="563.29" y="571.04" width="1.6" height="7.9" fill="#8a8a8a"/>
<rect x="570.25" y="571.04" width="1.6" height="7.9" fill="#8a8a8a"/>
<rect x="577.98" y="571.04" width="1.6" height="7.9" fill="#8a8a8a"/>
<rect x="584.36" y="571.04" width="1.6" height="7.9" fill="#8a8a8a"/>
<rect x="591.56" y="571.04" width="1.6" height="7.9" fill="#8a8a8a"/>
<rect x="598.42" y="571.04" width="1.6" height="7.9" fill="#8a8a8a"/>
<rect x="605.49" y="571.04" width="1.6" height="7.9" fill="#8a8a8a"/>
<rect x="611.9" y="571.04" width="1.6" height="7.9" fill="#8a8a8a"/>
<rect x="619.78" y="571.04" width="1.6" height="7.9" fill="#8a8a8a"/>
<rect x="626.39" y="571.04" width="1.6" height="7.9" fill="#8a8a8a"/>
<rect x="634.4" y="571.64" width="20.5" height="6.7" fill="#ebebeb" stroke="#b3b3b3" stroke-width="1.2"/>
<rect x="639.86" y="571.04" width="1.6" height="7.9" fill="#8a8a8a"/>
<rect x="646.04" y="571.04" width="1.6" height="7.9" fill="#8a8a8a"/>
<rect x="221.2" y="571.04" width="1.4" height="7.9" fill="#7c7c7c"/>
<rect x="242.1" y="571.04" width="1.4" height="7.9" fill="#7c7c7c"/>
<rect x="261.7" y="571.04" width="1.4" height="7.9" fill="#7c7c7c"/>
<rect x="279.4" y="571.04" width="1.4" height="7.9" fill="#7c7c7c"/>
<rect x="390.2" y="571.04" width="1.4" height="7.9" fill="#7c7c7c"/>
<rect x="402.4" y="571.04" width="1.4" height="7.9" fill="#7c7c7c"/>
<rect x="427.1" y="571.04" width="1.4" height="7.9" fill="#7c7c7c"/>
<rect x="438.7" y="571.04" width="1.4" height="7.9" fill="#7c7c7c"/>
<line x1="222.6" y1="584.16" x2="242.1" y2="584.16" stroke="#5c5c5c" stroke-width="1.5"/>
<line x1="263.1" y1="584.16" x2="279.4" y2="584.16" stroke="#5c5c5c" stroke-width="1.5"/>
<line x1="346.4" y1="584.16" x2="373.9" y2="584.16" stroke="#5c5c5c" stroke-width="1.5"/>
<line x1="391.6" y1="584.16" x2="402.4" y2="584.16" stroke="#5c5c5c" stroke-width="1.5"/>
<line x1="428.5" y1="584.16" x2="438.7" y2="584.16" stroke="#5c5c5c" stroke-width="1.5"/>
<line x1="547.5" y1="584.16" x2="583" y2="584.16" stroke="#5c5c5c" stroke-width="1.5"/>
<rect x="145" y="580.56" width="77" height="6.7" fill="#ebebeb" stroke="#b3b3b3" stroke-width="1.2"/>
<rect x="149.79" y="579.96" width="1.6" height="7.9" fill="#8a8a8a"/>
<rect x="156.04" y="579.96" width="1.6" height="7.9" fill="#8a8a8a"/>
<rect x="162.25" y="579.96" width="1.6" height="7.9" fill="#8a8a8a"/>
<rect x="168.69" y="579.96" width="1.6" height="7.9" fill="#8a8a8a"/>
<rect x="175.01" y="579.96" width="1.6" height="7.9" fill="#8a8a8a"/>
<rect x="182.31" y="579.96" width="1.6" height="7.9" fill="#8a8a8a"/>
<rect x="189.37" y="579.96" width="1.6" height="7.9" fill="#8a8a8a"/>
<rect x="197.29" y="579.96" width="1.6" height="7.9" fill="#8a8a8a"/>
<rect x="205.12" y="579.96" width="1.6" height="7.9" fill="#8a8a8a"/>
<rect x="213.06" y="579.96" width="1.6" height="7.9" fill="#8a8a8a"/>
<rect x="242.7" y="580.56" width="19.8" height="6.7" fill="#ebebeb" stroke="#b3b3b3" stroke-width="1.2"/>
<rect x="248.22" y="579.96" width="1.6" height="7.9" fill="#8a8a8a"/>
<rect x="254.82" y="579.96" width="1.6" height="7.9" fill="#8a8a8a"/>
<rect x="280" y="580.56" width="41.4" height="6.7" fill="#ebebeb" stroke="#b3b3b3" stroke-width="1.2"/>
<rect x="285.95" y="579.96" width="1.6" height="7.9" fill="#8a8a8a"/>
<rect x="293.54" y="579.96" width="1.6" height="7.9" fill="#8a8a8a"/>
<rect x="300.97" y="579.96" width="1.6" height="7.9" fill="#8a8a8a"/>
<rect x="307.58" y="579.96" width="1.6" height="7.9" fill="#8a8a8a"/>
<rect x="314.49" y="579.96" width="1.6" height="7.9" fill="#8a8a8a"/>
<rect x="333.4" y="580.56" width="12.4" height="6.7" fill="#ebebeb" stroke="#b3b3b3" stroke-width="1.2"/>
<rect x="337.86" y="579.96" width="1.6" height="7.9" fill="#8a8a8a"/>
<rect x="374.5" y="580.56" width="16.5" height="6.7" fill="#ebebeb" stroke="#b3b3b3" stroke-width="1.2"/>
<rect x="379.93" y="579.96" width="1.6" height="7.9" fill="#8a8a8a"/>
<rect x="386.28" y="579.96" width="1.6" height="7.9" fill="#8a8a8a"/>
<rect x="403" y="580.56" width="24.9" height="6.7" fill="#ebebeb" stroke="#b3b3b3" stroke-width="1.2"/>
<rect x="408.03" y="579.96" width="1.6" height="7.9" fill="#8a8a8a"/>
<rect x="414.36" y="579.96" width="1.6" height="7.9" fill="#8a8a8a"/>
<rect x="420.83" y="579.96" width="1.6" height="7.9" fill="#8a8a8a"/>
<rect x="439.3" y="580.56" width="107.6" height="6.7" fill="#ebebeb" stroke="#b3b3b3" stroke-width="1.2"/>
<rect x="444.27" y="579.96" width="1.6" height="7.9" fill="#8a8a8a"/>
<rect x="451.36" y="579.96" width="1.6" height="7.9" fill="#8a8a8a"/>
<rect x="458.34" y="579.96" width="1.6" height="7.9" fill="#8a8a8a"/>
<rect x="465.05" y="579.96" width="1.6" height="7.9" fill="#8a8a8a"/>
<rect x="472.36" y="579.96" width="1.6" height="7.9" fill="#8a8a8a"/>
<rect x="478.89" y="579.96" width="1.6" height="7.9" fill="#8a8a8a"/>
<rect x="486.67" y="579.96" width="1.6" height="7.9" fill="#8a8a8a"/>
<rect x="494.56" y="579.96" width="1.6" height="7.9" fill="#8a8a8a"/>
<rect x="502.02" y="579.96" width="1.6" height="7.9" fill="#8a8a8a"/>
<rect x="508.95" y="579.96" width="1.6" height="7.9" fill="#8a8a8a"/>
<rect x="516.02" y="579.96" width="1.6" height="7.9" fill="#8a8a8a"/>
<rect x="523.21" y="579.96" width="1.6" height="7.9" fill="#8a8a8a"/>
<rect x="529.46" y="579.96" width="1.6" height="7.9" fill="#8a8a8a"/>
<rect x="536.36" y="579.96" width="1.6" height="7.9" fill="#8a8a8a"/>
<rect x="543.45" y="579.96" width="1.6" height="7.9" fill="#8a8a8a"/>
<rect x="583.6" y="580.56" width="71.3" height="6.7" fill="#ebebeb" stroke="#b3b3b3" stroke-width="1.2"/>
<rect x="588.28" y="579.96" width="1.6" height="7.9" fill="#8a8a8a"/>
<rect x="595.87" y="579.96" width="1.6" height="7.9" fill="#8a8a8a"/>
<rect x="602.68" y="579.96" width="1.6" height="7.9" fill="#8a8a8a"/>
<rect x="609.76" y="579.96" width="1.6" height="7.9" fill="#8a8a8a"/>
<rect x="617.57" y="579.96" width="1.6" height="7.9" fill="#8a8a8a"/>
<rect x="624.82" y="579.96" width="1.6" height="7.9" fill="#8a8a8a"/>
<rect x="631.49" y="579.96" width="1.6" height="7.9" fill="#8a8a8a"/>
<rect x="639.41" y="579.96" width="1.6" height="7.9" fill="#8a8a8a"/>
<rect x="646.23" y="579.96" width="1.6" height="7.9" fill="#8a8a8a"/>
<rect x="221.2" y="579.96" width="1.4" height="7.9" fill="#7c7c7c"/>
<rect x="242.1" y="579.96" width="1.4" height="7.9" fill="#7c7c7c"/>
<rect x="261.7" y="579.96" width="1.4" height="7.9" fill="#7c7c7c"/>
<rect x="279.4" y="579.96" width="1.4" height="7.9" fill="#7c7c7c"/>
<rect x="345" y="579.96" width="1.4" height="7.9" fill="#7c7c7c"/>
<rect x="373.9" y="579.96" width="1.4" height="7.9" fill="#7c7c7c"/>
<rect x="390.2" y="579.96" width="1.4" height="7.9" fill="#7c7c7c"/>
<rect x="402.4" y="579.96" width="1.4" height="7.9" fill="#7c7c7c"/>
<rect x="427.1" y="579.96" width="1.4" height="7.9" fill="#7c7c7c"/>
<rect x="438.7" y="579.96" width="1.4" height="7.9" fill="#7c7c7c"/>
<rect x="546.1" y="579.96" width="1.4" height="7.9" fill="#7c7c7c"/>
<rect x="583" y="579.96" width="1.4" height="7.9" fill="#7c7c7c"/>
<line x1="222.6" y1="593.08" x2="242.1" y2="593.08" stroke="#5c5c5c" stroke-width="1.5"/>
<line x1="263.1" y1="593.08" x2="279.4" y2="593.08" stroke="#5c5c5c" stroke-width="1.5"/>
<line x1="322" y1="593.08" x2="333.7" y2="593.08" stroke="#5c5c5c" stroke-width="1.5"/>
<line x1="347.4" y1="593.08" x2="373.9" y2="593.08" stroke="#5c5c5c" stroke-width="1.5"/>
<line x1="391.6" y1="593.08" x2="402.4" y2="593.08" stroke="#5c5c5c" stroke-width="1.5"/>
<line x1="428.5" y1="593.08" x2="438.7" y2="593.08" stroke="#5c5c5c" stroke-width="1.5"/>
<line x1="547.7" y1="593.08" x2="655.5" y2="593.08" stroke="#5c5c5c" stroke-width="1.5"/>
<rect x="145" y="589.48" width="77" height="6.7" fill="#ebebeb" stroke="#b3b3b3" stroke-width="1.2"/>
<rect x="151.09" y="588.88" width="1.6" height="7.9" fill="#8a8a8a"/>
<rect x="157.43" y="588.88" width="1.6" height="7.9" fill="#8a8a8a"/>
<rect x="164.13" y="588.88" width="1.6" height="7.9" fill="#8a8a8a"/>
<rect x="171.79" y="588.88" width="1.6" height="7.9" fill="#8a8a8a"/>
<rect x="179.15" y="588.88" width="1.6" height="7.9" fill="#8a8a8a"/>
<rect x="185.33" y="588.88" width="1.6" height="7.9" fill="#8a8a8a"/>
<rect x="192.29" y="588.88" width="1.6" height="7.9" fill="#8a8a8a"/>
<rect x="199.18" y="588.88" width="1.6" height="7.9" fill="#8a8a8a"/>
<rect x="206.21" y="588.88" width="1.6" height="7.9" fill="#8a8a8a"/>
<rect x="212.73" y="588.88" width="1.6" height="7.9" fill="#8a8a8a"/>
<rect x="242.7" y="589.48" width="19.8" height="6.7" fill="#ebebeb" stroke="#b3b3b3" stroke-width="1.2"/>
<rect x="247.33" y="588.88" width="1.6" height="7.9" fill="#8a8a8a"/>
<rect x="253.99" y="588.88" width="1.6" height="7.9" fill="#8a8a8a"/>
<rect x="280" y="589.48" width="41.4" height="6.7" fill="#ebebeb" stroke="#b3b3b3" stroke-width="1.2"/>
<rect x="286.69" y="588.88" width="1.6" height="7.9" fill="#8a8a8a"/>
<rect x="292.98" y="588.88" width="1.6" height="7.9" fill="#8a8a8a"/>
<rect x="300.49" y="588.88" width="1.6" height="7.9" fill="#8a8a8a"/>
<rect x="306.99" y="588.88" width="1.6" height="7.9" fill="#8a8a8a"/>
<rect x="314.17" y="588.88" width="1.6" height="7.9" fill="#8a8a8a"/>
<rect x="334.3" y="589.48" width="12.5" height="6.7" fill="#ebebeb" stroke="#b3b3b3" stroke-width="1.2"/>
<rect x="339.86" y="588.88" width="1.6" height="7.9" fill="#8a8a8a"/>
<rect x="374.5" y="589.48" width="16.5" height="6.7" fill="#ebebeb" stroke="#b3b3b3" stroke-width="1.2"/>
<rect x="379.9" y="588.88" width="1.6" height="7.9" fill="#8a8a8a"/>
<rect x="386.27" y="588.88" width="1.6" height="7.9" fill="#8a8a8a"/>
<rect x="403" y="589.48" width="24.9" height="6.7" fill="#ebebeb" stroke="#b3b3b3" stroke-width="1.2"/>
<rect x="407.64" y="588.88" width="1.6" height="7.9" fill="#8a8a8a"/>
<rect x="415.32" y="588.88" width="1.6" height="7.9" fill="#8a8a8a"/>
<rect x="422.63" y="588.88" width="1.6" height="7.9" fill="#8a8a8a"/>
<rect x="439.3" y="589.48" width="107.8" height="6.7" fill="#ebebeb" stroke="#b3b3b3" stroke-width="1.2"/>
<rect x="445.41" y="588.88" width="1.6" height="7.9" fill="#8a8a8a"/>
<rect x="451.61" y="588.88" width="1.6" height="7.9" fill="#8a8a8a"/>
<rect x="458.94" y="588.88" width="1.6" height="7.9" fill="#8a8a8a"/>
<rect x="466.49" y="588.88" width="1.6" height="7.9" fill="#8a8a8a"/>
<rect x="473.94" y="588.88" width="1.6" height="7.9" fill="#8a8a8a"/>
<rect x="480.99" y="588.88" width="1.6" height="7.9" fill="#8a8a8a"/>
<rect x="487.78" y="588.88" width="1.6" height="7.9" fill="#8a8a8a"/>
<rect x="494.76" y="588.88" width="1.6" height="7.9" fill="#8a8a8a"/>
<rect x="502.34" y="588.88" width="1.6" height="7.9" fill="#8a8a8a"/>
<rect x="508.98" y="588.88" width="1.6" height="7.9" fill="#8a8a8a"/>
<rect x="516.08" y="588.88" width="1.6" height="7.9" fill="#8a8a8a"/>
<rect x="523.09" y="588.88" width="1.6" height="7.9" fill="#8a8a8a"/>
<rect x="530.95" y="588.88" width="1.6" height="7.9" fill="#8a8a8a"/>
<rect x="538.55" y="588.88" width="1.6" height="7.9" fill="#8a8a8a"/>
<rect x="221.2" y="588.88" width="1.4" height="7.9" fill="#7c7c7c"/>
<rect x="242.1" y="588.88" width="1.4" height="7.9" fill="#7c7c7c"/>
<rect x="261.7" y="588.88" width="1.4" height="7.9" fill="#7c7c7c"/>
<rect x="279.4" y="588.88" width="1.4" height="7.9" fill="#7c7c7c"/>
<rect x="320.6" y="588.88" width="1.4" height="7.9" fill="#7c7c7c"/>
<rect x="333.7" y="588.88" width="1.4" height="7.9" fill="#7c7c7c"/>
<rect x="346" y="588.88" width="1.4" height="7.9" fill="#7c7c7c"/>
<rect x="373.9" y="588.88" width="1.4" height="7.9" fill="#7c7c7c"/>
<rect x="390.2" y="588.88" width="1.4" height="7.9" fill="#7c7c7c"/>
<rect x="402.4" y="588.88" width="1.4" height="7.9" fill="#7c7c7c"/>
<rect x="427.1" y="588.88" width="1.4" height="7.9" fill="#7c7c7c"/>
<rect x="438.7" y="588.88" width="1.4" height="7.9" fill="#7c7c7c"/>
<rect x="546.3" y="588.88" width="1.4" height="7.9" fill="#7c7c7c"/>
<line x1="222.6" y1="602" x2="242.1" y2="602" stroke="#5c5c5c" stroke-width="1.5"/>
<line x1="263.1" y1="602" x2="279.4" y2="602" stroke="#5c5c5c" stroke-width="1.5"/>
<line x1="346.4" y1="602" x2="373.9" y2="602" stroke="#5c5c5c" stroke-width="1.5"/>
<line x1="428.5" y1="602" x2="438.7" y2="602" stroke="#5c5c5c" stroke-width="1.5"/>
<line x1="547.7" y1="602" x2="655.5" y2="602" stroke="#5c5c5c" stroke-width="1.5"/>
<rect x="145" y="598.4" width="77" height="6.7" fill="#ebebeb" stroke="#b3b3b3" stroke-width="1.2"/>
<rect x="151.46" y="597.8" width="1.6" height="7.9" fill="#8a8a8a"/>
<rect x="158.14" y="597.8" width="1.6" height="7.9" fill="#8a8a8a"/>
<rect x="164.71" y="597.8" width="1.6" height="7.9" fill="#8a8a8a"/>
<rect x="171.74" y="597.8" width="1.6" height="7.9" fill="#8a8a8a"/>
<rect x="178.35" y="597.8" width="1.6" height="7.9" fill="#8a8a8a"/>
<rect x="185.27" y="597.8" width="1.6" height="7.9" fill="#8a8a8a"/>
<rect x="192.65" y="597.8" width="1.6" height="7.9" fill="#8a8a8a"/>
<rect x="200.45" y="597.8" width="1.6" height="7.9" fill="#8a8a8a"/>
<rect x="207.65" y="597.8" width="1.6" height="7.9" fill="#8a8a8a"/>
<rect x="215.28" y="597.8" width="1.6" height="7.9" fill="#8a8a8a"/>
<rect x="242.7" y="598.4" width="19.8" height="6.7" fill="#ebebeb" stroke="#b3b3b3" stroke-width="1.2"/>
<rect x="248" y="597.8" width="1.6" height="7.9" fill="#8a8a8a"/>
<rect x="255.95" y="597.8" width="1.6" height="7.9" fill="#8a8a8a"/>
<rect x="280" y="598.4" width="41.4" height="6.7" fill="#ebebeb" stroke="#b3b3b3" stroke-width="1.2"/>
<rect x="285.45" y="597.8" width="1.6" height="7.9" fill="#8a8a8a"/>
<rect x="291.72" y="597.8" width="1.6" height="7.9" fill="#8a8a8a"/>
<rect x="298.03" y="597.8" width="1.6" height="7.9" fill="#8a8a8a"/>
<rect x="305.79" y="597.8" width="1.6" height="7.9" fill="#8a8a8a"/>
<rect x="313.72" y="597.8" width="1.6" height="7.9" fill="#8a8a8a"/>
<rect x="333.4" y="598.4" width="12.4" height="6.7" fill="#ebebeb" stroke="#b3b3b3" stroke-width="1.2"/>
<rect x="338.16" y="597.8" width="1.6" height="7.9" fill="#8a8a8a"/>
<rect x="374.5" y="598.4" width="16.5" height="6.7" fill="#ebebeb" stroke="#b3b3b3" stroke-width="1.2"/>
<rect x="379.51" y="597.8" width="1.6" height="7.9" fill="#8a8a8a"/>
<rect x="386.86" y="597.8" width="1.6" height="7.9" fill="#8a8a8a"/>
<rect x="401" y="598.4" width="26.9" height="6.7" fill="#ebebeb" stroke="#b3b3b3" stroke-width="1.2"/>
<rect x="406.5" y="597.8" width="1.6" height="7.9" fill="#8a8a8a"/>
<rect x="413.6" y="597.8" width="1.6" height="7.9" fill="#8a8a8a"/>
<rect x="419.95" y="597.8" width="1.6" height="7.9" fill="#8a8a8a"/>
<rect x="439.3" y="598.4" width="107.8" height="6.7" fill="#ebebeb" stroke="#b3b3b3" stroke-width="1.2"/>
<rect x="446.03" y="597.8" width="1.6" height="7.9" fill="#8a8a8a"/>
<rect x="453.54" y="597.8" width="1.6" height="7.9" fill="#8a8a8a"/>
<rect x="459.86" y="597.8" width="1.6" height="7.9" fill="#8a8a8a"/>
<rect x="466.94" y="597.8" width="1.6" height="7.9" fill="#8a8a8a"/>
<rect x="474.38" y="597.8" width="1.6" height="7.9" fill="#8a8a8a"/>
<rect x="480.99" y="597.8" width="1.6" height="7.9" fill="#8a8a8a"/>
<rect x="488.75" y="597.8" width="1.6" height="7.9" fill="#8a8a8a"/>
<rect x="495.73" y="597.8" width="1.6" height="7.9" fill="#8a8a8a"/>
<rect x="503.15" y="597.8" width="1.6" height="7.9" fill="#8a8a8a"/>
<rect x="510.03" y="597.8" width="1.6" height="7.9" fill="#8a8a8a"/>
<rect x="517.97" y="597.8" width="1.6" height="7.9" fill="#8a8a8a"/>
<rect x="525.53" y="597.8" width="1.6" height="7.9" fill="#8a8a8a"/>
<rect x="532.71" y="597.8" width="1.6" height="7.9" fill="#8a8a8a"/>
<rect x="539.12" y="597.8" width="1.6" height="7.9" fill="#8a8a8a"/>
<rect x="221.2" y="597.8" width="1.4" height="7.9" fill="#7c7c7c"/>
<rect x="242.1" y="597.8" width="1.4" height="7.9" fill="#7c7c7c"/>
<rect x="261.7" y="597.8" width="1.4" height="7.9" fill="#7c7c7c"/>
<rect x="279.4" y="597.8" width="1.4" height="7.9" fill="#7c7c7c"/>
<rect x="345" y="597.8" width="1.4" height="7.9" fill="#7c7c7c"/>
<rect x="373.9" y="597.8" width="1.4" height="7.9" fill="#7c7c7c"/>
<rect x="427.1" y="597.8" width="1.4" height="7.9" fill="#7c7c7c"/>
<rect x="438.7" y="597.8" width="1.4" height="7.9" fill="#7c7c7c"/>
<rect x="546.3" y="597.8" width="1.4" height="7.9" fill="#7c7c7c"/>
<line x1="222.6" y1="610.92" x2="242.1" y2="610.92" stroke="#5c5c5c" stroke-width="1.5"/>
<line x1="322" y1="610.92" x2="333.7" y2="610.92" stroke="#5c5c5c" stroke-width="1.5"/>
<line x1="347.4" y1="610.92" x2="373.9" y2="610.92" stroke="#5c5c5c" stroke-width="1.5"/>
<line x1="391.6" y1="610.92" x2="402.4" y2="610.92" stroke="#5c5c5c" stroke-width="1.5"/>
<line x1="428.5" y1="610.92" x2="438.7" y2="610.92" stroke="#5c5c5c" stroke-width="1.5"/>
<line x1="547.7" y1="610.92" x2="655.5" y2="610.92" stroke="#5c5c5c" stroke-width="1.5"/>
<rect x="145.9" y="607.32" width="76.1" height="6.7" fill="#ebebeb" stroke="#b3b3b3" stroke-width="1.2"/>
<rect x="150.42" y="606.72" width="1.6" height="7.9" fill="#8a8a8a"/>
<rect x="157.64" y="606.72" width="1.6" height="7.9" fill="#8a8a8a"/>
<rect x="165.38" y="606.72" width="1.6" height="7.9" fill="#8a8a8a"/>
<rect x="171.85" y="606.72" width="1.6" height="7.9" fill="#8a8a8a"/>
<rect x="178.92" y="606.72" width="1.6" height="7.9" fill="#8a8a8a"/>
<rect x="185.94" y="606.72" width="1.6" height="7.9" fill="#8a8a8a"/>
<rect x="192.82" y="606.72" width="1.6" height="7.9" fill="#8a8a8a"/>
<rect x="200.25" y="606.72" width="1.6" height="7.9" fill="#8a8a8a"/>
<rect x="208.08" y="606.72" width="1.6" height="7.9" fill="#8a8a8a"/>
<rect x="215.5" y="606.72" width="1.6" height="7.9" fill="#8a8a8a"/>
<rect x="242.7" y="607.32" width="27.7" height="6.7" fill="#ebebeb" stroke="#b3b3b3" stroke-width="1.2"/>
<rect x="249.46" y="606.72" width="1.6" height="7.9" fill="#8a8a8a"/>
<rect x="256.2" y="606.72" width="1.6" height="7.9" fill="#8a8a8a"/>
<rect x="263.7" y="606.72" width="1.6" height="7.9" fill="#8a8a8a"/>
<rect x="272.9" y="607.32" width="48.5" height="6.7" fill="#ebebeb" stroke="#b3b3b3" stroke-width="1.2"/>
<rect x="279.18" y="606.72" width="1.6" height="7.9" fill="#8a8a8a"/>
<rect x="286.86" y="606.72" width="1.6" height="7.9" fill="#8a8a8a"/>
<rect x="293.42" y="606.72" width="1.6" height="7.9" fill="#8a8a8a"/>
<rect x="300.68" y="606.72" width="1.6" height="7.9" fill="#8a8a8a"/>
<rect x="307.56" y="606.72" width="1.6" height="7.9" fill="#8a8a8a"/>
<rect x="314.91" y="606.72" width="1.6" height="7.9" fill="#8a8a8a"/>
<rect x="334.3" y="607.32" width="12.5" height="6.7" fill="#ebebeb" stroke="#b3b3b3" stroke-width="1.2"/>
<rect x="340.27" y="606.72" width="1.6" height="7.9" fill="#8a8a8a"/>
<rect x="374.5" y="607.32" width="16.5" height="6.7" fill="#ebebeb" stroke="#b3b3b3" stroke-width="1.2"/>
<rect x="380.06" y="606.72" width="1.6" height="7.9" fill="#8a8a8a"/>
<rect x="387.5" y="606.72" width="1.6" height="7.9" fill="#8a8a8a"/>
<rect x="403" y="607.32" width="24.9" height="6.7" fill="#ebebeb" stroke="#b3b3b3" stroke-width="1.2"/>
<rect x="409.01" y="606.72" width="1.6" height="7.9" fill="#8a8a8a"/>
<rect x="416.63" y="606.72" width="1.6" height="7.9" fill="#8a8a8a"/>
<rect x="422.81" y="606.72" width="1.6" height="7.9" fill="#8a8a8a"/>
<rect x="439.3" y="607.32" width="107.8" height="6.7" fill="#ebebeb" stroke="#b3b3b3" stroke-width="1.2"/>
<rect x="445.5" y="606.72" width="1.6" height="7.9" fill="#8a8a8a"/>
<rect x="452.74" y="606.72" width="1.6" height="7.9" fill="#8a8a8a"/>
<rect x="460.52" y="606.72" width="1.6" height="7.9" fill="#8a8a8a"/>
<rect x="468.26" y="606.72" width="1.6" height="7.9" fill="#8a8a8a"/>
<rect x="474.6" y="606.72" width="1.6" height="7.9" fill="#8a8a8a"/>
<rect x="482.21" y="606.72" width="1.6" height="7.9" fill="#8a8a8a"/>
<rect x="489.74" y="606.72" width="1.6" height="7.9" fill="#8a8a8a"/>
<rect x="496.25" y="606.72" width="1.6" height="7.9" fill="#8a8a8a"/>
<rect x="503.74" y="606.72" width="1.6" height="7.9" fill="#8a8a8a"/>
<rect x="510.95" y="606.72" width="1.6" height="7.9" fill="#8a8a8a"/>
<rect x="517.44" y="606.72" width="1.6" height="7.9" fill="#8a8a8a"/>
<rect x="525.04" y="606.72" width="1.6" height="7.9" fill="#8a8a8a"/>
<rect x="531.44" y="606.72" width="1.6" height="7.9" fill="#8a8a8a"/>
<rect x="538.69" y="606.72" width="1.6" height="7.9" fill="#8a8a8a"/>
<rect x="221.2" y="606.72" width="1.4" height="7.9" fill="#7c7c7c"/>
<rect x="242.1" y="606.72" width="1.4" height="7.9" fill="#7c7c7c"/>
<rect x="320.6" y="606.72" width="1.4" height="7.9" fill="#7c7c7c"/>
<rect x="333.7" y="606.72" width="1.4" height="7.9" fill="#7c7c7c"/>
<rect x="346" y="606.72" width="1.4" height="7.9" fill="#7c7c7c"/>
<rect x="373.9" y="606.72" width="1.4" height="7.9" fill="#7c7c7c"/>
<rect x="390.2" y="606.72" width="1.4" height="7.9" fill="#7c7c7c"/>
<rect x="402.4" y="606.72" width="1.4" height="7.9" fill="#7c7c7c"/>
<rect x="427.1" y="606.72" width="1.4" height="7.9" fill="#7c7c7c"/>
<rect x="438.7" y="606.72" width="1.4" height="7.9" fill="#7c7c7c"/>
<rect x="546.3" y="606.72" width="1.4" height="7.9" fill="#7c7c7c"/>
<line x1="222.6" y1="619.84" x2="242.1" y2="619.84" stroke="#5c5c5c" stroke-width="1.5"/>
<line x1="263.1" y1="619.84" x2="279.4" y2="619.84" stroke="#5c5c5c" stroke-width="1.5"/>
<line x1="346.4" y1="619.84" x2="373.9" y2="619.84" stroke="#5c5c5c" stroke-width="1.5"/>
<line x1="391.6" y1="619.84" x2="402.4" y2="619.84" stroke="#5c5c5c" stroke-width="1.5"/>
<line x1="428.5" y1="619.84" x2="438.7" y2="619.84" stroke="#5c5c5c" stroke-width="1.5"/>
<line x1="547.7" y1="619.84" x2="655.5" y2="619.84" stroke="#5c5c5c" stroke-width="1.5"/>
<rect x="146.2" y="616.24" width="75.8" height="6.7" fill="#ebebeb" stroke="#b3b3b3" stroke-width="1.2"/>
<rect x="151.26" y="615.64" width="1.6" height="7.9" fill="#8a8a8a"/>
<rect x="158.43" y="615.64" width="1.6" height="7.9" fill="#8a8a8a"/>
<rect x="165.42" y="615.64" width="1.6" height="7.9" fill="#8a8a8a"/>
<rect x="171.94" y="615.64" width="1.6" height="7.9" fill="#8a8a8a"/>
<rect x="179.83" y="615.64" width="1.6" height="7.9" fill="#8a8a8a"/>
<rect x="186.11" y="615.64" width="1.6" height="7.9" fill="#8a8a8a"/>
<rect x="192.26" y="615.64" width="1.6" height="7.9" fill="#8a8a8a"/>
<rect x="199.29" y="615.64" width="1.6" height="7.9" fill="#8a8a8a"/>
<rect x="206.95" y="615.64" width="1.6" height="7.9" fill="#8a8a8a"/>
<rect x="214.28" y="615.64" width="1.6" height="7.9" fill="#8a8a8a"/>
<rect x="242.7" y="616.24" width="19.8" height="6.7" fill="#ebebeb" stroke="#b3b3b3" stroke-width="1.2"/>
<rect x="248.31" y="615.64" width="1.6" height="7.9" fill="#8a8a8a"/>
<rect x="255.68" y="615.64" width="1.6" height="7.9" fill="#8a8a8a"/>
<rect x="280" y="616.24" width="41.4" height="6.7" fill="#ebebeb" stroke="#b3b3b3" stroke-width="1.2"/>
<rect x="285.09" y="615.64" width="1.6" height="7.9" fill="#8a8a8a"/>
<rect x="292.15" y="615.64" width="1.6" height="7.9" fill="#8a8a8a"/>
<rect x="298.35" y="615.64" width="1.6" height="7.9" fill="#8a8a8a"/>
<rect x="304.64" y="615.64" width="1.6" height="7.9" fill="#8a8a8a"/>
<rect x="312.15" y="615.64" width="1.6" height="7.9" fill="#8a8a8a"/>
<rect x="318.61" y="615.64" width="1.6" height="7.9" fill="#8a8a8a"/>
<rect x="335.2" y="616.24" width="10.6" height="6.7" fill="#ebebeb" stroke="#b3b3b3" stroke-width="1.2"/>
<rect x="341.53" y="615.64" width="1.6" height="7.9" fill="#8a8a8a"/>
<rect x="374.5" y="616.24" width="16.5" height="6.7" fill="#ebebeb" stroke="#b3b3b3" stroke-width="1.2"/>
<rect x="380.57" y="615.64" width="1.6" height="7.9" fill="#8a8a8a"/>
<rect x="388.14" y="615.64" width="1.6" height="7.9" fill="#8a8a8a"/>
<rect x="403" y="616.24" width="24.9" height="6.7" fill="#ebebeb" stroke="#b3b3b3" stroke-width="1.2"/>
<rect x="407.77" y="615.64" width="1.6" height="7.9" fill="#8a8a8a"/>
<rect x="414.22" y="615.64" width="1.6" height="7.9" fill="#8a8a8a"/>
<rect x="421.05" y="615.64" width="1.6" height="7.9" fill="#8a8a8a"/>
<rect x="439.3" y="616.24" width="107.8" height="6.7" fill="#ebebeb" stroke="#b3b3b3" stroke-width="1.2"/>
<rect x="444.46" y="615.64" width="1.6" height="7.9" fill="#8a8a8a"/>
<rect x="450.63" y="615.64" width="1.6" height="7.9" fill="#8a8a8a"/>
<rect x="457.78" y="615.64" width="1.6" height="7.9" fill="#8a8a8a"/>
<rect x="465.67" y="615.64" width="1.6" height="7.9" fill="#8a8a8a"/>
<rect x="472.48" y="615.64" width="1.6" height="7.9" fill="#8a8a8a"/>
<rect x="479.6" y="615.64" width="1.6" height="7.9" fill="#8a8a8a"/>
<rect x="486.44" y="615.64" width="1.6" height="7.9" fill="#8a8a8a"/>
<rect x="493.38" y="615.64" width="1.6" height="7.9" fill="#8a8a8a"/>
<rect x="501.1" y="615.64" width="1.6" height="7.9" fill="#8a8a8a"/>
<rect x="507.81" y="615.64" width="1.6" height="7.9" fill="#8a8a8a"/>
<rect x="515.12" y="615.64" width="1.6" height="7.9" fill="#8a8a8a"/>
<rect x="522.14" y="615.64" width="1.6" height="7.9" fill="#8a8a8a"/>
<rect x="529.26" y="615.64" width="1.6" height="7.9" fill="#8a8a8a"/>
<rect x="537.06" y="615.64" width="1.6" height="7.9" fill="#8a8a8a"/>
<rect x="543.35" y="615.64" width="1.6" height="7.9" fill="#8a8a8a"/>
<rect x="221.2" y="615.64" width="1.4" height="7.9" fill="#7c7c7c"/>
<rect x="242.1" y="615.64" width="1.4" height="7.9" fill="#7c7c7c"/>
<rect x="261.7" y="615.64" width="1.4" height="7.9" fill="#7c7c7c"/>
<rect x="279.4" y="615.64" width="1.4" height="7.9" fill="#7c7c7c"/>
<rect x="345" y="615.64" width="1.4" height="7.9" fill="#7c7c7c"/>
<rect x="373.9" y="615.64" width="1.4" height="7.9" fill="#7c7c7c"/>
<rect x="390.2" y="615.64" width="1.4" height="7.9" fill="#7c7c7c"/>
<rect x="402.4" y="615.64" width="1.4" height="7.9" fill="#7c7c7c"/>
<rect x="427.1" y="615.64" width="1.4" height="7.9" fill="#7c7c7c"/>
<rect x="438.7" y="615.64" width="1.4" height="7.9" fill="#7c7c7c"/>
<rect x="546.3" y="615.64" width="1.4" height="7.9" fill="#7c7c7c"/>
<line x1="222.6" y1="628.76" x2="242.1" y2="628.76" stroke="#5c5c5c" stroke-width="1.5"/>
<line x1="263.1" y1="628.76" x2="279.4" y2="628.76" stroke="#5c5c5c" stroke-width="1.5"/>
<line x1="322" y1="628.76" x2="333.7" y2="628.76" stroke="#5c5c5c" stroke-width="1.5"/>
<line x1="347.4" y1="628.76" x2="373.9" y2="628.76" stroke="#5c5c5c" stroke-width="1.5"/>
<line x1="391.6" y1="628.76" x2="402.4" y2="628.76" stroke="#5c5c5c" stroke-width="1.5"/>
<line x1="428.5" y1="628.76" x2="438.7" y2="628.76" stroke="#5c5c5c" stroke-width="1.5"/>
<line x1="547.7" y1="628.76" x2="655.5" y2="628.76" stroke="#5c5c5c" stroke-width="1.5"/>
<rect x="146.2" y="625.16" width="75.8" height="6.7" fill="#ebebeb" stroke="#b3b3b3" stroke-width="1.2"/>
<rect x="151.38" y="624.56" width="1.6" height="7.9" fill="#8a8a8a"/>
<rect x="158.69" y="624.56" width="1.6" height="7.9" fill="#8a8a8a"/>
<rect x="166.28" y="624.56" width="1.6" height="7.9" fill="#8a8a8a"/>
<rect x="173.6" y="624.56" width="1.6" height="7.9" fill="#8a8a8a"/>
<rect x="180.46" y="624.56" width="1.6" height="7.9" fill="#8a8a8a"/>
<rect x="188.12" y="624.56" width="1.6" height="7.9" fill="#8a8a8a"/>
<rect x="194.44" y="624.56" width="1.6" height="7.9" fill="#8a8a8a"/>
<rect x="201.73" y="624.56" width="1.6" height="7.9" fill="#8a8a8a"/>
<rect x="208.58" y="624.56" width="1.6" height="7.9" fill="#8a8a8a"/>
<rect x="215.69" y="624.56" width="1.6" height="7.9" fill="#8a8a8a"/>
<rect x="242.7" y="625.16" width="19.8" height="6.7" fill="#ebebeb" stroke="#b3b3b3" stroke-width="1.2"/>
<rect x="249.06" y="624.56" width="1.6" height="7.9" fill="#8a8a8a"/>
<rect x="256.35" y="624.56" width="1.6" height="7.9" fill="#8a8a8a"/>
<rect x="280" y="625.16" width="41.4" height="6.7" fill="#ebebeb" stroke="#b3b3b3" stroke-width="1.2"/>
<rect x="285.01" y="624.56" width="1.6" height="7.9" fill="#8a8a8a"/>
<rect x="291.98" y="624.56" width="1.6" height="7.9" fill="#8a8a8a"/>
<rect x="298.55" y="624.56" width="1.6" height="7.9" fill="#8a8a8a"/>
<rect x="305.2" y="624.56" width="1.6" height="7.9" fill="#8a8a8a"/>
<rect x="313.07" y="624.56" width="1.6" height="7.9" fill="#8a8a8a"/>
<rect x="334.3" y="625.16" width="12.5" height="6.7" fill="#ebebeb" stroke="#b3b3b3" stroke-width="1.2"/>
<rect x="340.71" y="624.56" width="1.6" height="7.9" fill="#8a8a8a"/>
<rect x="374.5" y="625.16" width="16.5" height="6.7" fill="#ebebeb" stroke="#b3b3b3" stroke-width="1.2"/>
<rect x="379.83" y="624.56" width="1.6" height="7.9" fill="#8a8a8a"/>
<rect x="386.55" y="624.56" width="1.6" height="7.9" fill="#8a8a8a"/>
<rect x="403" y="625.16" width="24.9" height="6.7" fill="#ebebeb" stroke="#b3b3b3" stroke-width="1.2"/>
<rect x="408.55" y="624.56" width="1.6" height="7.9" fill="#8a8a8a"/>
<rect x="415" y="624.56" width="1.6" height="7.9" fill="#8a8a8a"/>
<rect x="421.94" y="624.56" width="1.6" height="7.9" fill="#8a8a8a"/>
<rect x="439.3" y="625.16" width="107.8" height="6.7" fill="#ebebeb" stroke="#b3b3b3" stroke-width="1.2"/>
<rect x="445.9" y="624.56" width="1.6" height="7.9" fill="#8a8a8a"/>
<rect x="453.71" y="624.56" width="1.6" height="7.9" fill="#8a8a8a"/>
<rect x="460.65" y="624.56" width="1.6" height="7.9" fill="#8a8a8a"/>
<rect x="467.95" y="624.56" width="1.6" height="7.9" fill="#8a8a8a"/>
<rect x="475.78" y="624.56" width="1.6" height="7.9" fill="#8a8a8a"/>
<rect x="482.51" y="624.56" width="1.6" height="7.9" fill="#8a8a8a"/>
<rect x="488.84" y="624.56" width="1.6" height="7.9" fill="#8a8a8a"/>
<rect x="495.42" y="624.56" width="1.6" height="7.9" fill="#8a8a8a"/>
<rect x="501.91" y="624.56" width="1.6" height="7.9" fill="#8a8a8a"/>
<rect x="509.28" y="624.56" width="1.6" height="7.9" fill="#8a8a8a"/>
<rect x="516.11" y="624.56" width="1.6" height="7.9" fill="#8a8a8a"/>
<rect x="522.9" y="624.56" width="1.6" height="7.9" fill="#8a8a8a"/>
<rect x="530.48" y="624.56" width="1.6" height="7.9" fill="#8a8a8a"/>
<rect x="537.05" y="624.56" width="1.6" height="7.9" fill="#8a8a8a"/>
<rect x="221.2" y="624.56" width="1.4" height="7.9" fill="#7c7c7c"/>
<rect x="242.1" y="624.56" width="1.4" height="7.9" fill="#7c7c7c"/>
<rect x="261.7" y="624.56" width="1.4" height="7.9" fill="#7c7c7c"/>
<rect x="279.4" y="624.56" width="1.4" height="7.9" fill="#7c7c7c"/>
<rect x="320.6" y="624.56" width="1.4" height="7.9" fill="#7c7c7c"/>
<rect x="333.7" y="624.56" width="1.4" height="7.9" fill="#7c7c7c"/>
<rect x="346" y="624.56" width="1.4" height="7.9" fill="#7c7c7c"/>
<rect x="373.9" y="624.56" width="1.4" height="7.9" fill="#7c7c7c"/>
<rect x="390.2" y="624.56" width="1.4" height="7.9" fill="#7c7c7c"/>
<rect x="402.4" y="624.56" width="1.4" height="7.9" fill="#7c7c7c"/>
<rect x="427.1" y="624.56" width="1.4" height="7.9" fill="#7c7c7c"/>
<rect x="438.7" y="624.56" width="1.4" height="7.9" fill="#7c7c7c"/>
<rect x="546.3" y="624.56" width="1.4" height="7.9" fill="#7c7c7c"/>
<line x1="222.6" y1="637.68" x2="242.1" y2="637.68" stroke="#5c5c5c" stroke-width="1.5"/>
<line x1="263.1" y1="637.68" x2="279.4" y2="637.68" stroke="#5c5c5c" stroke-width="1.5"/>
<line x1="322" y1="637.68" x2="333.7" y2="637.68" stroke="#5c5c5c" stroke-width="1.5"/>
<line x1="347.4" y1="637.68" x2="373.9" y2="637.68" stroke="#5c5c5c" stroke-width="1.5"/>
<line x1="391.6" y1="637.68" x2="402.4" y2="637.68" stroke="#5c5c5c" stroke-width="1.5"/>
<line x1="428.5" y1="637.68" x2="438.7" y2="637.68" stroke="#5c5c5c" stroke-width="1.5"/>
<line x1="547.7" y1="637.68" x2="655.5" y2="637.68" stroke="#5c5c5c" stroke-width="1.5"/>
<rect x="146.9" y="634.08" width="75.1" height="6.7" fill="#ebebeb" stroke="#b3b3b3" stroke-width="1.2"/>
<rect x="152.87" y="633.48" width="1.6" height="7.9" fill="#8a8a8a"/>
<rect x="159.74" y="633.48" width="1.6" height="7.9" fill="#8a8a8a"/>
<rect x="167.37" y="633.48" width="1.6" height="7.9" fill="#8a8a8a"/>
<rect x="174.14" y="633.48" width="1.6" height="7.9" fill="#8a8a8a"/>
<rect x="181.87" y="633.48" width="1.6" height="7.9" fill="#8a8a8a"/>
<rect x="189.69" y="633.48" width="1.6" height="7.9" fill="#8a8a8a"/>
<rect x="196.74" y="633.48" width="1.6" height="7.9" fill="#8a8a8a"/>
<rect x="204.13" y="633.48" width="1.6" height="7.9" fill="#8a8a8a"/>
<rect x="211.99" y="633.48" width="1.6" height="7.9" fill="#8a8a8a"/>
<rect x="242.7" y="634.08" width="19.8" height="6.7" fill="#ebebeb" stroke="#b3b3b3" stroke-width="1.2"/>
<rect x="248.95" y="633.48" width="1.6" height="7.9" fill="#8a8a8a"/>
<rect x="256.67" y="633.48" width="1.6" height="7.9" fill="#8a8a8a"/>
<rect x="280" y="634.08" width="41.4" height="6.7" fill="#ebebeb" stroke="#b3b3b3" stroke-width="1.2"/>
<rect x="286.26" y="633.48" width="1.6" height="7.9" fill="#8a8a8a"/>
<rect x="294.17" y="633.48" width="1.6" height="7.9" fill="#8a8a8a"/>
<rect x="300.85" y="633.48" width="1.6" height="7.9" fill="#8a8a8a"/>
<rect x="308.12" y="633.48" width="1.6" height="7.9" fill="#8a8a8a"/>
<rect x="315.47" y="633.48" width="1.6" height="7.9" fill="#8a8a8a"/>
<rect x="334.3" y="634.08" width="12.5" height="6.7" fill="#ebebeb" stroke="#b3b3b3" stroke-width="1.2"/>
<rect x="339.7" y="633.48" width="1.6" height="7.9" fill="#8a8a8a"/>
<rect x="374.5" y="634.08" width="16.5" height="6.7" fill="#ebebeb" stroke="#b3b3b3" stroke-width="1.2"/>
<rect x="381.25" y="633.48" width="1.6" height="7.9" fill="#8a8a8a"/>
<rect x="388.04" y="633.48" width="1.6" height="7.9" fill="#8a8a8a"/>
<rect x="403" y="634.08" width="24.9" height="6.7" fill="#ebebeb" stroke="#b3b3b3" stroke-width="1.2"/>
<rect x="409.59" y="633.48" width="1.6" height="7.9" fill="#8a8a8a"/>
<rect x="416.08" y="633.48" width="1.6" height="7.9" fill="#8a8a8a"/>
<rect x="423.96" y="633.48" width="1.6" height="7.9" fill="#8a8a8a"/>
<rect x="439.3" y="634.08" width="107.8" height="6.7" fill="#ebebeb" stroke="#b3b3b3" stroke-width="1.2"/>
<rect x="443.82" y="633.48" width="1.6" height="7.9" fill="#8a8a8a"/>
<rect x="450.6" y="633.48" width="1.6" height="7.9" fill="#8a8a8a"/>
<rect x="457.4" y="633.48" width="1.6" height="7.9" fill="#8a8a8a"/>
<rect x="465.2" y="633.48" width="1.6" height="7.9" fill="#8a8a8a"/>
<rect x="472.94" y="633.48" width="1.6" height="7.9" fill="#8a8a8a"/>
<rect x="480.46" y="633.48" width="1.6" height="7.9" fill="#8a8a8a"/>
<rect x="487.39" y="633.48" width="1.6" height="7.9" fill="#8a8a8a"/>
<rect x="494.52" y="633.48" width="1.6" height="7.9" fill="#8a8a8a"/>
<rect x="501.1" y="633.48" width="1.6" height="7.9" fill="#8a8a8a"/>
<rect x="508.75" y="633.48" width="1.6" height="7.9" fill="#8a8a8a"/>
<rect x="515.6" y="633.48" width="1.6" height="7.9" fill="#8a8a8a"/>
<rect x="522.26" y="633.48" width="1.6" height="7.9" fill="#8a8a8a"/>
<rect x="529.56" y="633.48" width="1.6" height="7.9" fill="#8a8a8a"/>
<rect x="535.98" y="633.48" width="1.6" height="7.9" fill="#8a8a8a"/>
<rect x="542.7" y="633.48" width="1.6" height="7.9" fill="#8a8a8a"/>
<rect x="221.2" y="633.48" width="1.4" height="7.9" fill="#7c7c7c"/>
<rect x="242.1" y="633.48" width="1.4" height="7.9" fill="#7c7c7c"/>
<rect x="261.7" y="633.48" width="1.4" height="7.9" fill="#7c7c7c"/>
<rect x="279.4" y="633.48" width="1.4" height="7.9" fill="#7c7c7c"/>
<rect x="320.6" y="633.48" width="1.4" height="7.9" fill="#7c7c7c"/>
<rect x="333.7" y="633.48" width="1.4" height="7.9" fill="#7c7c7c"/>
<rect x="346" y="633.48" width="1.4" height="7.9" fill="#7c7c7c"/>
<rect x="373.9" y="633.48" width="1.4" height="7.9" fill="#7c7c7c"/>
<rect x="390.2" y="633.48" width="1.4" height="7.9" fill="#7c7c7c"/>
<rect x="402.4" y="633.48" width="1.4" height="7.9" fill="#7c7c7c"/>
<rect x="427.1" y="633.48" width="1.4" height="7.9" fill="#7c7c7c"/>
<rect x="438.7" y="633.48" width="1.4" height="7.9" fill="#7c7c7c"/>
<rect x="546.3" y="633.48" width="1.4" height="7.9" fill="#7c7c7c"/>
<line x1="222.6" y1="646.6" x2="242.1" y2="646.6" stroke="#5c5c5c" stroke-width="1.5"/>
<line x1="322" y1="646.6" x2="333.7" y2="646.6" stroke="#5c5c5c" stroke-width="1.5"/>
<line x1="347.4" y1="646.6" x2="373.9" y2="646.6" stroke="#5c5c5c" stroke-width="1.5"/>
<line x1="391.6" y1="646.6" x2="402.4" y2="646.6" stroke="#5c5c5c" stroke-width="1.5"/>
<line x1="428.5" y1="646.6" x2="438.7" y2="646.6" stroke="#5c5c5c" stroke-width="1.5"/>
<rect x="147.4" y="643" width="74.6" height="6.7" fill="#ebebeb" stroke="#b3b3b3" stroke-width="1.2"/>
<rect x="152.08" y="642.4" width="1.6" height="7.9" fill="#8a8a8a"/>
<rect x="158.48" y="642.4" width="1.6" height="7.9" fill="#8a8a8a"/>
<rect x="165" y="642.4" width="1.6" height="7.9" fill="#8a8a8a"/>
<rect x="171.6" y="642.4" width="1.6" height="7.9" fill="#8a8a8a"/>
<rect x="178.51" y="642.4" width="1.6" height="7.9" fill="#8a8a8a"/>
<rect x="185.11" y="642.4" width="1.6" height="7.9" fill="#8a8a8a"/>
<rect x="191.88" y="642.4" width="1.6" height="7.9" fill="#8a8a8a"/>
<rect x="198.47" y="642.4" width="1.6" height="7.9" fill="#8a8a8a"/>
<rect x="205.05" y="642.4" width="1.6" height="7.9" fill="#8a8a8a"/>
<rect x="212.3" y="642.4" width="1.6" height="7.9" fill="#8a8a8a"/>
<rect x="219.06" y="642.4" width="1.6" height="7.9" fill="#8a8a8a"/>
<rect x="242.7" y="643" width="27.7" height="6.7" fill="#ebebeb" stroke="#b3b3b3" stroke-width="1.2"/>
<rect x="248.99" y="642.4" width="1.6" height="7.9" fill="#8a8a8a"/>
<rect x="255.25" y="642.4" width="1.6" height="7.9" fill="#8a8a8a"/>
<rect x="261.66" y="642.4" width="1.6" height="7.9" fill="#8a8a8a"/>
<rect x="275.5" y="643" width="45.9" height="6.7" fill="#ebebeb" stroke="#b3b3b3" stroke-width="1.2"/>
<rect x="280.98" y="642.4" width="1.6" height="7.9" fill="#8a8a8a"/>
<rect x="288.53" y="642.4" width="1.6" height="7.9" fill="#8a8a8a"/>
<rect x="294.92" y="642.4" width="1.6" height="7.9" fill="#8a8a8a"/>
<rect x="302.01" y="642.4" width="1.6" height="7.9" fill="#8a8a8a"/>
<rect x="309.69" y="642.4" width="1.6" height="7.9" fill="#8a8a8a"/>
<rect x="316.44" y="642.4" width="1.6" height="7.9" fill="#8a8a8a"/>
<rect x="334.3" y="643" width="12.5" height="6.7" fill="#ebebeb" stroke="#b3b3b3" stroke-width="1.2"/>
<rect x="340.21" y="642.4" width="1.6" height="7.9" fill="#8a8a8a"/>
<rect x="374.5" y="643" width="16.5" height="6.7" fill="#ebebeb" stroke="#b3b3b3" stroke-width="1.2"/>
<rect x="381.34" y="642.4" width="1.6" height="7.9" fill="#8a8a8a"/>
<rect x="388.2" y="642.4" width="1.6" height="7.9" fill="#8a8a8a"/>
<rect x="403" y="643" width="24.9" height="6.7" fill="#ebebeb" stroke="#b3b3b3" stroke-width="1.2"/>
<rect x="408.94" y="642.4" width="1.6" height="7.9" fill="#8a8a8a"/>
<rect x="415.66" y="642.4" width="1.6" height="7.9" fill="#8a8a8a"/>
<rect x="423.31" y="642.4" width="1.6" height="7.9" fill="#8a8a8a"/>
<rect x="439.3" y="643" width="105.6" height="6.7" fill="#ebebeb" stroke="#b3b3b3" stroke-width="1.2"/>
<rect x="445.16" y="642.4" width="1.6" height="7.9" fill="#8a8a8a"/>
<rect x="452.28" y="642.4" width="1.6" height="7.9" fill="#8a8a8a"/>
<rect x="460.2" y="642.4" width="1.6" height="7.9" fill="#8a8a8a"/>
<rect x="468.13" y="642.4" width="1.6" height="7.9" fill="#8a8a8a"/>
<rect x="475.8" y="642.4" width="1.6" height="7.9" fill="#8a8a8a"/>
<rect x="482.77" y="642.4" width="1.6" height="7.9" fill="#8a8a8a"/>
<rect x="489.66" y="642.4" width="1.6" height="7.9" fill="#8a8a8a"/>
<rect x="496.75" y="642.4" width="1.6" height="7.9" fill="#8a8a8a"/>
<rect x="502.98" y="642.4" width="1.6" height="7.9" fill="#8a8a8a"/>
<rect x="509.33" y="642.4" width="1.6" height="7.9" fill="#8a8a8a"/>
<rect x="517.27" y="642.4" width="1.6" height="7.9" fill="#8a8a8a"/>
<rect x="523.65" y="642.4" width="1.6" height="7.9" fill="#8a8a8a"/>
<rect x="531.49" y="642.4" width="1.6" height="7.9" fill="#8a8a8a"/>
<rect x="538.86" y="642.4" width="1.6" height="7.9" fill="#8a8a8a"/>
<rect x="559.6" y="643" width="14.1" height="6.7" fill="#ebebeb" stroke="#b3b3b3" stroke-width="1.2"/>
<rect x="564.24" y="642.4" width="1.6" height="7.9" fill="#8a8a8a"/>
<rect x="570.94" y="642.4" width="1.6" height="7.9" fill="#8a8a8a"/>
<rect x="576.8" y="643" width="11.3" height="6.7" fill="#ebebeb" stroke="#b3b3b3" stroke-width="1.2"/>
<rect x="581.27" y="642.4" width="1.6" height="7.9" fill="#8a8a8a"/>
<rect x="592.2" y="643" width="36.2" height="6.7" fill="#ebebeb" stroke="#b3b3b3" stroke-width="1.2"/>
<rect x="597.49" y="642.4" width="1.6" height="7.9" fill="#8a8a8a"/>
<rect x="603.95" y="642.4" width="1.6" height="7.9" fill="#8a8a8a"/>
<rect x="610.37" y="642.4" width="1.6" height="7.9" fill="#8a8a8a"/>
<rect x="617.72" y="642.4" width="1.6" height="7.9" fill="#8a8a8a"/>
<rect x="624.04" y="642.4" width="1.6" height="7.9" fill="#8a8a8a"/>
<rect x="631.5" y="643" width="21.8" height="6.7" fill="#ebebeb" stroke="#b3b3b3" stroke-width="1.2"/>
<rect x="637.51" y="642.4" width="1.6" height="7.9" fill="#8a8a8a"/>
<rect x="643.75" y="642.4" width="1.6" height="7.9" fill="#8a8a8a"/>
<rect x="221.2" y="642.4" width="1.4" height="7.9" fill="#7c7c7c"/>
<rect x="242.1" y="642.4" width="1.4" height="7.9" fill="#7c7c7c"/>
<rect x="320.6" y="642.4" width="1.4" height="7.9" fill="#7c7c7c"/>
<rect x="333.7" y="642.4" width="1.4" height="7.9" fill="#7c7c7c"/>
<rect x="346" y="642.4" width="1.4" height="7.9" fill="#7c7c7c"/>
<rect x="373.9" y="642.4" width="1.4" height="7.9" fill="#7c7c7c"/>
<rect x="390.2" y="642.4" width="1.4" height="7.9" fill="#7c7c7c"/>
<rect x="402.4" y="642.4" width="1.4" height="7.9" fill="#7c7c7c"/>
<rect x="427.1" y="642.4" width="1.4" height="7.9" fill="#7c7c7c"/>
<rect x="438.7" y="642.4" width="1.4" height="7.9" fill="#7c7c7c"/>
<line x1="222.6" y1="655.52" x2="242.1" y2="655.52" stroke="#5c5c5c" stroke-width="1.5"/>
<line x1="263.1" y1="655.52" x2="279.4" y2="655.52" stroke="#5c5c5c" stroke-width="1.5"/>
<line x1="347.4" y1="655.52" x2="373.9" y2="655.52" stroke="#5c5c5c" stroke-width="1.5"/>
<line x1="391.6" y1="655.52" x2="402.4" y2="655.52" stroke="#5c5c5c" stroke-width="1.5"/>
<line x1="428.5" y1="655.52" x2="438.7" y2="655.52" stroke="#5c5c5c" stroke-width="1.5"/>
<rect x="147.7" y="651.92" width="74.3" height="6.7" fill="#ebebeb" stroke="#b3b3b3" stroke-width="1.2"/>
<rect x="152.73" y="651.32" width="1.6" height="7.9" fill="#8a8a8a"/>
<rect x="159.75" y="651.32" width="1.6" height="7.9" fill="#8a8a8a"/>
<rect x="166.9" y="651.32" width="1.6" height="7.9" fill="#8a8a8a"/>
<rect x="173.3" y="651.32" width="1.6" height="7.9" fill="#8a8a8a"/>
<rect x="180.36" y="651.32" width="1.6" height="7.9" fill="#8a8a8a"/>
<rect x="186.61" y="651.32" width="1.6" height="7.9" fill="#8a8a8a"/>
<rect x="193.12" y="651.32" width="1.6" height="7.9" fill="#8a8a8a"/>
<rect x="200.93" y="651.32" width="1.6" height="7.9" fill="#8a8a8a"/>
<rect x="208.56" y="651.32" width="1.6" height="7.9" fill="#8a8a8a"/>
<rect x="215.65" y="651.32" width="1.6" height="7.9" fill="#8a8a8a"/>
<rect x="242.7" y="651.92" width="19.8" height="6.7" fill="#ebebeb" stroke="#b3b3b3" stroke-width="1.2"/>
<rect x="249.25" y="651.32" width="1.6" height="7.9" fill="#8a8a8a"/>
<rect x="255.65" y="651.32" width="1.6" height="7.9" fill="#8a8a8a"/>
<rect x="280" y="651.92" width="41.4" height="6.7" fill="#ebebeb" stroke="#b3b3b3" stroke-width="1.2"/>
<rect x="284.77" y="651.32" width="1.6" height="7.9" fill="#8a8a8a"/>
<rect x="291.13" y="651.32" width="1.6" height="7.9" fill="#8a8a8a"/>
<rect x="297.47" y="651.32" width="1.6" height="7.9" fill="#8a8a8a"/>
<rect x="304" y="651.32" width="1.6" height="7.9" fill="#8a8a8a"/>
<rect x="310.25" y="651.32" width="1.6" height="7.9" fill="#8a8a8a"/>
<rect x="316.79" y="651.32" width="1.6" height="7.9" fill="#8a8a8a"/>
<rect x="335.2" y="651.92" width="11.6" height="6.7" fill="#ebebeb" stroke="#b3b3b3" stroke-width="1.2"/>
<rect x="341.14" y="651.32" width="1.6" height="7.9" fill="#8a8a8a"/>
<rect x="374.5" y="651.92" width="16.5" height="6.7" fill="#ebebeb" stroke="#b3b3b3" stroke-width="1.2"/>
<rect x="381.12" y="651.32" width="1.6" height="7.9" fill="#8a8a8a"/>
<rect x="403" y="651.92" width="24.9" height="6.7" fill="#ebebeb" stroke="#b3b3b3" stroke-width="1.2"/>
<rect x="408.67" y="651.32" width="1.6" height="7.9" fill="#8a8a8a"/>
<rect x="416.47" y="651.32" width="1.6" height="7.9" fill="#8a8a8a"/>
<rect x="422.91" y="651.32" width="1.6" height="7.9" fill="#8a8a8a"/>
<rect x="439.3" y="651.92" width="106.6" height="6.7" fill="#ebebeb" stroke="#b3b3b3" stroke-width="1.2"/>
<rect x="445.71" y="651.32" width="1.6" height="7.9" fill="#8a8a8a"/>
<rect x="452.99" y="651.32" width="1.6" height="7.9" fill="#8a8a8a"/>
<rect x="459.52" y="651.32" width="1.6" height="7.9" fill="#8a8a8a"/>
<rect x="466.35" y="651.32" width="1.6" height="7.9" fill="#8a8a8a"/>
<rect x="473.03" y="651.32" width="1.6" height="7.9" fill="#8a8a8a"/>
<rect x="479.96" y="651.32" width="1.6" height="7.9" fill="#8a8a8a"/>
<rect x="486.88" y="651.32" width="1.6" height="7.9" fill="#8a8a8a"/>
<rect x="493.75" y="651.32" width="1.6" height="7.9" fill="#8a8a8a"/>
<rect x="501.33" y="651.32" width="1.6" height="7.9" fill="#8a8a8a"/>
<rect x="508.94" y="651.32" width="1.6" height="7.9" fill="#8a8a8a"/>
<rect x="516.11" y="651.32" width="1.6" height="7.9" fill="#8a8a8a"/>
<rect x="523.11" y="651.32" width="1.6" height="7.9" fill="#8a8a8a"/>
<rect x="529.77" y="651.32" width="1.6" height="7.9" fill="#8a8a8a"/>
<rect x="537.3" y="651.32" width="1.6" height="7.9" fill="#8a8a8a"/>
<rect x="559.6" y="651.92" width="6.5" height="6.7" fill="#ebebeb" stroke="#b3b3b3" stroke-width="1.2"/>
<rect x="576.8" y="651.92" width="37.2" height="6.7" fill="#ebebeb" stroke="#b3b3b3" stroke-width="1.2"/>
<rect x="582.94" y="651.32" width="1.6" height="7.9" fill="#8a8a8a"/>
<rect x="590.35" y="651.32" width="1.6" height="7.9" fill="#8a8a8a"/>
<rect x="597.68" y="651.32" width="1.6" height="7.9" fill="#8a8a8a"/>
<rect x="603.89" y="651.32" width="1.6" height="7.9" fill="#8a8a8a"/>
<rect x="611.03" y="651.32" width="1.6" height="7.9" fill="#8a8a8a"/>
<rect x="617.1" y="651.92" width="13.2" height="6.7" fill="#ebebeb" stroke="#b3b3b3" stroke-width="1.2"/>
<rect x="622.02" y="651.32" width="1.6" height="7.9" fill="#8a8a8a"/>
<rect x="635.4" y="651.92" width="14.1" height="6.7" fill="#ebebeb" stroke="#b3b3b3" stroke-width="1.2"/>
<rect x="641.4" y="651.32" width="1.6" height="7.9" fill="#8a8a8a"/>
<rect x="653" y="651.92" width="1.9" height="6.7" fill="#ebebeb" stroke="#b3b3b3" stroke-width="1.2"/>
<rect x="221.2" y="651.32" width="1.4" height="7.9" fill="#7c7c7c"/>
<rect x="242.1" y="651.32" width="1.4" height="7.9" fill="#7c7c7c"/>
<rect x="261.7" y="651.32" width="1.4" height="7.9" fill="#7c7c7c"/>
<rect x="279.4" y="651.32" width="1.4" height="7.9" fill="#7c7c7c"/>
<rect x="346" y="651.32" width="1.4" height="7.9" fill="#7c7c7c"/>
<rect x="373.9" y="651.32" width="1.4" height="7.9" fill="#7c7c7c"/>
<rect x="390.2" y="651.32" width="1.4" height="7.9" fill="#7c7c7c"/>
<rect x="402.4" y="651.32" width="1.4" height="7.9" fill="#7c7c7c"/>
<rect x="427.1" y="651.32" width="1.4" height="7.9" fill="#7c7c7c"/>
<rect x="438.7" y="651.32" width="1.4" height="7.9" fill="#7c7c7c"/>
<line x1="222.6" y1="664.44" x2="242.1" y2="664.44" stroke="#5c5c5c" stroke-width="1.5"/>
<line x1="263.1" y1="664.44" x2="279.4" y2="664.44" stroke="#5c5c5c" stroke-width="1.5"/>
<line x1="322" y1="664.44" x2="333.7" y2="664.44" stroke="#5c5c5c" stroke-width="1.5"/>
<line x1="347.4" y1="664.44" x2="373.9" y2="664.44" stroke="#5c5c5c" stroke-width="1.5"/>
<line x1="391.6" y1="664.44" x2="402.4" y2="664.44" stroke="#5c5c5c" stroke-width="1.5"/>
<line x1="428.5" y1="664.44" x2="438.7" y2="664.44" stroke="#5c5c5c" stroke-width="1.5"/>
<rect x="148" y="660.84" width="74" height="6.7" fill="#ebebeb" stroke="#b3b3b3" stroke-width="1.2"/>
<rect x="154.14" y="660.24" width="1.6" height="7.9" fill="#8a8a8a"/>
<rect x="161.14" y="660.24" width="1.6" height="7.9" fill="#8a8a8a"/>
<rect x="167.38" y="660.24" width="1.6" height="7.9" fill="#8a8a8a"/>
<rect x="174.92" y="660.24" width="1.6" height="7.9" fill="#8a8a8a"/>
<rect x="182.55" y="660.24" width="1.6" height="7.9" fill="#8a8a8a"/>
<rect x="190.2" y="660.24" width="1.6" height="7.9" fill="#8a8a8a"/>
<rect x="197.43" y="660.24" width="1.6" height="7.9" fill="#8a8a8a"/>
<rect x="203.65" y="660.24" width="1.6" height="7.9" fill="#8a8a8a"/>
<rect x="210.15" y="660.24" width="1.6" height="7.9" fill="#8a8a8a"/>
<rect x="216.5" y="660.24" width="1.6" height="7.9" fill="#8a8a8a"/>
<rect x="242.7" y="660.84" width="19.8" height="6.7" fill="#ebebeb" stroke="#b3b3b3" stroke-width="1.2"/>
<rect x="248.46" y="660.24" width="1.6" height="7.9" fill="#8a8a8a"/>
<rect x="254.94" y="660.24" width="1.6" height="7.9" fill="#8a8a8a"/>
<rect x="280" y="660.84" width="41.4" height="6.7" fill="#ebebeb" stroke="#b3b3b3" stroke-width="1.2"/>
<rect x="286.8" y="660.24" width="1.6" height="7.9" fill="#8a8a8a"/>
<rect x="294.57" y="660.24" width="1.6" height="7.9" fill="#8a8a8a"/>
<rect x="301.55" y="660.24" width="1.6" height="7.9" fill="#8a8a8a"/>
<rect x="308.23" y="660.24" width="1.6" height="7.9" fill="#8a8a8a"/>
<rect x="314.75" y="660.24" width="1.6" height="7.9" fill="#8a8a8a"/>
<rect x="334.3" y="660.84" width="12.5" height="6.7" fill="#ebebeb" stroke="#b3b3b3" stroke-width="1.2"/>
<rect x="340.43" y="660.24" width="1.6" height="7.9" fill="#8a8a8a"/>
<rect x="374.5" y="660.84" width="16.5" height="6.7" fill="#ebebeb" stroke="#b3b3b3" stroke-width="1.2"/>
<rect x="381.12" y="660.24" width="1.6" height="7.9" fill="#8a8a8a"/>
<rect x="388.29" y="660.24" width="1.6" height="7.9" fill="#8a8a8a"/>
<rect x="403" y="660.84" width="24.9" height="6.7" fill="#ebebeb" stroke="#b3b3b3" stroke-width="1.2"/>
<rect x="408.45" y="660.24" width="1.6" height="7.9" fill="#8a8a8a"/>
<rect x="415.89" y="660.24" width="1.6" height="7.9" fill="#8a8a8a"/>
<rect x="422.86" y="660.24" width="1.6" height="7.9" fill="#8a8a8a"/>
<rect x="439.3" y="660.84" width="106.6" height="6.7" fill="#ebebeb" stroke="#b3b3b3" stroke-width="1.2"/>
<rect x="444.04" y="660.24" width="1.6" height="7.9" fill="#8a8a8a"/>
<rect x="451.46" y="660.24" width="1.6" height="7.9" fill="#8a8a8a"/>
<rect x="458.1" y="660.24" width="1.6" height="7.9" fill="#8a8a8a"/>
<rect x="465.89" y="660.24" width="1.6" height="7.9" fill="#8a8a8a"/>
<rect x="472.42" y="660.24" width="1.6" height="7.9" fill="#8a8a8a"/>
<rect x="479.17" y="660.24" width="1.6" height="7.9" fill="#8a8a8a"/>
<rect x="486.29" y="660.24" width="1.6" height="7.9" fill="#8a8a8a"/>
<rect x="493.15" y="660.24" width="1.6" height="7.9" fill="#8a8a8a"/>
<rect x="500.24" y="660.24" width="1.6" height="7.9" fill="#8a8a8a"/>
<rect x="508.06" y="660.24" width="1.6" height="7.9" fill="#8a8a8a"/>
<rect x="514.57" y="660.24" width="1.6" height="7.9" fill="#8a8a8a"/>
<rect x="522.11" y="660.24" width="1.6" height="7.9" fill="#8a8a8a"/>
<rect x="529.51" y="660.24" width="1.6" height="7.9" fill="#8a8a8a"/>
<rect x="537.07" y="660.24" width="1.6" height="7.9" fill="#8a8a8a"/>
<rect x="559.6" y="660.84" width="6.5" height="6.7" fill="#ebebeb" stroke="#b3b3b3" stroke-width="1.2"/>
<rect x="577.4" y="660.84" width="22.2" height="6.7" fill="#ebebeb" stroke="#b3b3b3" stroke-width="1.2"/>
<rect x="582.68" y="660.24" width="1.6" height="7.9" fill="#8a8a8a"/>
<rect x="589.68" y="660.24" width="1.6" height="7.9" fill="#8a8a8a"/>
<rect x="596.29" y="660.24" width="1.6" height="7.9" fill="#8a8a8a"/>
<rect x="602.7" y="660.84" width="30.5" height="6.7" fill="#ebebeb" stroke="#b3b3b3" stroke-width="1.2"/>
<rect x="608.29" y="660.24" width="1.6" height="7.9" fill="#8a8a8a"/>
<rect x="614.79" y="660.24" width="1.6" height="7.9" fill="#8a8a8a"/>
<rect x="621.78" y="660.24" width="1.6" height="7.9" fill="#8a8a8a"/>
<rect x="628.97" y="660.24" width="1.6" height="7.9" fill="#8a8a8a"/>
<rect x="635.4" y="660.84" width="15" height="6.7" fill="#ebebeb" stroke="#b3b3b3" stroke-width="1.2"/>
<rect x="640.26" y="660.24" width="1.6" height="7.9" fill="#8a8a8a"/>
<rect x="647.5" y="660.24" width="1.6" height="7.9" fill="#8a8a8a"/>
<rect x="221.2" y="660.24" width="1.4" height="7.9" fill="#7c7c7c"/>
<rect x="242.1" y="660.24" width="1.4" height="7.9" fill="#7c7c7c"/>
<rect x="261.7" y="660.24" width="1.4" height="7.9" fill="#7c7c7c"/>
<rect x="279.4" y="660.24" width="1.4" height="7.9" fill="#7c7c7c"/>
<rect x="320.6" y="660.24" width="1.4" height="7.9" fill="#7c7c7c"/>
<rect x="333.7" y="660.24" width="1.4" height="7.9" fill="#7c7c7c"/>
<rect x="346" y="660.24" width="1.4" height="7.9" fill="#7c7c7c"/>
<rect x="373.9" y="660.24" width="1.4" height="7.9" fill="#7c7c7c"/>
<rect x="390.2" y="660.24" width="1.4" height="7.9" fill="#7c7c7c"/>
<rect x="402.4" y="660.24" width="1.4" height="7.9" fill="#7c7c7c"/>
<rect x="427.1" y="660.24" width="1.4" height="7.9" fill="#7c7c7c"/>
<rect x="438.7" y="660.24" width="1.4" height="7.9" fill="#7c7c7c"/>
<line x1="222.6" y1="673.36" x2="242.1" y2="673.36" stroke="#5c5c5c" stroke-width="1.5"/>
<line x1="263.1" y1="673.36" x2="279.4" y2="673.36" stroke="#5c5c5c" stroke-width="1.5"/>
<line x1="322" y1="673.36" x2="333.7" y2="673.36" stroke="#5c5c5c" stroke-width="1.5"/>
<line x1="347.4" y1="673.36" x2="373.9" y2="673.36" stroke="#5c5c5c" stroke-width="1.5"/>
<line x1="391.6" y1="673.36" x2="402.4" y2="673.36" stroke="#5c5c5c" stroke-width="1.5"/>
<rect x="148" y="669.76" width="74" height="6.7" fill="#ebebeb" stroke="#b3b3b3" stroke-width="1.2"/>
<rect x="152.98" y="669.16" width="1.6" height="7.9" fill="#8a8a8a"/>
<rect x="160.24" y="669.16" width="1.6" height="7.9" fill="#8a8a8a"/>
<rect x="167.58" y="669.16" width="1.6" height="7.9" fill="#8a8a8a"/>
<rect x="175.32" y="669.16" width="1.6" height="7.9" fill="#8a8a8a"/>
<rect x="182.7" y="669.16" width="1.6" height="7.9" fill="#8a8a8a"/>
<rect x="189.4" y="669.16" width="1.6" height="7.9" fill="#8a8a8a"/>
<rect x="195.93" y="669.16" width="1.6" height="7.9" fill="#8a8a8a"/>
<rect x="203.58" y="669.16" width="1.6" height="7.9" fill="#8a8a8a"/>
<rect x="210.27" y="669.16" width="1.6" height="7.9" fill="#8a8a8a"/>
<rect x="216.44" y="669.16" width="1.6" height="7.9" fill="#8a8a8a"/>
<rect x="242.7" y="669.76" width="19.8" height="6.7" fill="#ebebeb" stroke="#b3b3b3" stroke-width="1.2"/>
<rect x="247.62" y="669.16" width="1.6" height="7.9" fill="#8a8a8a"/>
<rect x="254.34" y="669.16" width="1.6" height="7.9" fill="#8a8a8a"/>
<rect x="280" y="669.76" width="41.4" height="6.7" fill="#ebebeb" stroke="#b3b3b3" stroke-width="1.2"/>
<rect x="285.06" y="669.16" width="1.6" height="7.9" fill="#8a8a8a"/>
<rect x="292.52" y="669.16" width="1.6" height="7.9" fill="#8a8a8a"/>
<rect x="299.28" y="669.16" width="1.6" height="7.9" fill="#8a8a8a"/>
<rect x="306.23" y="669.16" width="1.6" height="7.9" fill="#8a8a8a"/>
<rect x="313.13" y="669.16" width="1.6" height="7.9" fill="#8a8a8a"/>
<rect x="334.3" y="669.76" width="12.5" height="6.7" fill="#ebebeb" stroke="#b3b3b3" stroke-width="1.2"/>
<rect x="338.79" y="669.16" width="1.6" height="7.9" fill="#8a8a8a"/>
<rect x="374.5" y="669.76" width="16.5" height="6.7" fill="#ebebeb" stroke="#b3b3b3" stroke-width="1.2"/>
<rect x="379.27" y="669.16" width="1.6" height="7.9" fill="#8a8a8a"/>
<rect x="385.69" y="669.16" width="1.6" height="7.9" fill="#8a8a8a"/>
<rect x="403" y="669.76" width="24.9" height="6.7" fill="#ebebeb" stroke="#b3b3b3" stroke-width="1.2"/>
<rect x="408.35" y="669.16" width="1.6" height="7.9" fill="#8a8a8a"/>
<rect x="414.62" y="669.16" width="1.6" height="7.9" fill="#8a8a8a"/>
<rect x="421.83" y="669.16" width="1.6" height="7.9" fill="#8a8a8a"/>
<rect x="437.8" y="669.76" width="108.1" height="6.7" fill="#ebebeb" stroke="#b3b3b3" stroke-width="1.2"/>
<rect x="443.8" y="669.16" width="1.6" height="7.9" fill="#8a8a8a"/>
<rect x="450.84" y="669.16" width="1.6" height="7.9" fill="#8a8a8a"/>
<rect x="458.43" y="669.16" width="1.6" height="7.9" fill="#8a8a8a"/>
<rect x="466.23" y="669.16" width="1.6" height="7.9" fill="#8a8a8a"/>
<rect x="472.65" y="669.16" width="1.6" height="7.9" fill="#8a8a8a"/>
<rect x="479.34" y="669.16" width="1.6" height="7.9" fill="#8a8a8a"/>
<rect x="487.23" y="669.16" width="1.6" height="7.9" fill="#8a8a8a"/>
<rect x="495.04" y="669.16" width="1.6" height="7.9" fill="#8a8a8a"/>
<rect x="501.56" y="669.16" width="1.6" height="7.9" fill="#8a8a8a"/>
<rect x="508.98" y="669.16" width="1.6" height="7.9" fill="#8a8a8a"/>
<rect x="516.7" y="669.16" width="1.6" height="7.9" fill="#8a8a8a"/>
<rect x="523.91" y="669.16" width="1.6" height="7.9" fill="#8a8a8a"/>
<rect x="531.33" y="669.16" width="1.6" height="7.9" fill="#8a8a8a"/>
<rect x="538.42" y="669.16" width="1.6" height="7.9" fill="#8a8a8a"/>
<rect x="562.1" y="669.76" width="6.4" height="6.7" fill="#ebebeb" stroke="#b3b3b3" stroke-width="1.2"/>
<rect x="581.3" y="669.76" width="6.4" height="6.7" fill="#ebebeb" stroke="#b3b3b3" stroke-width="1.2"/>
<rect x="593.1" y="669.76" width="5.6" height="6.7" fill="#ebebeb" stroke="#b3b3b3" stroke-width="1.2"/>
<rect x="602.7" y="669.76" width="40.1" height="6.7" fill="#ebebeb" stroke="#b3b3b3" stroke-width="1.2"/>
<rect x="607.48" y="669.16" width="1.6" height="7.9" fill="#8a8a8a"/>
<rect x="614.75" y="669.16" width="1.6" height="7.9" fill="#8a8a8a"/>
<rect x="621.6" y="669.16" width="1.6" height="7.9" fill="#8a8a8a"/>
<rect x="628.54" y="669.16" width="1.6" height="7.9" fill="#8a8a8a"/>
<rect x="636.44" y="669.16" width="1.6" height="7.9" fill="#8a8a8a"/>
<rect x="648.8" y="669.76" width="6.1" height="6.7" fill="#ebebeb" stroke="#b3b3b3" stroke-width="1.2"/>
<rect x="221.2" y="669.16" width="1.4" height="7.9" fill="#7c7c7c"/>
<rect x="242.1" y="669.16" width="1.4" height="7.9" fill="#7c7c7c"/>
<rect x="261.7" y="669.16" width="1.4" height="7.9" fill="#7c7c7c"/>
<rect x="279.4" y="669.16" width="1.4" height="7.9" fill="#7c7c7c"/>
<rect x="320.6" y="669.16" width="1.4" height="7.9" fill="#7c7c7c"/>
<rect x="333.7" y="669.16" width="1.4" height="7.9" fill="#7c7c7c"/>
<rect x="346" y="669.16" width="1.4" height="7.9" fill="#7c7c7c"/>
<rect x="373.9" y="669.16" width="1.4" height="7.9" fill="#7c7c7c"/>
<rect x="390.2" y="669.16" width="1.4" height="7.9" fill="#7c7c7c"/>
<rect x="402.4" y="669.16" width="1.4" height="7.9" fill="#7c7c7c"/>
<line x1="222.6" y1="682.28" x2="242.5" y2="682.28" stroke="#5c5c5c" stroke-width="1.5"/>
<line x1="322" y1="682.28" x2="333.7" y2="682.28" stroke="#5c5c5c" stroke-width="1.5"/>
<line x1="347.4" y1="682.28" x2="373.9" y2="682.28" stroke="#5c5c5c" stroke-width="1.5"/>
<line x1="428.5" y1="682.28" x2="438.7" y2="682.28" stroke="#5c5c5c" stroke-width="1.5"/>
<line x1="547.7" y1="682.28" x2="655.5" y2="682.28" stroke="#5c5c5c" stroke-width="1.5"/>
<rect x="148" y="678.68" width="74" height="6.7" fill="#ebebeb" stroke="#b3b3b3" stroke-width="1.2"/>
<rect x="153.36" y="678.08" width="1.6" height="7.9" fill="#8a8a8a"/>
<rect x="159.9" y="678.08" width="1.6" height="7.9" fill="#8a8a8a"/>
<rect x="166.45" y="678.08" width="1.6" height="7.9" fill="#8a8a8a"/>
<rect x="173.56" y="678.08" width="1.6" height="7.9" fill="#8a8a8a"/>
<rect x="181.18" y="678.08" width="1.6" height="7.9" fill="#8a8a8a"/>
<rect x="187.5" y="678.08" width="1.6" height="7.9" fill="#8a8a8a"/>
<rect x="195.35" y="678.08" width="1.6" height="7.9" fill="#8a8a8a"/>
<rect x="202.71" y="678.08" width="1.6" height="7.9" fill="#8a8a8a"/>
<rect x="208.96" y="678.08" width="1.6" height="7.9" fill="#8a8a8a"/>
<rect x="216.38" y="678.08" width="1.6" height="7.9" fill="#8a8a8a"/>
<rect x="243.1" y="678.68" width="19.4" height="6.7" fill="#ebebeb" stroke="#b3b3b3" stroke-width="1.2"/>
<rect x="248.79" y="678.08" width="1.6" height="7.9" fill="#8a8a8a"/>
<rect x="255.12" y="678.08" width="1.6" height="7.9" fill="#8a8a8a"/>
<rect x="266.6" y="678.68" width="6.7" height="6.7" fill="#ebebeb" stroke="#b3b3b3" stroke-width="1.2"/>
<rect x="280" y="678.68" width="41.4" height="6.7" fill="#ebebeb" stroke="#b3b3b3" stroke-width="1.2"/>
<rect x="286.33" y="678.08" width="1.6" height="7.9" fill="#8a8a8a"/>
<rect x="293.52" y="678.08" width="1.6" height="7.9" fill="#8a8a8a"/>
<rect x="300.94" y="678.08" width="1.6" height="7.9" fill="#8a8a8a"/>
<rect x="308.41" y="678.08" width="1.6" height="7.9" fill="#8a8a8a"/>
<rect x="314.96" y="678.08" width="1.6" height="7.9" fill="#8a8a8a"/>
<rect x="334.3" y="678.68" width="12.5" height="6.7" fill="#ebebeb" stroke="#b3b3b3" stroke-width="1.2"/>
<rect x="339.9" y="678.08" width="1.6" height="7.9" fill="#8a8a8a"/>
<rect x="374.5" y="678.68" width="16.5" height="6.7" fill="#ebebeb" stroke="#b3b3b3" stroke-width="1.2"/>
<rect x="379.29" y="678.08" width="1.6" height="7.9" fill="#8a8a8a"/>
<rect x="386.02" y="678.08" width="1.6" height="7.9" fill="#8a8a8a"/>
<rect x="403" y="678.68" width="24.9" height="6.7" fill="#ebebeb" stroke="#b3b3b3" stroke-width="1.2"/>
<rect x="408.93" y="678.08" width="1.6" height="7.9" fill="#8a8a8a"/>
<rect x="416.24" y="678.08" width="1.6" height="7.9" fill="#8a8a8a"/>
<rect x="424.09" y="678.08" width="1.6" height="7.9" fill="#8a8a8a"/>
<rect x="439.3" y="678.68" width="107.8" height="6.7" fill="#ebebeb" stroke="#b3b3b3" stroke-width="1.2"/>
<rect x="445.09" y="678.08" width="1.6" height="7.9" fill="#8a8a8a"/>
<rect x="451.39" y="678.08" width="1.6" height="7.9" fill="#8a8a8a"/>
<rect x="458.75" y="678.08" width="1.6" height="7.9" fill="#8a8a8a"/>
<rect x="465.69" y="678.08" width="1.6" height="7.9" fill="#8a8a8a"/>
<rect x="472.09" y="678.08" width="1.6" height="7.9" fill="#8a8a8a"/>
<rect x="478.8" y="678.08" width="1.6" height="7.9" fill="#8a8a8a"/>
<rect x="486.14" y="678.08" width="1.6" height="7.9" fill="#8a8a8a"/>
<rect x="493.14" y="678.08" width="1.6" height="7.9" fill="#8a8a8a"/>
<rect x="500.99" y="678.08" width="1.6" height="7.9" fill="#8a8a8a"/>
<rect x="507.78" y="678.08" width="1.6" height="7.9" fill="#8a8a8a"/>
<rect x="514.54" y="678.08" width="1.6" height="7.9" fill="#8a8a8a"/>
<rect x="522.35" y="678.08" width="1.6" height="7.9" fill="#8a8a8a"/>
<rect x="529.59" y="678.08" width="1.6" height="7.9" fill="#8a8a8a"/>
<rect x="535.94" y="678.08" width="1.6" height="7.9" fill="#8a8a8a"/>
<rect x="543.5" y="678.08" width="1.6" height="7.9" fill="#8a8a8a"/>
<rect x="221.2" y="678.08" width="1.4" height="7.9" fill="#7c7c7c"/>
<rect x="242.5" y="678.08" width="1.4" height="7.9" fill="#7c7c7c"/>
<rect x="320.6" y="678.08" width="1.4" height="7.9" fill="#7c7c7c"/>
<rect x="333.7" y="678.08" width="1.4" height="7.9" fill="#7c7c7c"/>
<rect x="346" y="678.08" width="1.4" height="7.9" fill="#7c7c7c"/>
<rect x="373.9" y="678.08" width="1.4" height="7.9" fill="#7c7c7c"/>
<rect x="427.1" y="678.08" width="1.4" height="7.9" fill="#7c7c7c"/>
<rect x="438.7" y="678.08" width="1.4" height="7.9" fill="#7c7c7c"/>
<rect x="546.3" y="678.08" width="1.4" height="7.9" fill="#7c7c7c"/>
<line x1="222.6" y1="691.2" x2="242.5" y2="691.2" stroke="#5c5c5c" stroke-width="1.5"/>
<line x1="322" y1="691.2" x2="333.7" y2="691.2" stroke="#5c5c5c" stroke-width="1.5"/>
<line x1="347.4" y1="691.2" x2="373.9" y2="691.2" stroke="#5c5c5c" stroke-width="1.5"/>
<line x1="428.5" y1="691.2" x2="438.7" y2="691.2" stroke="#5c5c5c" stroke-width="1.5"/>
<rect x="148" y="687.6" width="74" height="6.7" fill="#ebebeb" stroke="#b3b3b3" stroke-width="1.2"/>
<rect x="154.72" y="687" width="1.6" height="7.9" fill="#8a8a8a"/>
<rect x="162.02" y="687" width="1.6" height="7.9" fill="#8a8a8a"/>
<rect x="169.62" y="687" width="1.6" height="7.9" fill="#8a8a8a"/>
<rect x="177.38" y="687" width="1.6" height="7.9" fill="#8a8a8a"/>
<rect x="184.45" y="687" width="1.6" height="7.9" fill="#8a8a8a"/>
<rect x="192.34" y="687" width="1.6" height="7.9" fill="#8a8a8a"/>
<rect x="198.53" y="687" width="1.6" height="7.9" fill="#8a8a8a"/>
<rect x="205.3" y="687" width="1.6" height="7.9" fill="#8a8a8a"/>
<rect x="212.95" y="687" width="1.6" height="7.9" fill="#8a8a8a"/>
<rect x="219.12" y="687" width="1.6" height="7.9" fill="#8a8a8a"/>
<rect x="243.1" y="687.6" width="20.3" height="6.7" fill="#ebebeb" stroke="#b3b3b3" stroke-width="1.2"/>
<rect x="249.95" y="687" width="1.6" height="7.9" fill="#8a8a8a"/>
<rect x="257.39" y="687" width="1.6" height="7.9" fill="#8a8a8a"/>
<rect x="267.6" y="687.6" width="5.7" height="6.7" fill="#ebebeb" stroke="#b3b3b3" stroke-width="1.2"/>
<rect x="280" y="687.6" width="41.4" height="6.7" fill="#ebebeb" stroke="#b3b3b3" stroke-width="1.2"/>
<rect x="285.75" y="687" width="1.6" height="7.9" fill="#8a8a8a"/>
<rect x="292.99" y="687" width="1.6" height="7.9" fill="#8a8a8a"/>
<rect x="299.93" y="687" width="1.6" height="7.9" fill="#8a8a8a"/>
<rect x="306.83" y="687" width="1.6" height="7.9" fill="#8a8a8a"/>
<rect x="314.41" y="687" width="1.6" height="7.9" fill="#8a8a8a"/>
<rect x="334.3" y="687.6" width="12.5" height="6.7" fill="#ebebeb" stroke="#b3b3b3" stroke-width="1.2"/>
<rect x="338.86" y="687" width="1.6" height="7.9" fill="#8a8a8a"/>
<rect x="374.5" y="687.6" width="16.5" height="6.7" fill="#ebebeb" stroke="#b3b3b3" stroke-width="1.2"/>
<rect x="381.27" y="687" width="1.6" height="7.9" fill="#8a8a8a"/>
<rect x="403" y="687.6" width="24.9" height="6.7" fill="#ebebeb" stroke="#b3b3b3" stroke-width="1.2"/>
<rect x="409.07" y="687" width="1.6" height="7.9" fill="#8a8a8a"/>
<rect x="415.75" y="687" width="1.6" height="7.9" fill="#8a8a8a"/>
<rect x="423.52" y="687" width="1.6" height="7.9" fill="#8a8a8a"/>
<rect x="439.3" y="687.6" width="106.6" height="6.7" fill="#ebebeb" stroke="#b3b3b3" stroke-width="1.2"/>
<rect x="444.34" y="687" width="1.6" height="7.9" fill="#8a8a8a"/>
<rect x="451.91" y="687" width="1.6" height="7.9" fill="#8a8a8a"/>
<rect x="459.67" y="687" width="1.6" height="7.9" fill="#8a8a8a"/>
<rect x="466.55" y="687" width="1.6" height="7.9" fill="#8a8a8a"/>
<rect x="474.33" y="687" width="1.6" height="7.9" fill="#8a8a8a"/>
<rect x="480.68" y="687" width="1.6" height="7.9" fill="#8a8a8a"/>
<rect x="487.91" y="687" width="1.6" height="7.9" fill="#8a8a8a"/>
<rect x="494.18" y="687" width="1.6" height="7.9" fill="#8a8a8a"/>
<rect x="500.75" y="687" width="1.6" height="7.9" fill="#8a8a8a"/>
<rect x="507.24" y="687" width="1.6" height="7.9" fill="#8a8a8a"/>
<rect x="513.4" y="687" width="1.6" height="7.9" fill="#8a8a8a"/>
<rect x="520.28" y="687" width="1.6" height="7.9" fill="#8a8a8a"/>
<rect x="527.33" y="687" width="1.6" height="7.9" fill="#8a8a8a"/>
<rect x="533.99" y="687" width="1.6" height="7.9" fill="#8a8a8a"/>
<rect x="541.31" y="687" width="1.6" height="7.9" fill="#8a8a8a"/>
<rect x="565.9" y="687.6" width="6.9" height="6.7" fill="#ebebeb" stroke="#b3b3b3" stroke-width="1.2"/>
<rect x="581.3" y="687.6" width="6.4" height="6.7" fill="#ebebeb" stroke="#b3b3b3" stroke-width="1.2"/>
<rect x="593.1" y="687.6" width="6.5" height="6.7" fill="#ebebeb" stroke="#b3b3b3" stroke-width="1.2"/>
<rect x="603.7" y="687.6" width="14.1" height="6.7" fill="#ebebeb" stroke="#b3b3b3" stroke-width="1.2"/>
<rect x="610.35" y="687" width="1.6" height="7.9" fill="#8a8a8a"/>
<rect x="621" y="687.6" width="12.8" height="6.7" fill="#ebebeb" stroke="#b3b3b3" stroke-width="1.2"/>
<rect x="626.47" y="687" width="1.6" height="7.9" fill="#8a8a8a"/>
<rect x="221.2" y="687" width="1.4" height="7.9" fill="#7c7c7c"/>
<rect x="242.5" y="687" width="1.4" height="7.9" fill="#7c7c7c"/>
<rect x="320.6" y="687" width="1.4" height="7.9" fill="#7c7c7c"/>
<rect x="333.7" y="687" width="1.4" height="7.9" fill="#7c7c7c"/>
<rect x="346" y="687" width="1.4" height="7.9" fill="#7c7c7c"/>
<rect x="373.9" y="687" width="1.4" height="7.9" fill="#7c7c7c"/>
<rect x="427.1" y="687" width="1.4" height="7.9" fill="#7c7c7c"/>
<rect x="438.7" y="687" width="1.4" height="7.9" fill="#7c7c7c"/>
<line x1="222.6" y1="700.12" x2="242.1" y2="700.12" stroke="#5c5c5c" stroke-width="1.5"/>
<line x1="263.1" y1="700.12" x2="279.4" y2="700.12" stroke="#5c5c5c" stroke-width="1.5"/>
<line x1="322" y1="700.12" x2="333.7" y2="700.12" stroke="#5c5c5c" stroke-width="1.5"/>
<line x1="390.6" y1="700.12" x2="402.4" y2="700.12" stroke="#5c5c5c" stroke-width="1.5"/>
<line x1="428.5" y1="700.12" x2="438.7" y2="700.12" stroke="#5c5c5c" stroke-width="1.5"/>
<rect x="150.8" y="696.52" width="71.2" height="6.7" fill="#ebebeb" stroke="#b3b3b3" stroke-width="1.2"/>
<rect x="156.14" y="695.92" width="1.6" height="7.9" fill="#8a8a8a"/>
<rect x="164.05" y="695.92" width="1.6" height="7.9" fill="#8a8a8a"/>
<rect x="171.23" y="695.92" width="1.6" height="7.9" fill="#8a8a8a"/>
<rect x="178.31" y="695.92" width="1.6" height="7.9" fill="#8a8a8a"/>
<rect x="185.25" y="695.92" width="1.6" height="7.9" fill="#8a8a8a"/>
<rect x="192.19" y="695.92" width="1.6" height="7.9" fill="#8a8a8a"/>
<rect x="200.05" y="695.92" width="1.6" height="7.9" fill="#8a8a8a"/>
<rect x="207.64" y="695.92" width="1.6" height="7.9" fill="#8a8a8a"/>
<rect x="214.95" y="695.92" width="1.6" height="7.9" fill="#8a8a8a"/>
<rect x="242.7" y="696.52" width="19.8" height="6.7" fill="#ebebeb" stroke="#b3b3b3" stroke-width="1.2"/>
<rect x="248.58" y="695.92" width="1.6" height="7.9" fill="#8a8a8a"/>
<rect x="254.96" y="695.92" width="1.6" height="7.9" fill="#8a8a8a"/>
<rect x="280" y="696.52" width="41.4" height="6.7" fill="#ebebeb" stroke="#b3b3b3" stroke-width="1.2"/>
<rect x="284.51" y="695.92" width="1.6" height="7.9" fill="#8a8a8a"/>
<rect x="291.92" y="695.92" width="1.6" height="7.9" fill="#8a8a8a"/>
<rect x="299.83" y="695.92" width="1.6" height="7.9" fill="#8a8a8a"/>
<rect x="307.13" y="695.92" width="1.6" height="7.9" fill="#8a8a8a"/>
<rect x="314.31" y="695.92" width="1.6" height="7.9" fill="#8a8a8a"/>
<rect x="334.3" y="696.52" width="11.5" height="6.7" fill="#ebebeb" stroke="#b3b3b3" stroke-width="1.2"/>
<rect x="339.81" y="695.92" width="1.6" height="7.9" fill="#8a8a8a"/>
<rect x="374.5" y="696.52" width="15.5" height="6.7" fill="#ebebeb" stroke="#b3b3b3" stroke-width="1.2"/>
<rect x="379.97" y="695.92" width="1.6" height="7.9" fill="#8a8a8a"/>
<rect x="386.6" y="695.92" width="1.6" height="7.9" fill="#8a8a8a"/>
<rect x="403" y="696.52" width="24.9" height="6.7" fill="#ebebeb" stroke="#b3b3b3" stroke-width="1.2"/>
<rect x="409.25" y="695.92" width="1.6" height="7.9" fill="#8a8a8a"/>
<rect x="417.12" y="695.92" width="1.6" height="7.9" fill="#8a8a8a"/>
<rect x="424.74" y="695.92" width="1.6" height="7.9" fill="#8a8a8a"/>
<rect x="439.3" y="696.52" width="106.6" height="6.7" fill="#ebebeb" stroke="#b3b3b3" stroke-width="1.2"/>
<rect x="443.82" y="695.92" width="1.6" height="7.9" fill="#8a8a8a"/>
<rect x="450.51" y="695.92" width="1.6" height="7.9" fill="#8a8a8a"/>
<rect x="458.17" y="695.92" width="1.6" height="7.9" fill="#8a8a8a"/>
<rect x="466.07" y="695.92" width="1.6" height="7.9" fill="#8a8a8a"/>
<rect x="473.21" y="695.92" width="1.6" height="7.9" fill="#8a8a8a"/>
<rect x="480.38" y="695.92" width="1.6" height="7.9" fill="#8a8a8a"/>
<rect x="487.77" y="695.92" width="1.6" height="7.9" fill="#8a8a8a"/>
<rect x="494.36" y="695.92" width="1.6" height="7.9" fill="#8a8a8a"/>
<rect x="501.8" y="695.92" width="1.6" height="7.9" fill="#8a8a8a"/>
<rect x="508.6" y="695.92" width="1.6" height="7.9" fill="#8a8a8a"/>
<rect x="516.28" y="695.92" width="1.6" height="7.9" fill="#8a8a8a"/>
<rect x="523.26" y="695.92" width="1.6" height="7.9" fill="#8a8a8a"/>
<rect x="530.6" y="695.92" width="1.6" height="7.9" fill="#8a8a8a"/>
<rect x="537.75" y="695.92" width="1.6" height="7.9" fill="#8a8a8a"/>
<rect x="565.9" y="696.52" width="6.9" height="6.7" fill="#ebebeb" stroke="#b3b3b3" stroke-width="1.2"/>
<rect x="584.5" y="696.52" width="6.5" height="6.7" fill="#ebebeb" stroke="#b3b3b3" stroke-width="1.2"/>
<rect x="594.1" y="696.52" width="6.5" height="6.7" fill="#ebebeb" stroke="#b3b3b3" stroke-width="1.2"/>
<rect x="609.5" y="696.52" width="6.4" height="6.7" fill="#ebebeb" stroke="#b3b3b3" stroke-width="1.2"/>
<rect x="622.9" y="696.52" width="6.5" height="6.7" fill="#ebebeb" stroke="#b3b3b3" stroke-width="1.2"/>
<rect x="221.2" y="695.92" width="1.4" height="7.9" fill="#7c7c7c"/>
<rect x="242.1" y="695.92" width="1.4" height="7.9" fill="#7c7c7c"/>
<rect x="261.7" y="695.92" width="1.4" height="7.9" fill="#7c7c7c"/>
<rect x="279.4" y="695.92" width="1.4" height="7.9" fill="#7c7c7c"/>
<rect x="320.6" y="695.92" width="1.4" height="7.9" fill="#7c7c7c"/>
<rect x="333.7" y="695.92" width="1.4" height="7.9" fill="#7c7c7c"/>
<rect x="389.2" y="695.92" width="1.4" height="7.9" fill="#7c7c7c"/>
<rect x="402.4" y="695.92" width="1.4" height="7.9" fill="#7c7c7c"/>
<rect x="427.1" y="695.92" width="1.4" height="7.9" fill="#7c7c7c"/>
<rect x="438.7" y="695.92" width="1.4" height="7.9" fill="#7c7c7c"/>
<line x1="222.6" y1="709.04" x2="242.1" y2="709.04" stroke="#5c5c5c" stroke-width="1.5"/>
<line x1="263.1" y1="709.04" x2="279.4" y2="709.04" stroke="#5c5c5c" stroke-width="1.5"/>
<line x1="322" y1="709.04" x2="333.7" y2="709.04" stroke="#5c5c5c" stroke-width="1.5"/>
<line x1="347.4" y1="709.04" x2="373.9" y2="709.04" stroke="#5c5c5c" stroke-width="1.5"/>
<line x1="391.6" y1="709.04" x2="402.4" y2="709.04" stroke="#5c5c5c" stroke-width="1.5"/>
<line x1="428.5" y1="709.04" x2="438.7" y2="709.04" stroke="#5c5c5c" stroke-width="1.5"/>
<line x1="547.7" y1="709.04" x2="655.5" y2="709.04" stroke="#5c5c5c" stroke-width="1.5"/>
<rect x="150.8" y="705.44" width="71.2" height="6.7" fill="#ebebeb" stroke="#b3b3b3" stroke-width="1.2"/>
<rect x="157.4" y="704.84" width="1.6" height="7.9" fill="#8a8a8a"/>
<rect x="164.9" y="704.84" width="1.6" height="7.9" fill="#8a8a8a"/>
<rect x="172.22" y="704.84" width="1.6" height="7.9" fill="#8a8a8a"/>
<rect x="180.1" y="704.84" width="1.6" height="7.9" fill="#8a8a8a"/>
<rect x="186.46" y="704.84" width="1.6" height="7.9" fill="#8a8a8a"/>
<rect x="193.69" y="704.84" width="1.6" height="7.9" fill="#8a8a8a"/>
<rect x="200.96" y="704.84" width="1.6" height="7.9" fill="#8a8a8a"/>
<rect x="207.93" y="704.84" width="1.6" height="7.9" fill="#8a8a8a"/>
<rect x="215.81" y="704.84" width="1.6" height="7.9" fill="#8a8a8a"/>
<rect x="242.7" y="705.44" width="19.8" height="6.7" fill="#ebebeb" stroke="#b3b3b3" stroke-width="1.2"/>
<rect x="248.09" y="704.84" width="1.6" height="7.9" fill="#8a8a8a"/>
<rect x="255.35" y="704.84" width="1.6" height="7.9" fill="#8a8a8a"/>
<rect x="280" y="705.44" width="41.4" height="6.7" fill="#ebebeb" stroke="#b3b3b3" stroke-width="1.2"/>
<rect x="286.12" y="704.84" width="1.6" height="7.9" fill="#8a8a8a"/>
<rect x="292.92" y="704.84" width="1.6" height="7.9" fill="#8a8a8a"/>
<rect x="300.51" y="704.84" width="1.6" height="7.9" fill="#8a8a8a"/>
<rect x="307.29" y="704.84" width="1.6" height="7.9" fill="#8a8a8a"/>
<rect x="313.7" y="704.84" width="1.6" height="7.9" fill="#8a8a8a"/>
<rect x="334.3" y="705.44" width="12.5" height="6.7" fill="#ebebeb" stroke="#b3b3b3" stroke-width="1.2"/>
<rect x="340.31" y="704.84" width="1.6" height="7.9" fill="#8a8a8a"/>
<rect x="374.5" y="705.44" width="16.5" height="6.7" fill="#ebebeb" stroke="#b3b3b3" stroke-width="1.2"/>
<rect x="380.15" y="704.84" width="1.6" height="7.9" fill="#8a8a8a"/>
<rect x="388.08" y="704.84" width="1.6" height="7.9" fill="#8a8a8a"/>
<rect x="403" y="705.44" width="24.9" height="6.7" fill="#ebebeb" stroke="#b3b3b3" stroke-width="1.2"/>
<rect x="408.43" y="704.84" width="1.6" height="7.9" fill="#8a8a8a"/>
<rect x="416.22" y="704.84" width="1.6" height="7.9" fill="#8a8a8a"/>
<rect x="423.39" y="704.84" width="1.6" height="7.9" fill="#8a8a8a"/>
<rect x="439.3" y="705.44" width="107.8" height="6.7" fill="#ebebeb" stroke="#b3b3b3" stroke-width="1.2"/>
<rect x="445.3" y="704.84" width="1.6" height="7.9" fill="#8a8a8a"/>
<rect x="452.86" y="704.84" width="1.6" height="7.9" fill="#8a8a8a"/>
<rect x="460.63" y="704.84" width="1.6" height="7.9" fill="#8a8a8a"/>
<rect x="467.98" y="704.84" width="1.6" height="7.9" fill="#8a8a8a"/>
<rect x="475.33" y="704.84" width="1.6" height="7.9" fill="#8a8a8a"/>
<rect x="482.21" y="704.84" width="1.6" height="7.9" fill="#8a8a8a"/>
<rect x="488.43" y="704.84" width="1.6" height="7.9" fill="#8a8a8a"/>
<rect x="495.4" y="704.84" width="1.6" height="7.9" fill="#8a8a8a"/>
<rect x="501.75" y="704.84" width="1.6" height="7.9" fill="#8a8a8a"/>
<rect x="509.6" y="704.84" width="1.6" height="7.9" fill="#8a8a8a"/>
<rect x="516.4" y="704.84" width="1.6" height="7.9" fill="#8a8a8a"/>
<rect x="523.64" y="704.84" width="1.6" height="7.9" fill="#8a8a8a"/>
<rect x="531.11" y="704.84" width="1.6" height="7.9" fill="#8a8a8a"/>
<rect x="537.58" y="704.84" width="1.6" height="7.9" fill="#8a8a8a"/>
<rect x="221.2" y="704.84" width="1.4" height="7.9" fill="#7c7c7c"/>
<rect x="242.1" y="704.84" width="1.4" height="7.9" fill="#7c7c7c"/>
<rect x="261.7" y="704.84" width="1.4" height="7.9" fill="#7c7c7c"/>
<rect x="279.4" y="704.84" width="1.4" height="7.9" fill="#7c7c7c"/>
<rect x="320.6" y="704.84" width="1.4" height="7.9" fill="#7c7c7c"/>
<rect x="333.7" y="704.84" width="1.4" height="7.9" fill="#7c7c7c"/>
<rect x="346" y="704.84" width="1.4" height="7.9" fill="#7c7c7c"/>
<rect x="373.9" y="704.84" width="1.4" height="7.9" fill="#7c7c7c"/>
<rect x="390.2" y="704.84" width="1.4" height="7.9" fill="#7c7c7c"/>
<rect x="402.4" y="704.84" width="1.4" height="7.9" fill="#7c7c7c"/>
<rect x="427.1" y="704.84" width="1.4" height="7.9" fill="#7c7c7c"/>
<rect x="438.7" y="704.84" width="1.4" height="7.9" fill="#7c7c7c"/>
<rect x="546.3" y="704.84" width="1.4" height="7.9" fill="#7c7c7c"/>
<line x1="222.6" y1="717.96" x2="242.1" y2="717.96" stroke="#5c5c5c" stroke-width="1.5"/>
<line x1="263.1" y1="717.96" x2="279.4" y2="717.96" stroke="#5c5c5c" stroke-width="1.5"/>
<line x1="322" y1="717.96" x2="333.7" y2="717.96" stroke="#5c5c5c" stroke-width="1.5"/>
<line x1="347.4" y1="717.96" x2="373.9" y2="717.96" stroke="#5c5c5c" stroke-width="1.5"/>
<line x1="428.5" y1="717.96" x2="438.7" y2="717.96" stroke="#5c5c5c" stroke-width="1.5"/>
<rect x="150.8" y="714.36" width="71.2" height="6.7" fill="#ebebeb" stroke="#b3b3b3" stroke-width="1.2"/>
<rect x="156.03" y="713.76" width="1.6" height="7.9" fill="#8a8a8a"/>
<rect x="162.33" y="713.76" width="1.6" height="7.9" fill="#8a8a8a"/>
<rect x="169.56" y="713.76" width="1.6" height="7.9" fill="#8a8a8a"/>
<rect x="176.43" y="713.76" width="1.6" height="7.9" fill="#8a8a8a"/>
<rect x="184.23" y="713.76" width="1.6" height="7.9" fill="#8a8a8a"/>
<rect x="191.18" y="713.76" width="1.6" height="7.9" fill="#8a8a8a"/>
<rect x="197.51" y="713.76" width="1.6" height="7.9" fill="#8a8a8a"/>
<rect x="203.69" y="713.76" width="1.6" height="7.9" fill="#8a8a8a"/>
<rect x="209.89" y="713.76" width="1.6" height="7.9" fill="#8a8a8a"/>
<rect x="216.93" y="713.76" width="1.6" height="7.9" fill="#8a8a8a"/>
<rect x="242.7" y="714.36" width="19.8" height="6.7" fill="#ebebeb" stroke="#b3b3b3" stroke-width="1.2"/>
<rect x="247.27" y="713.76" width="1.6" height="7.9" fill="#8a8a8a"/>
<rect x="254.02" y="713.76" width="1.6" height="7.9" fill="#8a8a8a"/>
<rect x="280" y="714.36" width="41.4" height="6.7" fill="#ebebeb" stroke="#b3b3b3" stroke-width="1.2"/>
<rect x="286.6" y="713.76" width="1.6" height="7.9" fill="#8a8a8a"/>
<rect x="294.5" y="713.76" width="1.6" height="7.9" fill="#8a8a8a"/>
<rect x="302.23" y="713.76" width="1.6" height="7.9" fill="#8a8a8a"/>
<rect x="309.53" y="713.76" width="1.6" height="7.9" fill="#8a8a8a"/>
<rect x="316.71" y="713.76" width="1.6" height="7.9" fill="#8a8a8a"/>
<rect x="334.3" y="714.36" width="12.5" height="6.7" fill="#ebebeb" stroke="#b3b3b3" stroke-width="1.2"/>
<rect x="340.22" y="713.76" width="1.6" height="7.9" fill="#8a8a8a"/>
<rect x="374.5" y="714.36" width="16.5" height="6.7" fill="#ebebeb" stroke="#b3b3b3" stroke-width="1.2"/>
<rect x="379.68" y="713.76" width="1.6" height="7.9" fill="#8a8a8a"/>
<rect x="387.32" y="713.76" width="1.6" height="7.9" fill="#8a8a8a"/>
<rect x="403" y="714.36" width="24.9" height="6.7" fill="#ebebeb" stroke="#b3b3b3" stroke-width="1.2"/>
<rect x="409.19" y="713.76" width="1.6" height="7.9" fill="#8a8a8a"/>
<rect x="416.18" y="713.76" width="1.6" height="7.9" fill="#8a8a8a"/>
<rect x="422.83" y="713.76" width="1.6" height="7.9" fill="#8a8a8a"/>
<rect x="439.3" y="714.36" width="106.6" height="6.7" fill="#ebebeb" stroke="#b3b3b3" stroke-width="1.2"/>
<rect x="445.13" y="713.76" width="1.6" height="7.9" fill="#8a8a8a"/>
<rect x="451.71" y="713.76" width="1.6" height="7.9" fill="#8a8a8a"/>
<rect x="459.38" y="713.76" width="1.6" height="7.9" fill="#8a8a8a"/>
<rect x="467.3" y="713.76" width="1.6" height="7.9" fill="#8a8a8a"/>
<rect x="473.77" y="713.76" width="1.6" height="7.9" fill="#8a8a8a"/>
<rect x="480.36" y="713.76" width="1.6" height="7.9" fill="#8a8a8a"/>
<rect x="487.97" y="713.76" width="1.6" height="7.9" fill="#8a8a8a"/>
<rect x="495.42" y="713.76" width="1.6" height="7.9" fill="#8a8a8a"/>
<rect x="501.98" y="713.76" width="1.6" height="7.9" fill="#8a8a8a"/>
<rect x="509.18" y="713.76" width="1.6" height="7.9" fill="#8a8a8a"/>
<rect x="515.76" y="713.76" width="1.6" height="7.9" fill="#8a8a8a"/>
<rect x="523.46" y="713.76" width="1.6" height="7.9" fill="#8a8a8a"/>
<rect x="530.67" y="713.76" width="1.6" height="7.9" fill="#8a8a8a"/>
<rect x="537.74" y="713.76" width="1.6" height="7.9" fill="#8a8a8a"/>
<rect x="566.3" y="714.36" width="6.5" height="6.7" fill="#ebebeb" stroke="#b3b3b3" stroke-width="1.2"/>
<rect x="585.5" y="714.36" width="16" height="6.7" fill="#ebebeb" stroke="#b3b3b3" stroke-width="1.2"/>
<rect x="591.09" y="713.76" width="1.6" height="7.9" fill="#8a8a8a"/>
<rect x="597.89" y="713.76" width="1.6" height="7.9" fill="#8a8a8a"/>
<rect x="612.3" y="714.36" width="17.1" height="6.7" fill="#ebebeb" stroke="#b3b3b3" stroke-width="1.2"/>
<rect x="617.23" y="713.76" width="1.6" height="7.9" fill="#8a8a8a"/>
<rect x="624.64" y="713.76" width="1.6" height="7.9" fill="#8a8a8a"/>
<rect x="221.2" y="713.76" width="1.4" height="7.9" fill="#7c7c7c"/>
<rect x="242.1" y="713.76" width="1.4" height="7.9" fill="#7c7c7c"/>
<rect x="261.7" y="713.76" width="1.4" height="7.9" fill="#7c7c7c"/>
<rect x="279.4" y="713.76" width="1.4" height="7.9" fill="#7c7c7c"/>
<rect x="320.6" y="713.76" width="1.4" height="7.9" fill="#7c7c7c"/>
<rect x="333.7" y="713.76" width="1.4" height="7.9" fill="#7c7c7c"/>
<rect x="346" y="713.76" width="1.4" height="7.9" fill="#7c7c7c"/>
<rect x="373.9" y="713.76" width="1.4" height="7.9" fill="#7c7c7c"/>
<rect x="427.1" y="713.76" width="1.4" height="7.9" fill="#7c7c7c"/>
<rect x="438.7" y="713.76" width="1.4" height="7.9" fill="#7c7c7c"/>
<line x1="222.6" y1="726.88" x2="242.1" y2="726.88" stroke="#5c5c5c" stroke-width="1.5"/>
<line x1="263.1" y1="726.88" x2="279.4" y2="726.88" stroke="#5c5c5c" stroke-width="1.5"/>
<line x1="322" y1="726.88" x2="333.7" y2="726.88" stroke="#5c5c5c" stroke-width="1.5"/>
<line x1="347.4" y1="726.88" x2="373.9" y2="726.88" stroke="#5c5c5c" stroke-width="1.5"/>
<line x1="391.6" y1="726.88" x2="402.4" y2="726.88" stroke="#5c5c5c" stroke-width="1.5"/>
<line x1="428.5" y1="726.88" x2="438.7" y2="726.88" stroke="#5c5c5c" stroke-width="1.5"/>
<rect x="150.8" y="723.28" width="71.2" height="6.7" fill="#ebebeb" stroke="#b3b3b3" stroke-width="1.2"/>
<rect x="157.28" y="722.68" width="1.6" height="7.9" fill="#8a8a8a"/>
<rect x="164.53" y="722.68" width="1.6" height="7.9" fill="#8a8a8a"/>
<rect x="172.11" y="722.68" width="1.6" height="7.9" fill="#8a8a8a"/>
<rect x="178.5" y="722.68" width="1.6" height="7.9" fill="#8a8a8a"/>
<rect x="185.03" y="722.68" width="1.6" height="7.9" fill="#8a8a8a"/>
<rect x="192.44" y="722.68" width="1.6" height="7.9" fill="#8a8a8a"/>
<rect x="198.59" y="722.68" width="1.6" height="7.9" fill="#8a8a8a"/>
<rect x="204.9" y="722.68" width="1.6" height="7.9" fill="#8a8a8a"/>
<rect x="212.45" y="722.68" width="1.6" height="7.9" fill="#8a8a8a"/>
<rect x="218.95" y="722.68" width="1.6" height="7.9" fill="#8a8a8a"/>
<rect x="242.7" y="723.28" width="19.8" height="6.7" fill="#ebebeb" stroke="#b3b3b3" stroke-width="1.2"/>
<rect x="248.1" y="722.68" width="1.6" height="7.9" fill="#8a8a8a"/>
<rect x="255.76" y="722.68" width="1.6" height="7.9" fill="#8a8a8a"/>
<rect x="280" y="723.28" width="41.4" height="6.7" fill="#ebebeb" stroke="#b3b3b3" stroke-width="1.2"/>
<rect x="286.56" y="722.68" width="1.6" height="7.9" fill="#8a8a8a"/>
<rect x="293.25" y="722.68" width="1.6" height="7.9" fill="#8a8a8a"/>
<rect x="300.43" y="722.68" width="1.6" height="7.9" fill="#8a8a8a"/>
<rect x="307.43" y="722.68" width="1.6" height="7.9" fill="#8a8a8a"/>
<rect x="313.8" y="722.68" width="1.6" height="7.9" fill="#8a8a8a"/>
<rect x="334.3" y="723.28" width="12.5" height="6.7" fill="#ebebeb" stroke="#b3b3b3" stroke-width="1.2"/>
<rect x="339.17" y="722.68" width="1.6" height="7.9" fill="#8a8a8a"/>
<rect x="374.5" y="723.28" width="16.5" height="6.7" fill="#ebebeb" stroke="#b3b3b3" stroke-width="1.2"/>
<rect x="381.06" y="722.68" width="1.6" height="7.9" fill="#8a8a8a"/>
<rect x="388.03" y="722.68" width="1.6" height="7.9" fill="#8a8a8a"/>
<rect x="403" y="723.28" width="24.9" height="6.7" fill="#ebebeb" stroke="#b3b3b3" stroke-width="1.2"/>
<rect x="407.6" y="722.68" width="1.6" height="7.9" fill="#8a8a8a"/>
<rect x="414.02" y="722.68" width="1.6" height="7.9" fill="#8a8a8a"/>
<rect x="421.04" y="722.68" width="1.6" height="7.9" fill="#8a8a8a"/>
<rect x="439.3" y="723.28" width="8.6" height="6.7" fill="#ebebeb" stroke="#b3b3b3" stroke-width="1.2"/>
<rect x="450.6" y="723.28" width="97.2" height="6.7" fill="#ebebeb" stroke="#b3b3b3" stroke-width="1.2"/>
<rect x="456.31" y="722.68" width="1.6" height="7.9" fill="#8a8a8a"/>
<rect x="463.9" y="722.68" width="1.6" height="7.9" fill="#8a8a8a"/>
<rect x="470.57" y="722.68" width="1.6" height="7.9" fill="#8a8a8a"/>
<rect x="476.77" y="722.68" width="1.6" height="7.9" fill="#8a8a8a"/>
<rect x="484.52" y="722.68" width="1.6" height="7.9" fill="#8a8a8a"/>
<rect x="491.04" y="722.68" width="1.6" height="7.9" fill="#8a8a8a"/>
<rect x="497.94" y="722.68" width="1.6" height="7.9" fill="#8a8a8a"/>
<rect x="504.32" y="722.68" width="1.6" height="7.9" fill="#8a8a8a"/>
<rect x="511.53" y="722.68" width="1.6" height="7.9" fill="#8a8a8a"/>
<rect x="518.51" y="722.68" width="1.6" height="7.9" fill="#8a8a8a"/>
<rect x="525.02" y="722.68" width="1.6" height="7.9" fill="#8a8a8a"/>
<rect x="531.24" y="722.68" width="1.6" height="7.9" fill="#8a8a8a"/>
<rect x="538" y="722.68" width="1.6" height="7.9" fill="#8a8a8a"/>
<rect x="585.9" y="723.28" width="14.7" height="6.7" fill="#ebebeb" stroke="#b3b3b3" stroke-width="1.2"/>
<rect x="590.72" y="722.68" width="1.6" height="7.9" fill="#8a8a8a"/>
<rect x="597.28" y="722.68" width="1.6" height="7.9" fill="#8a8a8a"/>
<rect x="613.3" y="723.28" width="16.1" height="6.7" fill="#ebebeb" stroke="#b3b3b3" stroke-width="1.2"/>
<rect x="619.27" y="722.68" width="1.6" height="7.9" fill="#8a8a8a"/>
<rect x="221.2" y="722.68" width="1.4" height="7.9" fill="#7c7c7c"/>
<rect x="242.1" y="722.68" width="1.4" height="7.9" fill="#7c7c7c"/>
<rect x="261.7" y="722.68" width="1.4" height="7.9" fill="#7c7c7c"/>
<rect x="279.4" y="722.68" width="1.4" height="7.9" fill="#7c7c7c"/>
<rect x="320.6" y="722.68" width="1.4" height="7.9" fill="#7c7c7c"/>
<rect x="333.7" y="722.68" width="1.4" height="7.9" fill="#7c7c7c"/>
<rect x="346" y="722.68" width="1.4" height="7.9" fill="#7c7c7c"/>
<rect x="373.9" y="722.68" width="1.4" height="7.9" fill="#7c7c7c"/>
<rect x="390.2" y="722.68" width="1.4" height="7.9" fill="#7c7c7c"/>
<rect x="402.4" y="722.68" width="1.4" height="7.9" fill="#7c7c7c"/>
<rect x="427.1" y="722.68" width="1.4" height="7.9" fill="#7c7c7c"/>
<rect x="438.7" y="722.68" width="1.4" height="7.9" fill="#7c7c7c"/>
</g>
</svg></body></html>
